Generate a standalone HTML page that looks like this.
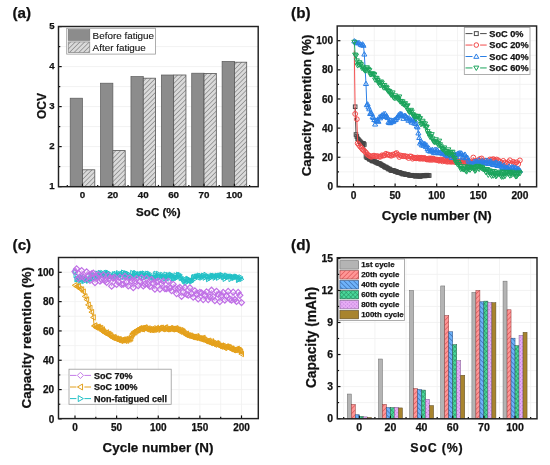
<!DOCTYPE html><html><head><meta charset="utf-8"><style>html,body{margin:0;padding:0;background:#fff;}svg{display:block;will-change:transform;}</style></head><body>
<svg width="550" height="465" viewBox="0 0 550 465" font-family='"Liberation Sans", sans-serif' fill="#111">
<style>text{stroke:#111;stroke-width:0.25px;paint-order:stroke;}</style>
<defs>
<pattern id="hatchA" patternUnits="userSpaceOnUse" width="3.3" height="3.3" patternTransform="rotate(45)">
<rect width="3.3" height="3.3" fill="#dadada"/><line x1="0" y1="0" x2="0" y2="3.3" stroke="#6e6e6e" stroke-width="1.1"/></pattern>
<pattern id="hR" patternUnits="userSpaceOnUse" width="3.4" height="3.4" patternTransform="rotate(45)">
<rect width="3.4" height="3.4" fill="#ff9696"/><line x1="0" y1="0" x2="0" y2="3.4" stroke="#d44848" stroke-width="1.1"/></pattern>
<pattern id="hB" patternUnits="userSpaceOnUse" width="3.4" height="3.4" patternTransform="rotate(-45)">
<rect width="3.4" height="3.4" fill="#6eb2fa"/><line x1="0" y1="0" x2="0" y2="3.4" stroke="#2a5696" stroke-width="1.0"/></pattern>
<pattern id="hG" patternUnits="userSpaceOnUse" width="3.2" height="3.2" patternTransform="rotate(45)">
<rect width="3.2" height="3.2" fill="#48d89a"/><line x1="0" y1="0" x2="0" y2="3.2" stroke="#1d7a50" stroke-width="0.8"/><line x1="0" y1="0" x2="3.2" y2="0" stroke="#1d7a50" stroke-width="0.8"/></pattern>
<pattern id="hP" patternUnits="userSpaceOnUse" width="2.6" height="2.6" patternTransform="rotate(45)">
<rect width="2.6" height="2.6" fill="#e8aef6"/><rect width="1.1" height="1.1" fill="#b878d6"/></pattern>
</defs>
<line x1="58.5" x2="258.2" y1="166.6" y2="166.6" stroke="#ededed" stroke-width="0.8"/>
<line x1="58.5" x2="258.2" y1="146.6" y2="146.6" stroke="#ededed" stroke-width="0.8"/>
<line x1="58.5" x2="258.2" y1="126.6" y2="126.6" stroke="#ededed" stroke-width="0.8"/>
<line x1="58.5" x2="258.2" y1="106.6" y2="106.6" stroke="#ededed" stroke-width="0.8"/>
<line x1="58.5" x2="258.2" y1="86.6" y2="86.6" stroke="#ededed" stroke-width="0.8"/>
<line x1="58.5" x2="258.2" y1="66.6" y2="66.6" stroke="#ededed" stroke-width="0.8"/>
<line x1="58.5" x2="258.2" y1="46.6" y2="46.6" stroke="#ededed" stroke-width="0.8"/>
<line x1="58.5" x2="258.2" y1="26.6" y2="26.6" stroke="#ededed" stroke-width="0.8"/>
<rect x="70.2" y="98.2" width="12.3" height="88.5" fill="#8c8c8c" stroke="#5a5a5a" stroke-width="0.7"/>
<rect x="82.5" y="169.8" width="12.3" height="16.9" fill="url(#hatchA)" stroke="#555" stroke-width="0.8"/>
<rect x="100.58" y="83.2" width="12.3" height="103.5" fill="#8c8c8c" stroke="#5a5a5a" stroke-width="0.7"/>
<rect x="112.88" y="150.6" width="12.3" height="36.1" fill="url(#hatchA)" stroke="#555" stroke-width="0.8"/>
<rect x="130.96" y="76.6" width="12.3" height="110.1" fill="#8c8c8c" stroke="#5a5a5a" stroke-width="0.7"/>
<rect x="143.26" y="78.2" width="12.3" height="108.5" fill="url(#hatchA)" stroke="#555" stroke-width="0.8"/>
<rect x="161.34" y="75" width="12.3" height="111.7" fill="#8c8c8c" stroke="#5a5a5a" stroke-width="0.7"/>
<rect x="173.64" y="75" width="12.3" height="111.7" fill="url(#hatchA)" stroke="#555" stroke-width="0.8"/>
<rect x="191.72" y="73.2" width="12.3" height="113.5" fill="#8c8c8c" stroke="#5a5a5a" stroke-width="0.7"/>
<rect x="204.02" y="73.4" width="12.3" height="113.3" fill="url(#hatchA)" stroke="#555" stroke-width="0.8"/>
<rect x="222.1" y="61.4" width="12.3" height="125.3" fill="#8c8c8c" stroke="#5a5a5a" stroke-width="0.7"/>
<rect x="234.4" y="62.2" width="12.3" height="124.5" fill="url(#hatchA)" stroke="#555" stroke-width="0.8"/>
<line x1="58.5" x2="61.7" y1="186.6" y2="186.6" stroke="#111" stroke-width="1.2"/>
<line x1="58.5" x2="61.7" y1="146.6" y2="146.6" stroke="#111" stroke-width="1.2"/>
<line x1="58.5" x2="61.7" y1="106.6" y2="106.6" stroke="#111" stroke-width="1.2"/>
<line x1="58.5" x2="61.7" y1="66.6" y2="66.6" stroke="#111" stroke-width="1.2"/>
<line x1="58.5" x2="61.7" y1="26.6" y2="26.6" stroke="#111" stroke-width="1.2"/>
<line x1="58.5" x2="60.3" y1="166.6" y2="166.6" stroke="#111" stroke-width="1.2"/>
<line x1="58.5" x2="60.3" y1="126.6" y2="126.6" stroke="#111" stroke-width="1.2"/>
<line x1="58.5" x2="60.3" y1="86.6" y2="86.6" stroke="#111" stroke-width="1.2"/>
<line x1="58.5" x2="60.3" y1="46.6" y2="46.6" stroke="#111" stroke-width="1.2"/>
<line x1="82.5" x2="82.5" y1="186.7" y2="183.7" stroke="#111" stroke-width="1.2"/>
<line x1="112.88" x2="112.88" y1="186.7" y2="183.7" stroke="#111" stroke-width="1.2"/>
<line x1="143.26" x2="143.26" y1="186.7" y2="183.7" stroke="#111" stroke-width="1.2"/>
<line x1="173.64" x2="173.64" y1="186.7" y2="183.7" stroke="#111" stroke-width="1.2"/>
<line x1="204.02" x2="204.02" y1="186.7" y2="183.7" stroke="#111" stroke-width="1.2"/>
<line x1="234.4" x2="234.4" y1="186.7" y2="183.7" stroke="#111" stroke-width="1.2"/>
<line x1="97.7" x2="97.7" y1="186.7" y2="184.9" stroke="#111" stroke-width="1.2"/>
<line x1="128.08" x2="128.08" y1="186.7" y2="184.9" stroke="#111" stroke-width="1.2"/>
<line x1="158.46" x2="158.46" y1="186.7" y2="184.9" stroke="#111" stroke-width="1.2"/>
<line x1="188.84" x2="188.84" y1="186.7" y2="184.9" stroke="#111" stroke-width="1.2"/>
<line x1="219.22" x2="219.22" y1="186.7" y2="184.9" stroke="#111" stroke-width="1.2"/>
<line x1="249.6" x2="249.6" y1="186.7" y2="184.9" stroke="#111" stroke-width="1.2"/>
<line x1="67.3" x2="67.3" y1="186.7" y2="184.9" stroke="#111" stroke-width="1.2"/>
<rect x="58.5" y="26.5" width="199.7" height="160.2" fill="none" stroke="#222" stroke-width="1.45"/>
<text x="54.6" y="189.3" font-size="9.6" text-anchor="end" font-weight="bold" >1</text>
<text x="54.6" y="149.3" font-size="9.6" text-anchor="end" font-weight="bold" >2</text>
<text x="54.6" y="109.3" font-size="9.6" text-anchor="end" font-weight="bold" >3</text>
<text x="54.6" y="69.3" font-size="9.6" text-anchor="end" font-weight="bold" >4</text>
<text x="54.6" y="29.3" font-size="9.6" text-anchor="end" font-weight="bold" >5</text>
<text x="82.5" y="198.2" font-size="9.8" text-anchor="middle" font-weight="bold" >0</text>
<text x="112.88" y="198.2" font-size="9.8" text-anchor="middle" font-weight="bold" >20</text>
<text x="143.26" y="198.2" font-size="9.8" text-anchor="middle" font-weight="bold" >40</text>
<text x="173.64" y="198.2" font-size="9.8" text-anchor="middle" font-weight="bold" >60</text>
<text x="204.02" y="198.2" font-size="9.8" text-anchor="middle" font-weight="bold" >70</text>
<text x="234.4" y="198.2" font-size="9.8" text-anchor="middle" font-weight="bold" >100</text>
<text x="158.3" y="216.2" font-size="11.6" text-anchor="middle" font-weight="bold" >SoC (%)</text>
<text transform="translate(45.6,106) rotate(-90)" font-size="12.0" text-anchor="middle" font-weight="bold">OCV</text>
<text x="21.8" y="18.2" font-size="15.2" text-anchor="middle" font-weight="bold" >(a)</text>
<rect x="66.7" y="28.3" width="88.8" height="25.8" fill="#fff" stroke="#9a9a9a" stroke-width="0.8"/>
<rect x="68.2" y="29.6" width="21.6" height="10.8" fill="#8c8c8c" stroke="#6e6e6e" stroke-width="0.6"/>
<rect x="68.2" y="41.9" width="21.6" height="10.6" fill="url(#hatchA)" stroke="#707070" stroke-width="0.6"/>
<text x="92.6" y="38.6" font-size="9.9" text-anchor="start" font-weight="normal" style="stroke-width:0.12px">Before fatigue</text>
<text x="92.6" y="50.6" font-size="9.9" text-anchor="start" font-weight="normal" style="stroke-width:0.12px">After fatigue</text>
<line x1="353.5" x2="353.5" y1="26" y2="186.8" stroke="#f0f0f0" stroke-width="0.8"/>
<line x1="374.3" x2="374.3" y1="26" y2="186.8" stroke="#f0f0f0" stroke-width="0.8"/>
<line x1="395.1" x2="395.1" y1="26" y2="186.8" stroke="#f0f0f0" stroke-width="0.8"/>
<line x1="415.9" x2="415.9" y1="26" y2="186.8" stroke="#f0f0f0" stroke-width="0.8"/>
<line x1="436.7" x2="436.7" y1="26" y2="186.8" stroke="#f0f0f0" stroke-width="0.8"/>
<line x1="457.5" x2="457.5" y1="26" y2="186.8" stroke="#f0f0f0" stroke-width="0.8"/>
<line x1="478.3" x2="478.3" y1="26" y2="186.8" stroke="#f0f0f0" stroke-width="0.8"/>
<line x1="499.1" x2="499.1" y1="26" y2="186.8" stroke="#f0f0f0" stroke-width="0.8"/>
<line x1="519.9" x2="519.9" y1="26" y2="186.8" stroke="#f0f0f0" stroke-width="0.8"/>
<line x1="337.2" x2="536.6" y1="171.83" y2="171.83" stroke="#f0f0f0" stroke-width="0.8"/>
<line x1="337.2" x2="536.6" y1="157.26" y2="157.26" stroke="#f0f0f0" stroke-width="0.8"/>
<line x1="337.2" x2="536.6" y1="142.69" y2="142.69" stroke="#f0f0f0" stroke-width="0.8"/>
<line x1="337.2" x2="536.6" y1="128.12" y2="128.12" stroke="#f0f0f0" stroke-width="0.8"/>
<line x1="337.2" x2="536.6" y1="113.55" y2="113.55" stroke="#f0f0f0" stroke-width="0.8"/>
<line x1="337.2" x2="536.6" y1="98.98" y2="98.98" stroke="#f0f0f0" stroke-width="0.8"/>
<line x1="337.2" x2="536.6" y1="84.41" y2="84.41" stroke="#f0f0f0" stroke-width="0.8"/>
<line x1="337.2" x2="536.6" y1="69.84" y2="69.84" stroke="#f0f0f0" stroke-width="0.8"/>
<line x1="337.2" x2="536.6" y1="55.27" y2="55.27" stroke="#f0f0f0" stroke-width="0.8"/>
<line x1="337.2" x2="536.6" y1="40.7" y2="40.7" stroke="#f0f0f0" stroke-width="0.8"/>
<path d="M355.16 106.73L356 134.52L356.83 136.49L357.66 138.82L358.49 139.66L359.32 140.76L360.16 141.63L360.99 142.56L361.82 143.62L362.65 143.88L363.48 143.38L364.32 144.52L365.98 156.3L366.81 157.58L367.64 157.8L368.48 158.17L369.31 159.22L370.14 159.2L370.97 159.59L371.8 160.71L372.64 161.06L373.47 160.96L374.3 160.97L375.13 161.81L375.96 162.3L376.8 162.48L377.63 163.17L378.46 163.36L379.29 163.52L380.12 163.82L380.96 164.55L381.79 165.05L382.62 165.56L383.45 165.84L384.28 166.49L385.12 167.22L385.95 167.01L386.78 167.75L387.61 168.17L388.44 169.07L389.28 168.86L390.11 169.48L390.94 170.39L391.77 170.47L392.6 170.4L393.44 170.67L394.27 170.74L395.1 171.46L395.93 171.37L396.76 171.78L397.6 172.37L398.43 172.38L399.26 172.39L400.09 172.69L400.92 173.19L401.76 173.31L402.59 173.99L403.42 174L404.25 173.71L405.08 174.24L405.92 174.64L406.75 174.51L407.58 174.57L408.41 174.79L409.24 175.24L410.08 175.38L410.91 175.39L411.74 175.23L412.57 175.53L413.4 175.71L414.24 175.7L415.07 176.18L415.9 176.24L416.73 175.73L417.56 175.56L418.4 175.97L419.23 176.22L420.06 176.49L420.89 176.12L421.72 175.62L422.56 175.73L423.39 175.85L424.22 175.49L425.05 175.96L425.88 175.63L426.72 175.17L427.55 175.42L428.38 175.44L429.21 175.53" fill="none" stroke="#454545" stroke-width="1.0"/>
<rect x="353.38" y="104.95" width="3.57" height="3.57" fill="none" stroke="#454545" stroke-width="1.0"/>
<rect x="354.21" y="132.73" width="3.57" height="3.57" fill="none" stroke="#454545" stroke-width="1.0"/>
<rect x="355.04" y="134.7" width="3.57" height="3.57" fill="none" stroke="#454545" stroke-width="1.0"/>
<rect x="355.88" y="137.04" width="3.57" height="3.57" fill="none" stroke="#454545" stroke-width="1.0"/>
<rect x="356.71" y="137.88" width="3.57" height="3.57" fill="none" stroke="#454545" stroke-width="1.0"/>
<rect x="357.54" y="138.97" width="3.57" height="3.57" fill="none" stroke="#454545" stroke-width="1.0"/>
<rect x="358.37" y="139.84" width="3.57" height="3.57" fill="none" stroke="#454545" stroke-width="1.0"/>
<rect x="359.2" y="140.77" width="3.57" height="3.57" fill="none" stroke="#454545" stroke-width="1.0"/>
<rect x="360.03" y="141.84" width="3.57" height="3.57" fill="none" stroke="#454545" stroke-width="1.0"/>
<rect x="360.87" y="142.1" width="3.57" height="3.57" fill="none" stroke="#454545" stroke-width="1.0"/>
<rect x="361.7" y="141.59" width="3.57" height="3.57" fill="none" stroke="#454545" stroke-width="1.0"/>
<rect x="362.53" y="142.73" width="3.57" height="3.57" fill="none" stroke="#454545" stroke-width="1.0"/>
<rect x="364.19" y="154.52" width="3.57" height="3.57" fill="none" stroke="#454545" stroke-width="1.0"/>
<rect x="365.03" y="155.79" width="3.57" height="3.57" fill="none" stroke="#454545" stroke-width="1.0"/>
<rect x="365.86" y="156.02" width="3.57" height="3.57" fill="none" stroke="#454545" stroke-width="1.0"/>
<rect x="366.69" y="156.39" width="3.57" height="3.57" fill="none" stroke="#454545" stroke-width="1.0"/>
<rect x="367.52" y="157.43" width="3.57" height="3.57" fill="none" stroke="#454545" stroke-width="1.0"/>
<rect x="368.35" y="157.42" width="3.57" height="3.57" fill="none" stroke="#454545" stroke-width="1.0"/>
<rect x="369.19" y="157.81" width="3.57" height="3.57" fill="none" stroke="#454545" stroke-width="1.0"/>
<rect x="370.02" y="158.92" width="3.57" height="3.57" fill="none" stroke="#454545" stroke-width="1.0"/>
<rect x="370.85" y="159.28" width="3.57" height="3.57" fill="none" stroke="#454545" stroke-width="1.0"/>
<rect x="371.68" y="159.18" width="3.57" height="3.57" fill="none" stroke="#454545" stroke-width="1.0"/>
<rect x="372.51" y="159.18" width="3.57" height="3.57" fill="none" stroke="#454545" stroke-width="1.0"/>
<rect x="373.35" y="160.02" width="3.57" height="3.57" fill="none" stroke="#454545" stroke-width="1.0"/>
<rect x="374.18" y="160.52" width="3.57" height="3.57" fill="none" stroke="#454545" stroke-width="1.0"/>
<rect x="375.01" y="160.69" width="3.57" height="3.57" fill="none" stroke="#454545" stroke-width="1.0"/>
<rect x="375.84" y="161.39" width="3.57" height="3.57" fill="none" stroke="#454545" stroke-width="1.0"/>
<rect x="376.67" y="161.57" width="3.57" height="3.57" fill="none" stroke="#454545" stroke-width="1.0"/>
<rect x="377.51" y="161.73" width="3.57" height="3.57" fill="none" stroke="#454545" stroke-width="1.0"/>
<rect x="378.34" y="162.04" width="3.57" height="3.57" fill="none" stroke="#454545" stroke-width="1.0"/>
<rect x="379.17" y="162.76" width="3.57" height="3.57" fill="none" stroke="#454545" stroke-width="1.0"/>
<rect x="380" y="163.26" width="3.57" height="3.57" fill="none" stroke="#454545" stroke-width="1.0"/>
<rect x="380.83" y="163.77" width="3.57" height="3.57" fill="none" stroke="#454545" stroke-width="1.0"/>
<rect x="381.67" y="164.06" width="3.57" height="3.57" fill="none" stroke="#454545" stroke-width="1.0"/>
<rect x="382.5" y="164.7" width="3.57" height="3.57" fill="none" stroke="#454545" stroke-width="1.0"/>
<rect x="383.33" y="165.44" width="3.57" height="3.57" fill="none" stroke="#454545" stroke-width="1.0"/>
<rect x="384.16" y="165.22" width="3.57" height="3.57" fill="none" stroke="#454545" stroke-width="1.0"/>
<rect x="384.99" y="165.96" width="3.57" height="3.57" fill="none" stroke="#454545" stroke-width="1.0"/>
<rect x="385.83" y="166.39" width="3.57" height="3.57" fill="none" stroke="#454545" stroke-width="1.0"/>
<rect x="386.66" y="167.28" width="3.57" height="3.57" fill="none" stroke="#454545" stroke-width="1.0"/>
<rect x="387.49" y="167.08" width="3.57" height="3.57" fill="none" stroke="#454545" stroke-width="1.0"/>
<rect x="388.32" y="167.69" width="3.57" height="3.57" fill="none" stroke="#454545" stroke-width="1.0"/>
<rect x="389.15" y="168.6" width="3.57" height="3.57" fill="none" stroke="#454545" stroke-width="1.0"/>
<rect x="389.99" y="168.69" width="3.57" height="3.57" fill="none" stroke="#454545" stroke-width="1.0"/>
<rect x="390.82" y="168.61" width="3.57" height="3.57" fill="none" stroke="#454545" stroke-width="1.0"/>
<rect x="391.65" y="168.89" width="3.57" height="3.57" fill="none" stroke="#454545" stroke-width="1.0"/>
<rect x="392.48" y="168.96" width="3.57" height="3.57" fill="none" stroke="#454545" stroke-width="1.0"/>
<rect x="393.31" y="169.68" width="3.57" height="3.57" fill="none" stroke="#454545" stroke-width="1.0"/>
<rect x="394.15" y="169.59" width="3.57" height="3.57" fill="none" stroke="#454545" stroke-width="1.0"/>
<rect x="394.98" y="169.99" width="3.57" height="3.57" fill="none" stroke="#454545" stroke-width="1.0"/>
<rect x="395.81" y="170.58" width="3.57" height="3.57" fill="none" stroke="#454545" stroke-width="1.0"/>
<rect x="396.64" y="170.6" width="3.57" height="3.57" fill="none" stroke="#454545" stroke-width="1.0"/>
<rect x="397.47" y="170.61" width="3.57" height="3.57" fill="none" stroke="#454545" stroke-width="1.0"/>
<rect x="398.31" y="170.91" width="3.57" height="3.57" fill="none" stroke="#454545" stroke-width="1.0"/>
<rect x="399.14" y="171.4" width="3.57" height="3.57" fill="none" stroke="#454545" stroke-width="1.0"/>
<rect x="399.97" y="171.52" width="3.57" height="3.57" fill="none" stroke="#454545" stroke-width="1.0"/>
<rect x="400.8" y="172.2" width="3.57" height="3.57" fill="none" stroke="#454545" stroke-width="1.0"/>
<rect x="401.63" y="172.21" width="3.57" height="3.57" fill="none" stroke="#454545" stroke-width="1.0"/>
<rect x="402.47" y="171.92" width="3.57" height="3.57" fill="none" stroke="#454545" stroke-width="1.0"/>
<rect x="403.3" y="172.45" width="3.57" height="3.57" fill="none" stroke="#454545" stroke-width="1.0"/>
<rect x="404.13" y="172.86" width="3.57" height="3.57" fill="none" stroke="#454545" stroke-width="1.0"/>
<rect x="404.96" y="172.72" width="3.57" height="3.57" fill="none" stroke="#454545" stroke-width="1.0"/>
<rect x="405.79" y="172.78" width="3.57" height="3.57" fill="none" stroke="#454545" stroke-width="1.0"/>
<rect x="406.63" y="173" width="3.57" height="3.57" fill="none" stroke="#454545" stroke-width="1.0"/>
<rect x="407.46" y="173.46" width="3.57" height="3.57" fill="none" stroke="#454545" stroke-width="1.0"/>
<rect x="408.29" y="173.6" width="3.57" height="3.57" fill="none" stroke="#454545" stroke-width="1.0"/>
<rect x="409.12" y="173.61" width="3.57" height="3.57" fill="none" stroke="#454545" stroke-width="1.0"/>
<rect x="409.95" y="173.44" width="3.57" height="3.57" fill="none" stroke="#454545" stroke-width="1.0"/>
<rect x="410.79" y="173.74" width="3.57" height="3.57" fill="none" stroke="#454545" stroke-width="1.0"/>
<rect x="411.62" y="173.93" width="3.57" height="3.57" fill="none" stroke="#454545" stroke-width="1.0"/>
<rect x="412.45" y="173.92" width="3.57" height="3.57" fill="none" stroke="#454545" stroke-width="1.0"/>
<rect x="413.28" y="174.39" width="3.57" height="3.57" fill="none" stroke="#454545" stroke-width="1.0"/>
<rect x="414.11" y="174.45" width="3.57" height="3.57" fill="none" stroke="#454545" stroke-width="1.0"/>
<rect x="414.95" y="173.95" width="3.57" height="3.57" fill="none" stroke="#454545" stroke-width="1.0"/>
<rect x="415.78" y="173.78" width="3.57" height="3.57" fill="none" stroke="#454545" stroke-width="1.0"/>
<rect x="416.61" y="174.19" width="3.57" height="3.57" fill="none" stroke="#454545" stroke-width="1.0"/>
<rect x="417.44" y="174.44" width="3.57" height="3.57" fill="none" stroke="#454545" stroke-width="1.0"/>
<rect x="418.27" y="174.7" width="3.57" height="3.57" fill="none" stroke="#454545" stroke-width="1.0"/>
<rect x="419.11" y="174.33" width="3.57" height="3.57" fill="none" stroke="#454545" stroke-width="1.0"/>
<rect x="419.94" y="173.84" width="3.57" height="3.57" fill="none" stroke="#454545" stroke-width="1.0"/>
<rect x="420.77" y="173.94" width="3.57" height="3.57" fill="none" stroke="#454545" stroke-width="1.0"/>
<rect x="421.6" y="174.06" width="3.57" height="3.57" fill="none" stroke="#454545" stroke-width="1.0"/>
<rect x="422.44" y="173.7" width="3.57" height="3.57" fill="none" stroke="#454545" stroke-width="1.0"/>
<rect x="423.27" y="174.17" width="3.57" height="3.57" fill="none" stroke="#454545" stroke-width="1.0"/>
<rect x="424.1" y="173.85" width="3.57" height="3.57" fill="none" stroke="#454545" stroke-width="1.0"/>
<rect x="424.93" y="173.38" width="3.57" height="3.57" fill="none" stroke="#454545" stroke-width="1.0"/>
<rect x="425.76" y="173.63" width="3.57" height="3.57" fill="none" stroke="#454545" stroke-width="1.0"/>
<rect x="426.59" y="173.66" width="3.57" height="3.57" fill="none" stroke="#454545" stroke-width="1.0"/>
<rect x="427.43" y="173.74" width="3.57" height="3.57" fill="none" stroke="#454545" stroke-width="1.0"/>
<path d="M354.33 50.5L355.16 113.89L356.83 119.18L357.66 143.34L358.91 144.87L360.16 146.56L361.4 147.93L362.65 149.54L363.9 150.53L365.15 151.78L366.4 153.07L367.64 154.72L368.89 155.48L370.14 156.33L371.39 156.86L372.64 155.94L373.97 155.61L375.3 156.33L376.63 156.16L377.96 156.22L379.29 156.76L380.62 156.68L381.95 155.29L383.29 155.61L384.62 155.32L385.95 153.74L387.28 154.73L388.61 154.55L389.94 155.42L391.27 155.79L392.6 154.64L393.94 154.91L395.27 153.68L396.6 153.04L397.93 154.76L399.26 156.97L400.59 155.45L401.92 155.9L403.25 156.24L404.58 155.91L405.92 156.49L407.25 156.58L408.58 158.02L409.91 156.36L411.24 156.58L412.57 158.73L413.4 157.57L414.24 157.7L415.07 158.27L415.9 158.18L416.73 158.31L417.56 157.48L418.4 158.39L419.23 157.77L420.06 158.8L420.89 157.77L421.72 157.79L422.56 158.73L423.39 158.56L424.22 157.9L425.05 158.35L425.88 158.88L426.72 159.47L427.55 159.32L428.38 158.6L429.21 159.78L430.04 158.35L430.88 159.74L431.71 158.52L432.54 159.83L433.37 158.6L434.2 159.2L435.04 159.7L435.87 159.76L436.7 159.57L437.53 159.79L438.36 160.44L439.2 160.74L440.03 160.21L440.86 159.43L441.69 160.16L442.52 161.36L443.36 159.93L444.19 160.21L445.02 159.93L445.85 161.43L446.68 160.34L447.52 161.79L448.35 160.62L449.18 161.44L450.01 161.58L450.84 160.3L451.68 161.91L452.51 161.1L453.34 160.47L454.17 161.76L455 161.87L455.84 160.55L456.67 161.53L457.5 160.97L458.33 162.41L459.16 161.78L460 162.21L460.83 161.23L461.66 162.48L462.49 160.7L463.32 162.6L464.16 161.16L464.99 162.61L465.82 162.13L466.65 160.99L467.48 162.33L468.32 162.28L469.15 161.24L469.98 162.16L471.64 162.83L473.31 157.48L474.97 160.95L476.64 161.55L478.3 160.17L479.96 158.97L481.63 158.43L483.29 161.51L484.96 160.7L486.62 162.36L488.28 160.65L489.95 159.4L491.61 159.7L493.28 159.06L494.94 159.86L496.6 159.47L498.27 160.32L499.93 161.52L501.6 162.79L503.26 160.88L504.92 162.57L506.59 163.66L508.25 162.14L509.92 160.23L511.58 163.8L513.24 161.76L514.91 162.74L516.57 162.26L518.24 164.08L519.9 160.36" fill="none" stroke="#f24a4a" stroke-width="1.0"/>
<circle cx="355.16" cy="113.89" r="2.4" fill="none" stroke="#f24a4a" stroke-width="1.0"/>
<circle cx="356.83" cy="119.18" r="2.4" fill="none" stroke="#f24a4a" stroke-width="1.0"/>
<circle cx="357.66" cy="143.34" r="2.4" fill="none" stroke="#f24a4a" stroke-width="1.0"/>
<circle cx="358.91" cy="144.87" r="2.4" fill="none" stroke="#f24a4a" stroke-width="1.0"/>
<circle cx="360.16" cy="146.56" r="2.4" fill="none" stroke="#f24a4a" stroke-width="1.0"/>
<circle cx="361.4" cy="147.93" r="2.4" fill="none" stroke="#f24a4a" stroke-width="1.0"/>
<circle cx="362.65" cy="149.54" r="2.4" fill="none" stroke="#f24a4a" stroke-width="1.0"/>
<circle cx="363.9" cy="150.53" r="2.4" fill="none" stroke="#f24a4a" stroke-width="1.0"/>
<circle cx="365.15" cy="151.78" r="2.4" fill="none" stroke="#f24a4a" stroke-width="1.0"/>
<circle cx="366.4" cy="153.07" r="2.4" fill="none" stroke="#f24a4a" stroke-width="1.0"/>
<circle cx="367.64" cy="154.72" r="2.4" fill="none" stroke="#f24a4a" stroke-width="1.0"/>
<circle cx="368.89" cy="155.48" r="2.4" fill="none" stroke="#f24a4a" stroke-width="1.0"/>
<circle cx="370.14" cy="156.33" r="2.4" fill="none" stroke="#f24a4a" stroke-width="1.0"/>
<circle cx="371.39" cy="156.86" r="2.4" fill="none" stroke="#f24a4a" stroke-width="1.0"/>
<circle cx="372.64" cy="155.94" r="2.4" fill="none" stroke="#f24a4a" stroke-width="1.0"/>
<circle cx="373.97" cy="155.61" r="2.4" fill="none" stroke="#f24a4a" stroke-width="1.0"/>
<circle cx="375.3" cy="156.33" r="2.4" fill="none" stroke="#f24a4a" stroke-width="1.0"/>
<circle cx="376.63" cy="156.16" r="2.4" fill="none" stroke="#f24a4a" stroke-width="1.0"/>
<circle cx="377.96" cy="156.22" r="2.4" fill="none" stroke="#f24a4a" stroke-width="1.0"/>
<circle cx="379.29" cy="156.76" r="2.4" fill="none" stroke="#f24a4a" stroke-width="1.0"/>
<circle cx="380.62" cy="156.68" r="2.4" fill="none" stroke="#f24a4a" stroke-width="1.0"/>
<circle cx="381.95" cy="155.29" r="2.4" fill="none" stroke="#f24a4a" stroke-width="1.0"/>
<circle cx="383.29" cy="155.61" r="2.4" fill="none" stroke="#f24a4a" stroke-width="1.0"/>
<circle cx="384.62" cy="155.32" r="2.4" fill="none" stroke="#f24a4a" stroke-width="1.0"/>
<circle cx="385.95" cy="153.74" r="2.4" fill="none" stroke="#f24a4a" stroke-width="1.0"/>
<circle cx="387.28" cy="154.73" r="2.4" fill="none" stroke="#f24a4a" stroke-width="1.0"/>
<circle cx="388.61" cy="154.55" r="2.4" fill="none" stroke="#f24a4a" stroke-width="1.0"/>
<circle cx="389.94" cy="155.42" r="2.4" fill="none" stroke="#f24a4a" stroke-width="1.0"/>
<circle cx="391.27" cy="155.79" r="2.4" fill="none" stroke="#f24a4a" stroke-width="1.0"/>
<circle cx="392.6" cy="154.64" r="2.4" fill="none" stroke="#f24a4a" stroke-width="1.0"/>
<circle cx="393.94" cy="154.91" r="2.4" fill="none" stroke="#f24a4a" stroke-width="1.0"/>
<circle cx="395.27" cy="153.68" r="2.4" fill="none" stroke="#f24a4a" stroke-width="1.0"/>
<circle cx="396.6" cy="153.04" r="2.4" fill="none" stroke="#f24a4a" stroke-width="1.0"/>
<circle cx="397.93" cy="154.76" r="2.4" fill="none" stroke="#f24a4a" stroke-width="1.0"/>
<circle cx="399.26" cy="156.97" r="2.4" fill="none" stroke="#f24a4a" stroke-width="1.0"/>
<circle cx="400.59" cy="155.45" r="2.4" fill="none" stroke="#f24a4a" stroke-width="1.0"/>
<circle cx="401.92" cy="155.9" r="2.4" fill="none" stroke="#f24a4a" stroke-width="1.0"/>
<circle cx="403.25" cy="156.24" r="2.4" fill="none" stroke="#f24a4a" stroke-width="1.0"/>
<circle cx="404.58" cy="155.91" r="2.4" fill="none" stroke="#f24a4a" stroke-width="1.0"/>
<circle cx="405.92" cy="156.49" r="2.4" fill="none" stroke="#f24a4a" stroke-width="1.0"/>
<circle cx="407.25" cy="156.58" r="2.4" fill="none" stroke="#f24a4a" stroke-width="1.0"/>
<circle cx="408.58" cy="158.02" r="2.4" fill="none" stroke="#f24a4a" stroke-width="1.0"/>
<circle cx="409.91" cy="156.36" r="2.4" fill="none" stroke="#f24a4a" stroke-width="1.0"/>
<circle cx="411.24" cy="156.58" r="2.4" fill="none" stroke="#f24a4a" stroke-width="1.0"/>
<circle cx="412.57" cy="158.73" r="2.4" fill="none" stroke="#f24a4a" stroke-width="1.0"/>
<circle cx="413.4" cy="157.57" r="2.4" fill="none" stroke="#f24a4a" stroke-width="1.0"/>
<circle cx="414.24" cy="157.7" r="2.4" fill="none" stroke="#f24a4a" stroke-width="1.0"/>
<circle cx="415.07" cy="158.27" r="2.4" fill="none" stroke="#f24a4a" stroke-width="1.0"/>
<circle cx="415.9" cy="158.18" r="2.4" fill="none" stroke="#f24a4a" stroke-width="1.0"/>
<circle cx="416.73" cy="158.31" r="2.4" fill="none" stroke="#f24a4a" stroke-width="1.0"/>
<circle cx="417.56" cy="157.48" r="2.4" fill="none" stroke="#f24a4a" stroke-width="1.0"/>
<circle cx="418.4" cy="158.39" r="2.4" fill="none" stroke="#f24a4a" stroke-width="1.0"/>
<circle cx="419.23" cy="157.77" r="2.4" fill="none" stroke="#f24a4a" stroke-width="1.0"/>
<circle cx="420.06" cy="158.8" r="2.4" fill="none" stroke="#f24a4a" stroke-width="1.0"/>
<circle cx="420.89" cy="157.77" r="2.4" fill="none" stroke="#f24a4a" stroke-width="1.0"/>
<circle cx="421.72" cy="157.79" r="2.4" fill="none" stroke="#f24a4a" stroke-width="1.0"/>
<circle cx="422.56" cy="158.73" r="2.4" fill="none" stroke="#f24a4a" stroke-width="1.0"/>
<circle cx="423.39" cy="158.56" r="2.4" fill="none" stroke="#f24a4a" stroke-width="1.0"/>
<circle cx="424.22" cy="157.9" r="2.4" fill="none" stroke="#f24a4a" stroke-width="1.0"/>
<circle cx="425.05" cy="158.35" r="2.4" fill="none" stroke="#f24a4a" stroke-width="1.0"/>
<circle cx="425.88" cy="158.88" r="2.4" fill="none" stroke="#f24a4a" stroke-width="1.0"/>
<circle cx="426.72" cy="159.47" r="2.4" fill="none" stroke="#f24a4a" stroke-width="1.0"/>
<circle cx="427.55" cy="159.32" r="2.4" fill="none" stroke="#f24a4a" stroke-width="1.0"/>
<circle cx="428.38" cy="158.6" r="2.4" fill="none" stroke="#f24a4a" stroke-width="1.0"/>
<circle cx="429.21" cy="159.78" r="2.4" fill="none" stroke="#f24a4a" stroke-width="1.0"/>
<circle cx="430.04" cy="158.35" r="2.4" fill="none" stroke="#f24a4a" stroke-width="1.0"/>
<circle cx="430.88" cy="159.74" r="2.4" fill="none" stroke="#f24a4a" stroke-width="1.0"/>
<circle cx="431.71" cy="158.52" r="2.4" fill="none" stroke="#f24a4a" stroke-width="1.0"/>
<circle cx="432.54" cy="159.83" r="2.4" fill="none" stroke="#f24a4a" stroke-width="1.0"/>
<circle cx="433.37" cy="158.6" r="2.4" fill="none" stroke="#f24a4a" stroke-width="1.0"/>
<circle cx="434.2" cy="159.2" r="2.4" fill="none" stroke="#f24a4a" stroke-width="1.0"/>
<circle cx="435.04" cy="159.7" r="2.4" fill="none" stroke="#f24a4a" stroke-width="1.0"/>
<circle cx="435.87" cy="159.76" r="2.4" fill="none" stroke="#f24a4a" stroke-width="1.0"/>
<circle cx="436.7" cy="159.57" r="2.4" fill="none" stroke="#f24a4a" stroke-width="1.0"/>
<circle cx="437.53" cy="159.79" r="2.4" fill="none" stroke="#f24a4a" stroke-width="1.0"/>
<circle cx="438.36" cy="160.44" r="2.4" fill="none" stroke="#f24a4a" stroke-width="1.0"/>
<circle cx="439.2" cy="160.74" r="2.4" fill="none" stroke="#f24a4a" stroke-width="1.0"/>
<circle cx="440.03" cy="160.21" r="2.4" fill="none" stroke="#f24a4a" stroke-width="1.0"/>
<circle cx="440.86" cy="159.43" r="2.4" fill="none" stroke="#f24a4a" stroke-width="1.0"/>
<circle cx="441.69" cy="160.16" r="2.4" fill="none" stroke="#f24a4a" stroke-width="1.0"/>
<circle cx="442.52" cy="161.36" r="2.4" fill="none" stroke="#f24a4a" stroke-width="1.0"/>
<circle cx="443.36" cy="159.93" r="2.4" fill="none" stroke="#f24a4a" stroke-width="1.0"/>
<circle cx="444.19" cy="160.21" r="2.4" fill="none" stroke="#f24a4a" stroke-width="1.0"/>
<circle cx="445.02" cy="159.93" r="2.4" fill="none" stroke="#f24a4a" stroke-width="1.0"/>
<circle cx="445.85" cy="161.43" r="2.4" fill="none" stroke="#f24a4a" stroke-width="1.0"/>
<circle cx="446.68" cy="160.34" r="2.4" fill="none" stroke="#f24a4a" stroke-width="1.0"/>
<circle cx="447.52" cy="161.79" r="2.4" fill="none" stroke="#f24a4a" stroke-width="1.0"/>
<circle cx="448.35" cy="160.62" r="2.4" fill="none" stroke="#f24a4a" stroke-width="1.0"/>
<circle cx="449.18" cy="161.44" r="2.4" fill="none" stroke="#f24a4a" stroke-width="1.0"/>
<circle cx="450.01" cy="161.58" r="2.4" fill="none" stroke="#f24a4a" stroke-width="1.0"/>
<circle cx="450.84" cy="160.3" r="2.4" fill="none" stroke="#f24a4a" stroke-width="1.0"/>
<circle cx="451.68" cy="161.91" r="2.4" fill="none" stroke="#f24a4a" stroke-width="1.0"/>
<circle cx="452.51" cy="161.1" r="2.4" fill="none" stroke="#f24a4a" stroke-width="1.0"/>
<circle cx="453.34" cy="160.47" r="2.4" fill="none" stroke="#f24a4a" stroke-width="1.0"/>
<circle cx="454.17" cy="161.76" r="2.4" fill="none" stroke="#f24a4a" stroke-width="1.0"/>
<circle cx="455" cy="161.87" r="2.4" fill="none" stroke="#f24a4a" stroke-width="1.0"/>
<circle cx="455.84" cy="160.55" r="2.4" fill="none" stroke="#f24a4a" stroke-width="1.0"/>
<circle cx="456.67" cy="161.53" r="2.4" fill="none" stroke="#f24a4a" stroke-width="1.0"/>
<circle cx="457.5" cy="160.97" r="2.4" fill="none" stroke="#f24a4a" stroke-width="1.0"/>
<circle cx="458.33" cy="162.41" r="2.4" fill="none" stroke="#f24a4a" stroke-width="1.0"/>
<circle cx="459.16" cy="161.78" r="2.4" fill="none" stroke="#f24a4a" stroke-width="1.0"/>
<circle cx="460" cy="162.21" r="2.4" fill="none" stroke="#f24a4a" stroke-width="1.0"/>
<circle cx="460.83" cy="161.23" r="2.4" fill="none" stroke="#f24a4a" stroke-width="1.0"/>
<circle cx="461.66" cy="162.48" r="2.4" fill="none" stroke="#f24a4a" stroke-width="1.0"/>
<circle cx="462.49" cy="160.7" r="2.4" fill="none" stroke="#f24a4a" stroke-width="1.0"/>
<circle cx="463.32" cy="162.6" r="2.4" fill="none" stroke="#f24a4a" stroke-width="1.0"/>
<circle cx="464.16" cy="161.16" r="2.4" fill="none" stroke="#f24a4a" stroke-width="1.0"/>
<circle cx="464.99" cy="162.61" r="2.4" fill="none" stroke="#f24a4a" stroke-width="1.0"/>
<circle cx="465.82" cy="162.13" r="2.4" fill="none" stroke="#f24a4a" stroke-width="1.0"/>
<circle cx="466.65" cy="160.99" r="2.4" fill="none" stroke="#f24a4a" stroke-width="1.0"/>
<circle cx="467.48" cy="162.33" r="2.4" fill="none" stroke="#f24a4a" stroke-width="1.0"/>
<circle cx="468.32" cy="162.28" r="2.4" fill="none" stroke="#f24a4a" stroke-width="1.0"/>
<circle cx="469.15" cy="161.24" r="2.4" fill="none" stroke="#f24a4a" stroke-width="1.0"/>
<circle cx="469.98" cy="162.16" r="2.4" fill="none" stroke="#f24a4a" stroke-width="1.0"/>
<circle cx="471.64" cy="162.83" r="2.4" fill="none" stroke="#f24a4a" stroke-width="1.0"/>
<circle cx="473.31" cy="157.48" r="2.4" fill="none" stroke="#f24a4a" stroke-width="1.0"/>
<circle cx="474.97" cy="160.95" r="2.4" fill="none" stroke="#f24a4a" stroke-width="1.0"/>
<circle cx="476.64" cy="161.55" r="2.4" fill="none" stroke="#f24a4a" stroke-width="1.0"/>
<circle cx="478.3" cy="160.17" r="2.4" fill="none" stroke="#f24a4a" stroke-width="1.0"/>
<circle cx="479.96" cy="158.97" r="2.4" fill="none" stroke="#f24a4a" stroke-width="1.0"/>
<circle cx="481.63" cy="158.43" r="2.4" fill="none" stroke="#f24a4a" stroke-width="1.0"/>
<circle cx="483.29" cy="161.51" r="2.4" fill="none" stroke="#f24a4a" stroke-width="1.0"/>
<circle cx="484.96" cy="160.7" r="2.4" fill="none" stroke="#f24a4a" stroke-width="1.0"/>
<circle cx="486.62" cy="162.36" r="2.4" fill="none" stroke="#f24a4a" stroke-width="1.0"/>
<circle cx="488.28" cy="160.65" r="2.4" fill="none" stroke="#f24a4a" stroke-width="1.0"/>
<circle cx="489.95" cy="159.4" r="2.4" fill="none" stroke="#f24a4a" stroke-width="1.0"/>
<circle cx="491.61" cy="159.7" r="2.4" fill="none" stroke="#f24a4a" stroke-width="1.0"/>
<circle cx="493.28" cy="159.06" r="2.4" fill="none" stroke="#f24a4a" stroke-width="1.0"/>
<circle cx="494.94" cy="159.86" r="2.4" fill="none" stroke="#f24a4a" stroke-width="1.0"/>
<circle cx="496.6" cy="159.47" r="2.4" fill="none" stroke="#f24a4a" stroke-width="1.0"/>
<circle cx="498.27" cy="160.32" r="2.4" fill="none" stroke="#f24a4a" stroke-width="1.0"/>
<circle cx="499.93" cy="161.52" r="2.4" fill="none" stroke="#f24a4a" stroke-width="1.0"/>
<circle cx="501.6" cy="162.79" r="2.4" fill="none" stroke="#f24a4a" stroke-width="1.0"/>
<circle cx="503.26" cy="160.88" r="2.4" fill="none" stroke="#f24a4a" stroke-width="1.0"/>
<circle cx="504.92" cy="162.57" r="2.4" fill="none" stroke="#f24a4a" stroke-width="1.0"/>
<circle cx="506.59" cy="163.66" r="2.4" fill="none" stroke="#f24a4a" stroke-width="1.0"/>
<circle cx="508.25" cy="162.14" r="2.4" fill="none" stroke="#f24a4a" stroke-width="1.0"/>
<circle cx="509.92" cy="160.23" r="2.4" fill="none" stroke="#f24a4a" stroke-width="1.0"/>
<circle cx="511.58" cy="163.8" r="2.4" fill="none" stroke="#f24a4a" stroke-width="1.0"/>
<circle cx="513.24" cy="161.76" r="2.4" fill="none" stroke="#f24a4a" stroke-width="1.0"/>
<circle cx="514.91" cy="162.74" r="2.4" fill="none" stroke="#f24a4a" stroke-width="1.0"/>
<circle cx="516.57" cy="162.26" r="2.4" fill="none" stroke="#f24a4a" stroke-width="1.0"/>
<circle cx="518.24" cy="164.08" r="2.4" fill="none" stroke="#f24a4a" stroke-width="1.0"/>
<circle cx="519.9" cy="160.36" r="2.4" fill="none" stroke="#f24a4a" stroke-width="1.0"/>
<path d="M354.33 41.08L355.58 42.06L356.83 42.93L358.08 42.81L359.32 42.99L360.57 44.38L361.82 45.02L362.65 44.2L363.48 45.42L364.32 54.2L365.98 83.69L366.81 104.85L367.64 104.19L368.48 107.13L369.31 108.95L370.14 113.62L370.97 113.12L371.8 113.72L372.64 116.85L373.47 117.59L374.3 119.72L375.13 124.2L375.96 120.43L376.8 120.44L377.63 120.98L378.46 121.43L379.29 117.05L380.12 118.04L380.96 116.48L381.79 115.29L382.62 115.53L383.45 114.14L384.28 115.95L385.12 113.69L385.95 116.71L386.78 116.02L387.61 117.72L388.44 122.18L389.28 122.63L390.11 122.9L390.94 120.26L391.77 121.99L392.6 120.57L393.44 121.41L394.27 119.93L395.1 119.88L395.93 119.4L396.76 117.74L397.6 117.12L398.43 115.09L399.26 115.43L400.09 113.71L400.92 114.39L401.76 114.16L402.59 115.91L403.42 118.49L404.25 115.79L405.08 115.7L405.92 116.31L406.75 118.14L407.58 117.86L408.41 120.38L409.24 117.99L410.08 119.45L410.91 121.03L411.74 122.32L412.57 119.19L413.4 118.92L414.24 123.18L415.07 120.4L415.9 123.61L416.73 126.25L417.56 127.13L418.4 133.11L419.23 137.66L420.06 143.23L420.89 141.61L421.72 144.97L422.56 142.9L423.39 145.47L424.22 143.94L425.05 144.09L425.88 146.75L426.72 145.17L427.55 148.77L428.38 150.37L429.21 148.42L430.04 151.24L430.88 150.85L431.71 150.26L432.54 149.71L433.37 152.03L434.2 152.86L435.04 149.59L435.87 152.35L436.7 149.86L437.53 150.38L438.36 152.9L439.2 152.79L440.03 152.77L440.86 152.48L441.69 152.94L442.52 153.34L443.36 153.33L444.19 152.17L445.02 154.32L445.85 154.79L446.68 153.67L447.52 155.93L448.35 155.8L449.18 152.99L450.01 155.13L450.84 155.15L451.68 157.65L452.51 156.03L453.34 155.45L454.17 157.61L455 154.71L455.84 154.35L456.67 156.56L457.5 153.79L458.33 154.2L459.16 152.98L460 154.12L460.83 153.07L461.66 153.44L462.49 157.07L463.32 157.4L464.16 155.21L464.99 154.46L465.82 158.07L466.65 157.68L467.48 157.58L468.32 160.41L469.15 161.86L469.98 163.72L470.81 165.12L471.64 163.69L472.48 164.54L473.31 163.77L474.14 161.61L474.97 164.43L475.8 161.89L476.64 160.99L477.47 162.68L478.3 162.89L479.13 160.18L479.96 162.48L480.8 162.78L481.63 161.77L482.46 160.69L483.29 163.37L484.12 162.48L484.96 162.5L485.79 160.39L486.62 162.19L487.45 160.51L488.28 163.66L489.12 163.07L489.95 161.85L490.78 160.97L491.61 163.01L492.44 164.14L493.28 164.74L494.11 163.1L494.94 164.73L495.77 162.33L496.6 162.48L497.44 165.64L498.27 165.51L499.1 163.49L499.93 164.51L500.76 164.08L501.6 166.39L502.43 167.62L503.26 167.2L504.09 165.27L504.92 167.82L505.76 167.75L506.59 167.71L507.42 167.96L508.25 168.26L509.08 166.29L509.92 169.9L510.75 170.82L511.58 166.98L512.41 167.43L513.24 167.14L514.08 169.73L514.91 167.65L515.74 167.92L516.57 171.18L517.4 169.07L518.24 168.84L519.07 169.78L519.9 170.58" fill="none" stroke="#2a7fe6" stroke-width="1.0"/>
<path d="M354.33 38.55L356.86 42.92L351.8 42.92Z" fill="none" stroke="#2a7fe6" stroke-width="1.0"/>
<path d="M355.58 39.53L358.11 43.9L353.05 43.9Z" fill="none" stroke="#2a7fe6" stroke-width="1.0"/>
<path d="M356.83 40.4L359.36 44.77L354.3 44.77Z" fill="none" stroke="#2a7fe6" stroke-width="1.0"/>
<path d="M358.08 40.28L360.61 44.65L355.55 44.65Z" fill="none" stroke="#2a7fe6" stroke-width="1.0"/>
<path d="M359.32 40.46L361.85 44.83L356.79 44.83Z" fill="none" stroke="#2a7fe6" stroke-width="1.0"/>
<path d="M360.57 41.85L363.1 46.22L358.04 46.22Z" fill="none" stroke="#2a7fe6" stroke-width="1.0"/>
<path d="M361.82 42.49L364.35 46.86L359.29 46.86Z" fill="none" stroke="#2a7fe6" stroke-width="1.0"/>
<path d="M362.65 41.67L365.18 46.04L360.12 46.04Z" fill="none" stroke="#2a7fe6" stroke-width="1.0"/>
<path d="M363.48 42.89L366.01 47.26L360.95 47.26Z" fill="none" stroke="#2a7fe6" stroke-width="1.0"/>
<path d="M364.32 51.67L366.85 56.04L361.79 56.04Z" fill="none" stroke="#2a7fe6" stroke-width="1.0"/>
<path d="M365.98 81.16L368.51 85.53L363.45 85.53Z" fill="none" stroke="#2a7fe6" stroke-width="1.0"/>
<path d="M366.81 102.32L369.34 106.69L364.28 106.69Z" fill="none" stroke="#2a7fe6" stroke-width="1.0"/>
<path d="M367.64 101.66L370.17 106.03L365.11 106.03Z" fill="none" stroke="#2a7fe6" stroke-width="1.0"/>
<path d="M368.48 104.6L371.01 108.97L365.95 108.97Z" fill="none" stroke="#2a7fe6" stroke-width="1.0"/>
<path d="M369.31 106.42L371.84 110.79L366.78 110.79Z" fill="none" stroke="#2a7fe6" stroke-width="1.0"/>
<path d="M370.14 111.09L372.67 115.46L367.61 115.46Z" fill="none" stroke="#2a7fe6" stroke-width="1.0"/>
<path d="M370.97 110.59L373.5 114.96L368.44 114.96Z" fill="none" stroke="#2a7fe6" stroke-width="1.0"/>
<path d="M371.8 111.19L374.33 115.56L369.27 115.56Z" fill="none" stroke="#2a7fe6" stroke-width="1.0"/>
<path d="M372.64 114.32L375.17 118.69L370.11 118.69Z" fill="none" stroke="#2a7fe6" stroke-width="1.0"/>
<path d="M373.47 115.06L376 119.43L370.94 119.43Z" fill="none" stroke="#2a7fe6" stroke-width="1.0"/>
<path d="M374.3 117.19L376.83 121.56L371.77 121.56Z" fill="none" stroke="#2a7fe6" stroke-width="1.0"/>
<path d="M375.13 121.67L377.66 126.04L372.6 126.04Z" fill="none" stroke="#2a7fe6" stroke-width="1.0"/>
<path d="M375.96 117.9L378.49 122.27L373.43 122.27Z" fill="none" stroke="#2a7fe6" stroke-width="1.0"/>
<path d="M376.8 117.91L379.33 122.28L374.27 122.28Z" fill="none" stroke="#2a7fe6" stroke-width="1.0"/>
<path d="M377.63 118.45L380.16 122.82L375.1 122.82Z" fill="none" stroke="#2a7fe6" stroke-width="1.0"/>
<path d="M378.46 118.9L380.99 123.27L375.93 123.27Z" fill="none" stroke="#2a7fe6" stroke-width="1.0"/>
<path d="M379.29 114.52L381.82 118.89L376.76 118.89Z" fill="none" stroke="#2a7fe6" stroke-width="1.0"/>
<path d="M380.12 115.51L382.65 119.88L377.59 119.88Z" fill="none" stroke="#2a7fe6" stroke-width="1.0"/>
<path d="M380.96 113.95L383.49 118.32L378.43 118.32Z" fill="none" stroke="#2a7fe6" stroke-width="1.0"/>
<path d="M381.79 112.76L384.32 117.13L379.26 117.13Z" fill="none" stroke="#2a7fe6" stroke-width="1.0"/>
<path d="M382.62 113L385.15 117.37L380.09 117.37Z" fill="none" stroke="#2a7fe6" stroke-width="1.0"/>
<path d="M383.45 111.61L385.98 115.98L380.92 115.98Z" fill="none" stroke="#2a7fe6" stroke-width="1.0"/>
<path d="M384.28 113.42L386.81 117.79L381.75 117.79Z" fill="none" stroke="#2a7fe6" stroke-width="1.0"/>
<path d="M385.12 111.16L387.65 115.53L382.59 115.53Z" fill="none" stroke="#2a7fe6" stroke-width="1.0"/>
<path d="M385.95 114.18L388.48 118.55L383.42 118.55Z" fill="none" stroke="#2a7fe6" stroke-width="1.0"/>
<path d="M386.78 113.49L389.31 117.86L384.25 117.86Z" fill="none" stroke="#2a7fe6" stroke-width="1.0"/>
<path d="M387.61 115.19L390.14 119.56L385.08 119.56Z" fill="none" stroke="#2a7fe6" stroke-width="1.0"/>
<path d="M388.44 119.65L390.97 124.02L385.91 124.02Z" fill="none" stroke="#2a7fe6" stroke-width="1.0"/>
<path d="M389.28 120.1L391.81 124.47L386.75 124.47Z" fill="none" stroke="#2a7fe6" stroke-width="1.0"/>
<path d="M390.11 120.37L392.64 124.74L387.58 124.74Z" fill="none" stroke="#2a7fe6" stroke-width="1.0"/>
<path d="M390.94 117.73L393.47 122.1L388.41 122.1Z" fill="none" stroke="#2a7fe6" stroke-width="1.0"/>
<path d="M391.77 119.46L394.3 123.83L389.24 123.83Z" fill="none" stroke="#2a7fe6" stroke-width="1.0"/>
<path d="M392.6 118.04L395.13 122.41L390.07 122.41Z" fill="none" stroke="#2a7fe6" stroke-width="1.0"/>
<path d="M393.44 118.88L395.97 123.25L390.91 123.25Z" fill="none" stroke="#2a7fe6" stroke-width="1.0"/>
<path d="M394.27 117.4L396.8 121.77L391.74 121.77Z" fill="none" stroke="#2a7fe6" stroke-width="1.0"/>
<path d="M395.1 117.35L397.63 121.72L392.57 121.72Z" fill="none" stroke="#2a7fe6" stroke-width="1.0"/>
<path d="M395.93 116.87L398.46 121.24L393.4 121.24Z" fill="none" stroke="#2a7fe6" stroke-width="1.0"/>
<path d="M396.76 115.21L399.29 119.58L394.23 119.58Z" fill="none" stroke="#2a7fe6" stroke-width="1.0"/>
<path d="M397.6 114.59L400.13 118.96L395.07 118.96Z" fill="none" stroke="#2a7fe6" stroke-width="1.0"/>
<path d="M398.43 112.56L400.96 116.93L395.9 116.93Z" fill="none" stroke="#2a7fe6" stroke-width="1.0"/>
<path d="M399.26 112.9L401.79 117.27L396.73 117.27Z" fill="none" stroke="#2a7fe6" stroke-width="1.0"/>
<path d="M400.09 111.18L402.62 115.55L397.56 115.55Z" fill="none" stroke="#2a7fe6" stroke-width="1.0"/>
<path d="M400.92 111.86L403.45 116.23L398.39 116.23Z" fill="none" stroke="#2a7fe6" stroke-width="1.0"/>
<path d="M401.76 111.63L404.29 116L399.23 116Z" fill="none" stroke="#2a7fe6" stroke-width="1.0"/>
<path d="M402.59 113.38L405.12 117.75L400.06 117.75Z" fill="none" stroke="#2a7fe6" stroke-width="1.0"/>
<path d="M403.42 115.96L405.95 120.33L400.89 120.33Z" fill="none" stroke="#2a7fe6" stroke-width="1.0"/>
<path d="M404.25 113.26L406.78 117.63L401.72 117.63Z" fill="none" stroke="#2a7fe6" stroke-width="1.0"/>
<path d="M405.08 113.17L407.61 117.54L402.55 117.54Z" fill="none" stroke="#2a7fe6" stroke-width="1.0"/>
<path d="M405.92 113.78L408.45 118.15L403.39 118.15Z" fill="none" stroke="#2a7fe6" stroke-width="1.0"/>
<path d="M406.75 115.61L409.28 119.98L404.22 119.98Z" fill="none" stroke="#2a7fe6" stroke-width="1.0"/>
<path d="M407.58 115.33L410.11 119.7L405.05 119.7Z" fill="none" stroke="#2a7fe6" stroke-width="1.0"/>
<path d="M408.41 117.85L410.94 122.22L405.88 122.22Z" fill="none" stroke="#2a7fe6" stroke-width="1.0"/>
<path d="M409.24 115.46L411.77 119.83L406.71 119.83Z" fill="none" stroke="#2a7fe6" stroke-width="1.0"/>
<path d="M410.08 116.92L412.61 121.29L407.55 121.29Z" fill="none" stroke="#2a7fe6" stroke-width="1.0"/>
<path d="M410.91 118.5L413.44 122.87L408.38 122.87Z" fill="none" stroke="#2a7fe6" stroke-width="1.0"/>
<path d="M411.74 119.79L414.27 124.16L409.21 124.16Z" fill="none" stroke="#2a7fe6" stroke-width="1.0"/>
<path d="M412.57 116.66L415.1 121.03L410.04 121.03Z" fill="none" stroke="#2a7fe6" stroke-width="1.0"/>
<path d="M413.4 116.39L415.93 120.76L410.87 120.76Z" fill="none" stroke="#2a7fe6" stroke-width="1.0"/>
<path d="M414.24 120.65L416.77 125.02L411.71 125.02Z" fill="none" stroke="#2a7fe6" stroke-width="1.0"/>
<path d="M415.07 117.87L417.6 122.24L412.54 122.24Z" fill="none" stroke="#2a7fe6" stroke-width="1.0"/>
<path d="M415.9 121.08L418.43 125.45L413.37 125.45Z" fill="none" stroke="#2a7fe6" stroke-width="1.0"/>
<path d="M416.73 123.72L419.26 128.09L414.2 128.09Z" fill="none" stroke="#2a7fe6" stroke-width="1.0"/>
<path d="M417.56 124.6L420.09 128.97L415.03 128.97Z" fill="none" stroke="#2a7fe6" stroke-width="1.0"/>
<path d="M418.4 130.58L420.93 134.95L415.87 134.95Z" fill="none" stroke="#2a7fe6" stroke-width="1.0"/>
<path d="M419.23 135.13L421.76 139.5L416.7 139.5Z" fill="none" stroke="#2a7fe6" stroke-width="1.0"/>
<path d="M420.06 140.7L422.59 145.07L417.53 145.07Z" fill="none" stroke="#2a7fe6" stroke-width="1.0"/>
<path d="M420.89 139.08L423.42 143.45L418.36 143.45Z" fill="none" stroke="#2a7fe6" stroke-width="1.0"/>
<path d="M421.72 142.44L424.25 146.81L419.19 146.81Z" fill="none" stroke="#2a7fe6" stroke-width="1.0"/>
<path d="M422.56 140.37L425.09 144.74L420.03 144.74Z" fill="none" stroke="#2a7fe6" stroke-width="1.0"/>
<path d="M423.39 142.94L425.92 147.31L420.86 147.31Z" fill="none" stroke="#2a7fe6" stroke-width="1.0"/>
<path d="M424.22 141.41L426.75 145.78L421.69 145.78Z" fill="none" stroke="#2a7fe6" stroke-width="1.0"/>
<path d="M425.05 141.56L427.58 145.93L422.52 145.93Z" fill="none" stroke="#2a7fe6" stroke-width="1.0"/>
<path d="M425.88 144.22L428.41 148.59L423.35 148.59Z" fill="none" stroke="#2a7fe6" stroke-width="1.0"/>
<path d="M426.72 142.64L429.25 147.01L424.19 147.01Z" fill="none" stroke="#2a7fe6" stroke-width="1.0"/>
<path d="M427.55 146.24L430.08 150.61L425.02 150.61Z" fill="none" stroke="#2a7fe6" stroke-width="1.0"/>
<path d="M428.38 147.84L430.91 152.21L425.85 152.21Z" fill="none" stroke="#2a7fe6" stroke-width="1.0"/>
<path d="M429.21 145.89L431.74 150.26L426.68 150.26Z" fill="none" stroke="#2a7fe6" stroke-width="1.0"/>
<path d="M430.04 148.71L432.57 153.08L427.51 153.08Z" fill="none" stroke="#2a7fe6" stroke-width="1.0"/>
<path d="M430.88 148.32L433.41 152.69L428.35 152.69Z" fill="none" stroke="#2a7fe6" stroke-width="1.0"/>
<path d="M431.71 147.73L434.24 152.1L429.18 152.1Z" fill="none" stroke="#2a7fe6" stroke-width="1.0"/>
<path d="M432.54 147.18L435.07 151.55L430.01 151.55Z" fill="none" stroke="#2a7fe6" stroke-width="1.0"/>
<path d="M433.37 149.5L435.9 153.87L430.84 153.87Z" fill="none" stroke="#2a7fe6" stroke-width="1.0"/>
<path d="M434.2 150.33L436.73 154.7L431.67 154.7Z" fill="none" stroke="#2a7fe6" stroke-width="1.0"/>
<path d="M435.04 147.06L437.57 151.43L432.51 151.43Z" fill="none" stroke="#2a7fe6" stroke-width="1.0"/>
<path d="M435.87 149.82L438.4 154.19L433.34 154.19Z" fill="none" stroke="#2a7fe6" stroke-width="1.0"/>
<path d="M436.7 147.33L439.23 151.7L434.17 151.7Z" fill="none" stroke="#2a7fe6" stroke-width="1.0"/>
<path d="M437.53 147.85L440.06 152.22L435 152.22Z" fill="none" stroke="#2a7fe6" stroke-width="1.0"/>
<path d="M438.36 150.37L440.89 154.74L435.83 154.74Z" fill="none" stroke="#2a7fe6" stroke-width="1.0"/>
<path d="M439.2 150.26L441.73 154.63L436.67 154.63Z" fill="none" stroke="#2a7fe6" stroke-width="1.0"/>
<path d="M440.03 150.24L442.56 154.61L437.5 154.61Z" fill="none" stroke="#2a7fe6" stroke-width="1.0"/>
<path d="M440.86 149.95L443.39 154.32L438.33 154.32Z" fill="none" stroke="#2a7fe6" stroke-width="1.0"/>
<path d="M441.69 150.41L444.22 154.78L439.16 154.78Z" fill="none" stroke="#2a7fe6" stroke-width="1.0"/>
<path d="M442.52 150.81L445.05 155.18L439.99 155.18Z" fill="none" stroke="#2a7fe6" stroke-width="1.0"/>
<path d="M443.36 150.8L445.89 155.17L440.83 155.17Z" fill="none" stroke="#2a7fe6" stroke-width="1.0"/>
<path d="M444.19 149.64L446.72 154.01L441.66 154.01Z" fill="none" stroke="#2a7fe6" stroke-width="1.0"/>
<path d="M445.02 151.79L447.55 156.16L442.49 156.16Z" fill="none" stroke="#2a7fe6" stroke-width="1.0"/>
<path d="M445.85 152.26L448.38 156.63L443.32 156.63Z" fill="none" stroke="#2a7fe6" stroke-width="1.0"/>
<path d="M446.68 151.14L449.21 155.51L444.15 155.51Z" fill="none" stroke="#2a7fe6" stroke-width="1.0"/>
<path d="M447.52 153.4L450.05 157.77L444.99 157.77Z" fill="none" stroke="#2a7fe6" stroke-width="1.0"/>
<path d="M448.35 153.27L450.88 157.64L445.82 157.64Z" fill="none" stroke="#2a7fe6" stroke-width="1.0"/>
<path d="M449.18 150.46L451.71 154.83L446.65 154.83Z" fill="none" stroke="#2a7fe6" stroke-width="1.0"/>
<path d="M450.01 152.6L452.54 156.97L447.48 156.97Z" fill="none" stroke="#2a7fe6" stroke-width="1.0"/>
<path d="M450.84 152.62L453.37 156.99L448.31 156.99Z" fill="none" stroke="#2a7fe6" stroke-width="1.0"/>
<path d="M451.68 155.12L454.21 159.49L449.15 159.49Z" fill="none" stroke="#2a7fe6" stroke-width="1.0"/>
<path d="M452.51 153.5L455.04 157.87L449.98 157.87Z" fill="none" stroke="#2a7fe6" stroke-width="1.0"/>
<path d="M453.34 152.92L455.87 157.29L450.81 157.29Z" fill="none" stroke="#2a7fe6" stroke-width="1.0"/>
<path d="M454.17 155.08L456.7 159.45L451.64 159.45Z" fill="none" stroke="#2a7fe6" stroke-width="1.0"/>
<path d="M455 152.18L457.53 156.55L452.47 156.55Z" fill="none" stroke="#2a7fe6" stroke-width="1.0"/>
<path d="M455.84 151.82L458.37 156.19L453.31 156.19Z" fill="none" stroke="#2a7fe6" stroke-width="1.0"/>
<path d="M456.67 154.03L459.2 158.4L454.14 158.4Z" fill="none" stroke="#2a7fe6" stroke-width="1.0"/>
<path d="M457.5 151.26L460.03 155.63L454.97 155.63Z" fill="none" stroke="#2a7fe6" stroke-width="1.0"/>
<path d="M458.33 151.67L460.86 156.04L455.8 156.04Z" fill="none" stroke="#2a7fe6" stroke-width="1.0"/>
<path d="M459.16 150.45L461.69 154.82L456.63 154.82Z" fill="none" stroke="#2a7fe6" stroke-width="1.0"/>
<path d="M460 151.59L462.53 155.96L457.47 155.96Z" fill="none" stroke="#2a7fe6" stroke-width="1.0"/>
<path d="M460.83 150.54L463.36 154.91L458.3 154.91Z" fill="none" stroke="#2a7fe6" stroke-width="1.0"/>
<path d="M461.66 150.91L464.19 155.28L459.13 155.28Z" fill="none" stroke="#2a7fe6" stroke-width="1.0"/>
<path d="M462.49 154.54L465.02 158.91L459.96 158.91Z" fill="none" stroke="#2a7fe6" stroke-width="1.0"/>
<path d="M463.32 154.87L465.85 159.24L460.79 159.24Z" fill="none" stroke="#2a7fe6" stroke-width="1.0"/>
<path d="M464.16 152.68L466.69 157.05L461.63 157.05Z" fill="none" stroke="#2a7fe6" stroke-width="1.0"/>
<path d="M464.99 151.93L467.52 156.3L462.46 156.3Z" fill="none" stroke="#2a7fe6" stroke-width="1.0"/>
<path d="M465.82 155.54L468.35 159.91L463.29 159.91Z" fill="none" stroke="#2a7fe6" stroke-width="1.0"/>
<path d="M466.65 155.15L469.18 159.52L464.12 159.52Z" fill="none" stroke="#2a7fe6" stroke-width="1.0"/>
<path d="M467.48 155.05L470.01 159.42L464.95 159.42Z" fill="none" stroke="#2a7fe6" stroke-width="1.0"/>
<path d="M468.32 157.88L470.85 162.25L465.79 162.25Z" fill="none" stroke="#2a7fe6" stroke-width="1.0"/>
<path d="M469.15 159.33L471.68 163.7L466.62 163.7Z" fill="none" stroke="#2a7fe6" stroke-width="1.0"/>
<path d="M469.98 161.19L472.51 165.56L467.45 165.56Z" fill="none" stroke="#2a7fe6" stroke-width="1.0"/>
<path d="M470.81 162.59L473.34 166.96L468.28 166.96Z" fill="none" stroke="#2a7fe6" stroke-width="1.0"/>
<path d="M471.64 161.16L474.17 165.53L469.11 165.53Z" fill="none" stroke="#2a7fe6" stroke-width="1.0"/>
<path d="M472.48 162.01L475.01 166.38L469.95 166.38Z" fill="none" stroke="#2a7fe6" stroke-width="1.0"/>
<path d="M473.31 161.24L475.84 165.61L470.78 165.61Z" fill="none" stroke="#2a7fe6" stroke-width="1.0"/>
<path d="M474.14 159.08L476.67 163.45L471.61 163.45Z" fill="none" stroke="#2a7fe6" stroke-width="1.0"/>
<path d="M474.97 161.9L477.5 166.27L472.44 166.27Z" fill="none" stroke="#2a7fe6" stroke-width="1.0"/>
<path d="M475.8 159.36L478.33 163.73L473.27 163.73Z" fill="none" stroke="#2a7fe6" stroke-width="1.0"/>
<path d="M476.64 158.46L479.17 162.83L474.11 162.83Z" fill="none" stroke="#2a7fe6" stroke-width="1.0"/>
<path d="M477.47 160.15L480 164.52L474.94 164.52Z" fill="none" stroke="#2a7fe6" stroke-width="1.0"/>
<path d="M478.3 160.36L480.83 164.73L475.77 164.73Z" fill="none" stroke="#2a7fe6" stroke-width="1.0"/>
<path d="M479.13 157.65L481.66 162.02L476.6 162.02Z" fill="none" stroke="#2a7fe6" stroke-width="1.0"/>
<path d="M479.96 159.95L482.49 164.32L477.43 164.32Z" fill="none" stroke="#2a7fe6" stroke-width="1.0"/>
<path d="M480.8 160.25L483.33 164.62L478.27 164.62Z" fill="none" stroke="#2a7fe6" stroke-width="1.0"/>
<path d="M481.63 159.24L484.16 163.61L479.1 163.61Z" fill="none" stroke="#2a7fe6" stroke-width="1.0"/>
<path d="M482.46 158.16L484.99 162.53L479.93 162.53Z" fill="none" stroke="#2a7fe6" stroke-width="1.0"/>
<path d="M483.29 160.84L485.82 165.21L480.76 165.21Z" fill="none" stroke="#2a7fe6" stroke-width="1.0"/>
<path d="M484.12 159.95L486.65 164.32L481.59 164.32Z" fill="none" stroke="#2a7fe6" stroke-width="1.0"/>
<path d="M484.96 159.97L487.49 164.34L482.43 164.34Z" fill="none" stroke="#2a7fe6" stroke-width="1.0"/>
<path d="M485.79 157.86L488.32 162.23L483.26 162.23Z" fill="none" stroke="#2a7fe6" stroke-width="1.0"/>
<path d="M486.62 159.66L489.15 164.03L484.09 164.03Z" fill="none" stroke="#2a7fe6" stroke-width="1.0"/>
<path d="M487.45 157.98L489.98 162.35L484.92 162.35Z" fill="none" stroke="#2a7fe6" stroke-width="1.0"/>
<path d="M488.28 161.13L490.81 165.5L485.75 165.5Z" fill="none" stroke="#2a7fe6" stroke-width="1.0"/>
<path d="M489.12 160.54L491.65 164.91L486.59 164.91Z" fill="none" stroke="#2a7fe6" stroke-width="1.0"/>
<path d="M489.95 159.32L492.48 163.69L487.42 163.69Z" fill="none" stroke="#2a7fe6" stroke-width="1.0"/>
<path d="M490.78 158.44L493.31 162.81L488.25 162.81Z" fill="none" stroke="#2a7fe6" stroke-width="1.0"/>
<path d="M491.61 160.48L494.14 164.85L489.08 164.85Z" fill="none" stroke="#2a7fe6" stroke-width="1.0"/>
<path d="M492.44 161.61L494.97 165.98L489.91 165.98Z" fill="none" stroke="#2a7fe6" stroke-width="1.0"/>
<path d="M493.28 162.21L495.81 166.58L490.75 166.58Z" fill="none" stroke="#2a7fe6" stroke-width="1.0"/>
<path d="M494.11 160.57L496.64 164.94L491.58 164.94Z" fill="none" stroke="#2a7fe6" stroke-width="1.0"/>
<path d="M494.94 162.2L497.47 166.57L492.41 166.57Z" fill="none" stroke="#2a7fe6" stroke-width="1.0"/>
<path d="M495.77 159.8L498.3 164.17L493.24 164.17Z" fill="none" stroke="#2a7fe6" stroke-width="1.0"/>
<path d="M496.6 159.95L499.13 164.32L494.07 164.32Z" fill="none" stroke="#2a7fe6" stroke-width="1.0"/>
<path d="M497.44 163.11L499.97 167.48L494.91 167.48Z" fill="none" stroke="#2a7fe6" stroke-width="1.0"/>
<path d="M498.27 162.98L500.8 167.35L495.74 167.35Z" fill="none" stroke="#2a7fe6" stroke-width="1.0"/>
<path d="M499.1 160.96L501.63 165.33L496.57 165.33Z" fill="none" stroke="#2a7fe6" stroke-width="1.0"/>
<path d="M499.93 161.98L502.46 166.35L497.4 166.35Z" fill="none" stroke="#2a7fe6" stroke-width="1.0"/>
<path d="M500.76 161.55L503.29 165.92L498.23 165.92Z" fill="none" stroke="#2a7fe6" stroke-width="1.0"/>
<path d="M501.6 163.86L504.13 168.23L499.07 168.23Z" fill="none" stroke="#2a7fe6" stroke-width="1.0"/>
<path d="M502.43 165.09L504.96 169.46L499.9 169.46Z" fill="none" stroke="#2a7fe6" stroke-width="1.0"/>
<path d="M503.26 164.67L505.79 169.04L500.73 169.04Z" fill="none" stroke="#2a7fe6" stroke-width="1.0"/>
<path d="M504.09 162.74L506.62 167.11L501.56 167.11Z" fill="none" stroke="#2a7fe6" stroke-width="1.0"/>
<path d="M504.92 165.29L507.45 169.66L502.39 169.66Z" fill="none" stroke="#2a7fe6" stroke-width="1.0"/>
<path d="M505.76 165.22L508.29 169.59L503.23 169.59Z" fill="none" stroke="#2a7fe6" stroke-width="1.0"/>
<path d="M506.59 165.18L509.12 169.55L504.06 169.55Z" fill="none" stroke="#2a7fe6" stroke-width="1.0"/>
<path d="M507.42 165.43L509.95 169.8L504.89 169.8Z" fill="none" stroke="#2a7fe6" stroke-width="1.0"/>
<path d="M508.25 165.73L510.78 170.1L505.72 170.1Z" fill="none" stroke="#2a7fe6" stroke-width="1.0"/>
<path d="M509.08 163.76L511.61 168.13L506.55 168.13Z" fill="none" stroke="#2a7fe6" stroke-width="1.0"/>
<path d="M509.92 167.37L512.45 171.74L507.39 171.74Z" fill="none" stroke="#2a7fe6" stroke-width="1.0"/>
<path d="M510.75 168.29L513.28 172.66L508.22 172.66Z" fill="none" stroke="#2a7fe6" stroke-width="1.0"/>
<path d="M511.58 164.45L514.11 168.82L509.05 168.82Z" fill="none" stroke="#2a7fe6" stroke-width="1.0"/>
<path d="M512.41 164.9L514.94 169.27L509.88 169.27Z" fill="none" stroke="#2a7fe6" stroke-width="1.0"/>
<path d="M513.24 164.61L515.77 168.98L510.71 168.98Z" fill="none" stroke="#2a7fe6" stroke-width="1.0"/>
<path d="M514.08 167.2L516.61 171.57L511.55 171.57Z" fill="none" stroke="#2a7fe6" stroke-width="1.0"/>
<path d="M514.91 165.12L517.44 169.49L512.38 169.49Z" fill="none" stroke="#2a7fe6" stroke-width="1.0"/>
<path d="M515.74 165.39L518.27 169.76L513.21 169.76Z" fill="none" stroke="#2a7fe6" stroke-width="1.0"/>
<path d="M516.57 168.65L519.1 173.02L514.04 173.02Z" fill="none" stroke="#2a7fe6" stroke-width="1.0"/>
<path d="M517.4 166.54L519.93 170.91L514.87 170.91Z" fill="none" stroke="#2a7fe6" stroke-width="1.0"/>
<path d="M518.24 166.31L520.77 170.68L515.71 170.68Z" fill="none" stroke="#2a7fe6" stroke-width="1.0"/>
<path d="M519.07 167.25L521.6 171.62L516.54 171.62Z" fill="none" stroke="#2a7fe6" stroke-width="1.0"/>
<path d="M519.9 168.05L522.43 172.42L517.37 172.42Z" fill="none" stroke="#2a7fe6" stroke-width="1.0"/>
<path d="M354.33 42.08L355.16 54.87L356 55.82L356.83 60.72L357.66 65.56L358.49 64.53L359.32 62.55L360.16 63.89L360.99 64.62L361.82 68.02L362.65 66.92L363.48 68.83L364.32 69.86L365.15 70.69L365.98 70.61L366.81 67.6L367.64 68.84L368.48 69.69L369.31 70.45L370.14 74.36L370.97 74.54L371.8 73.67L372.64 73.91L373.47 74.06L374.3 74.77L375.13 79.86L375.96 78.06L376.8 78.64L377.63 80.44L378.46 83.08L379.29 82.46L380.12 85.4L380.96 81.8L381.79 83L382.62 85.51L383.45 87.64L384.28 85.29L385.12 87.89L385.95 87.1L386.78 88.12L387.61 90.52L388.44 91.64L389.28 91.29L390.11 92.79L390.94 94.86L391.77 94.76L392.6 92.75L393.44 97.44L394.27 98.08L395.1 95.69L395.93 98.12L396.76 97.39L397.6 98.33L398.43 99.61L399.26 96.78L400.09 101.6L400.92 101.26L401.76 103.16L402.59 101.71L403.42 104.38L404.25 104.76L405.08 103.51L405.92 106.72L406.75 106.44L407.58 105.6L408.41 110.79L409.24 111.96L410.08 112.06L410.91 110.16L411.74 111.79L412.57 114.62L413.4 114.97L414.24 116.61L415.07 115.98L415.9 119L416.73 116.41L417.56 116.21L418.4 116.76L419.23 118.79L420.06 118.48L420.89 124.29L421.72 123.75L422.56 121.07L423.39 122.95L424.22 125.73L425.05 123.81L425.88 126.66L426.72 127.19L427.55 131.5L428.38 133.6L429.21 133.84L430.04 137.02L430.88 136.63L431.71 134.49L432.54 138.69L433.37 141.28L434.2 141.99L435.04 142.24L435.87 139.62L436.7 142.44L437.53 143.43L438.36 145.05L439.2 141.01L440.03 144.55L440.86 146.59L441.69 148.28L442.52 149.21L443.36 149.53L444.19 147.77L445.02 151.45L445.85 152.93L446.68 151.48L447.52 153.2L448.35 149.73L449.18 154.78L450.01 153.1L450.84 152.27L451.68 154.64L452.51 152.06L453.34 155.19L454.17 158.07L455 158.82L455.84 162.42L456.67 162.04L457.5 164.41L458.33 162.5L459.16 164.27L460 166.37L460.83 169.19L461.66 168.38L462.49 168.81L463.32 169.35L464.16 169.6L464.99 166.61L465.82 170.8L466.65 171.63L467.48 167.4L468.32 169.21L469.15 166.89L469.98 169.88L470.81 167.18L471.64 168.38L472.48 167.57L473.31 167.72L474.14 168.95L474.97 170.95L475.8 170.22L476.64 166.64L477.47 166.4L478.3 166.17L479.13 169.15L479.96 167.36L480.8 166.98L481.63 168.17L482.46 167.63L483.29 169.5L484.12 169.2L484.96 169.4L485.79 172.17L486.62 169.32L487.45 169.73L488.28 174.94L489.12 170.82L489.95 170.96L490.78 172.59L491.61 175.95L492.44 171.57L493.28 175.7L494.11 171.39L494.94 173.06L495.77 176.33L496.6 175.87L497.44 173.51L498.27 173.94L499.1 173L499.93 172.04L500.76 175.75L501.6 176.87L502.43 172.04L503.26 176.79L504.09 172.25L504.92 176.23L505.76 172.58L506.59 172.71L507.42 172.2L508.25 173.91L509.08 172.17L509.92 175.71L510.75 173.24L511.58 175.02L512.41 172.06L513.24 172.67L514.08 174.24L514.91 173.94L515.74 176.56L516.57 176.5L517.4 173.55L518.24 174.1L519.07 172.11L519.9 173.45" fill="none" stroke="#1ba45c" stroke-width="1.0"/>
<path d="M354.33 44.61L356.86 40.24L351.8 40.24Z" fill="none" stroke="#1ba45c" stroke-width="1.0"/>
<path d="M355.16 57.4L357.69 53.03L352.63 53.03Z" fill="none" stroke="#1ba45c" stroke-width="1.0"/>
<path d="M356 58.35L358.53 53.98L353.47 53.98Z" fill="none" stroke="#1ba45c" stroke-width="1.0"/>
<path d="M356.83 63.25L359.36 58.88L354.3 58.88Z" fill="none" stroke="#1ba45c" stroke-width="1.0"/>
<path d="M357.66 68.09L360.19 63.72L355.13 63.72Z" fill="none" stroke="#1ba45c" stroke-width="1.0"/>
<path d="M358.49 67.06L361.02 62.69L355.96 62.69Z" fill="none" stroke="#1ba45c" stroke-width="1.0"/>
<path d="M359.32 65.08L361.85 60.71L356.79 60.71Z" fill="none" stroke="#1ba45c" stroke-width="1.0"/>
<path d="M360.16 66.42L362.69 62.05L357.63 62.05Z" fill="none" stroke="#1ba45c" stroke-width="1.0"/>
<path d="M360.99 67.15L363.52 62.78L358.46 62.78Z" fill="none" stroke="#1ba45c" stroke-width="1.0"/>
<path d="M361.82 70.55L364.35 66.18L359.29 66.18Z" fill="none" stroke="#1ba45c" stroke-width="1.0"/>
<path d="M362.65 69.45L365.18 65.08L360.12 65.08Z" fill="none" stroke="#1ba45c" stroke-width="1.0"/>
<path d="M363.48 71.36L366.01 66.99L360.95 66.99Z" fill="none" stroke="#1ba45c" stroke-width="1.0"/>
<path d="M364.32 72.39L366.85 68.02L361.79 68.02Z" fill="none" stroke="#1ba45c" stroke-width="1.0"/>
<path d="M365.15 73.22L367.68 68.85L362.62 68.85Z" fill="none" stroke="#1ba45c" stroke-width="1.0"/>
<path d="M365.98 73.14L368.51 68.77L363.45 68.77Z" fill="none" stroke="#1ba45c" stroke-width="1.0"/>
<path d="M366.81 70.13L369.34 65.76L364.28 65.76Z" fill="none" stroke="#1ba45c" stroke-width="1.0"/>
<path d="M367.64 71.37L370.17 67L365.11 67Z" fill="none" stroke="#1ba45c" stroke-width="1.0"/>
<path d="M368.48 72.22L371.01 67.85L365.95 67.85Z" fill="none" stroke="#1ba45c" stroke-width="1.0"/>
<path d="M369.31 72.98L371.84 68.61L366.78 68.61Z" fill="none" stroke="#1ba45c" stroke-width="1.0"/>
<path d="M370.14 76.89L372.67 72.52L367.61 72.52Z" fill="none" stroke="#1ba45c" stroke-width="1.0"/>
<path d="M370.97 77.07L373.5 72.7L368.44 72.7Z" fill="none" stroke="#1ba45c" stroke-width="1.0"/>
<path d="M371.8 76.2L374.33 71.83L369.27 71.83Z" fill="none" stroke="#1ba45c" stroke-width="1.0"/>
<path d="M372.64 76.44L375.17 72.07L370.11 72.07Z" fill="none" stroke="#1ba45c" stroke-width="1.0"/>
<path d="M373.47 76.59L376 72.22L370.94 72.22Z" fill="none" stroke="#1ba45c" stroke-width="1.0"/>
<path d="M374.3 77.3L376.83 72.93L371.77 72.93Z" fill="none" stroke="#1ba45c" stroke-width="1.0"/>
<path d="M375.13 82.39L377.66 78.02L372.6 78.02Z" fill="none" stroke="#1ba45c" stroke-width="1.0"/>
<path d="M375.96 80.59L378.49 76.22L373.43 76.22Z" fill="none" stroke="#1ba45c" stroke-width="1.0"/>
<path d="M376.8 81.17L379.33 76.8L374.27 76.8Z" fill="none" stroke="#1ba45c" stroke-width="1.0"/>
<path d="M377.63 82.97L380.16 78.6L375.1 78.6Z" fill="none" stroke="#1ba45c" stroke-width="1.0"/>
<path d="M378.46 85.61L380.99 81.24L375.93 81.24Z" fill="none" stroke="#1ba45c" stroke-width="1.0"/>
<path d="M379.29 84.99L381.82 80.62L376.76 80.62Z" fill="none" stroke="#1ba45c" stroke-width="1.0"/>
<path d="M380.12 87.93L382.65 83.56L377.59 83.56Z" fill="none" stroke="#1ba45c" stroke-width="1.0"/>
<path d="M380.96 84.33L383.49 79.96L378.43 79.96Z" fill="none" stroke="#1ba45c" stroke-width="1.0"/>
<path d="M381.79 85.53L384.32 81.16L379.26 81.16Z" fill="none" stroke="#1ba45c" stroke-width="1.0"/>
<path d="M382.62 88.04L385.15 83.67L380.09 83.67Z" fill="none" stroke="#1ba45c" stroke-width="1.0"/>
<path d="M383.45 90.17L385.98 85.8L380.92 85.8Z" fill="none" stroke="#1ba45c" stroke-width="1.0"/>
<path d="M384.28 87.82L386.81 83.45L381.75 83.45Z" fill="none" stroke="#1ba45c" stroke-width="1.0"/>
<path d="M385.12 90.42L387.65 86.05L382.59 86.05Z" fill="none" stroke="#1ba45c" stroke-width="1.0"/>
<path d="M385.95 89.63L388.48 85.26L383.42 85.26Z" fill="none" stroke="#1ba45c" stroke-width="1.0"/>
<path d="M386.78 90.65L389.31 86.28L384.25 86.28Z" fill="none" stroke="#1ba45c" stroke-width="1.0"/>
<path d="M387.61 93.05L390.14 88.68L385.08 88.68Z" fill="none" stroke="#1ba45c" stroke-width="1.0"/>
<path d="M388.44 94.17L390.97 89.8L385.91 89.8Z" fill="none" stroke="#1ba45c" stroke-width="1.0"/>
<path d="M389.28 93.82L391.81 89.45L386.75 89.45Z" fill="none" stroke="#1ba45c" stroke-width="1.0"/>
<path d="M390.11 95.32L392.64 90.95L387.58 90.95Z" fill="none" stroke="#1ba45c" stroke-width="1.0"/>
<path d="M390.94 97.39L393.47 93.02L388.41 93.02Z" fill="none" stroke="#1ba45c" stroke-width="1.0"/>
<path d="M391.77 97.29L394.3 92.92L389.24 92.92Z" fill="none" stroke="#1ba45c" stroke-width="1.0"/>
<path d="M392.6 95.28L395.13 90.91L390.07 90.91Z" fill="none" stroke="#1ba45c" stroke-width="1.0"/>
<path d="M393.44 99.97L395.97 95.6L390.91 95.6Z" fill="none" stroke="#1ba45c" stroke-width="1.0"/>
<path d="M394.27 100.61L396.8 96.24L391.74 96.24Z" fill="none" stroke="#1ba45c" stroke-width="1.0"/>
<path d="M395.1 98.22L397.63 93.85L392.57 93.85Z" fill="none" stroke="#1ba45c" stroke-width="1.0"/>
<path d="M395.93 100.65L398.46 96.28L393.4 96.28Z" fill="none" stroke="#1ba45c" stroke-width="1.0"/>
<path d="M396.76 99.92L399.29 95.55L394.23 95.55Z" fill="none" stroke="#1ba45c" stroke-width="1.0"/>
<path d="M397.6 100.86L400.13 96.49L395.07 96.49Z" fill="none" stroke="#1ba45c" stroke-width="1.0"/>
<path d="M398.43 102.14L400.96 97.77L395.9 97.77Z" fill="none" stroke="#1ba45c" stroke-width="1.0"/>
<path d="M399.26 99.31L401.79 94.94L396.73 94.94Z" fill="none" stroke="#1ba45c" stroke-width="1.0"/>
<path d="M400.09 104.13L402.62 99.76L397.56 99.76Z" fill="none" stroke="#1ba45c" stroke-width="1.0"/>
<path d="M400.92 103.79L403.45 99.42L398.39 99.42Z" fill="none" stroke="#1ba45c" stroke-width="1.0"/>
<path d="M401.76 105.69L404.29 101.32L399.23 101.32Z" fill="none" stroke="#1ba45c" stroke-width="1.0"/>
<path d="M402.59 104.24L405.12 99.87L400.06 99.87Z" fill="none" stroke="#1ba45c" stroke-width="1.0"/>
<path d="M403.42 106.91L405.95 102.54L400.89 102.54Z" fill="none" stroke="#1ba45c" stroke-width="1.0"/>
<path d="M404.25 107.29L406.78 102.92L401.72 102.92Z" fill="none" stroke="#1ba45c" stroke-width="1.0"/>
<path d="M405.08 106.04L407.61 101.67L402.55 101.67Z" fill="none" stroke="#1ba45c" stroke-width="1.0"/>
<path d="M405.92 109.25L408.45 104.88L403.39 104.88Z" fill="none" stroke="#1ba45c" stroke-width="1.0"/>
<path d="M406.75 108.97L409.28 104.6L404.22 104.6Z" fill="none" stroke="#1ba45c" stroke-width="1.0"/>
<path d="M407.58 108.13L410.11 103.76L405.05 103.76Z" fill="none" stroke="#1ba45c" stroke-width="1.0"/>
<path d="M408.41 113.32L410.94 108.95L405.88 108.95Z" fill="none" stroke="#1ba45c" stroke-width="1.0"/>
<path d="M409.24 114.49L411.77 110.12L406.71 110.12Z" fill="none" stroke="#1ba45c" stroke-width="1.0"/>
<path d="M410.08 114.59L412.61 110.22L407.55 110.22Z" fill="none" stroke="#1ba45c" stroke-width="1.0"/>
<path d="M410.91 112.69L413.44 108.32L408.38 108.32Z" fill="none" stroke="#1ba45c" stroke-width="1.0"/>
<path d="M411.74 114.32L414.27 109.95L409.21 109.95Z" fill="none" stroke="#1ba45c" stroke-width="1.0"/>
<path d="M412.57 117.15L415.1 112.78L410.04 112.78Z" fill="none" stroke="#1ba45c" stroke-width="1.0"/>
<path d="M413.4 117.5L415.93 113.13L410.87 113.13Z" fill="none" stroke="#1ba45c" stroke-width="1.0"/>
<path d="M414.24 119.14L416.77 114.77L411.71 114.77Z" fill="none" stroke="#1ba45c" stroke-width="1.0"/>
<path d="M415.07 118.51L417.6 114.14L412.54 114.14Z" fill="none" stroke="#1ba45c" stroke-width="1.0"/>
<path d="M415.9 121.53L418.43 117.16L413.37 117.16Z" fill="none" stroke="#1ba45c" stroke-width="1.0"/>
<path d="M416.73 118.94L419.26 114.57L414.2 114.57Z" fill="none" stroke="#1ba45c" stroke-width="1.0"/>
<path d="M417.56 118.74L420.09 114.37L415.03 114.37Z" fill="none" stroke="#1ba45c" stroke-width="1.0"/>
<path d="M418.4 119.29L420.93 114.92L415.87 114.92Z" fill="none" stroke="#1ba45c" stroke-width="1.0"/>
<path d="M419.23 121.32L421.76 116.95L416.7 116.95Z" fill="none" stroke="#1ba45c" stroke-width="1.0"/>
<path d="M420.06 121.01L422.59 116.64L417.53 116.64Z" fill="none" stroke="#1ba45c" stroke-width="1.0"/>
<path d="M420.89 126.82L423.42 122.45L418.36 122.45Z" fill="none" stroke="#1ba45c" stroke-width="1.0"/>
<path d="M421.72 126.28L424.25 121.91L419.19 121.91Z" fill="none" stroke="#1ba45c" stroke-width="1.0"/>
<path d="M422.56 123.6L425.09 119.23L420.03 119.23Z" fill="none" stroke="#1ba45c" stroke-width="1.0"/>
<path d="M423.39 125.48L425.92 121.11L420.86 121.11Z" fill="none" stroke="#1ba45c" stroke-width="1.0"/>
<path d="M424.22 128.26L426.75 123.89L421.69 123.89Z" fill="none" stroke="#1ba45c" stroke-width="1.0"/>
<path d="M425.05 126.34L427.58 121.97L422.52 121.97Z" fill="none" stroke="#1ba45c" stroke-width="1.0"/>
<path d="M425.88 129.19L428.41 124.82L423.35 124.82Z" fill="none" stroke="#1ba45c" stroke-width="1.0"/>
<path d="M426.72 129.72L429.25 125.35L424.19 125.35Z" fill="none" stroke="#1ba45c" stroke-width="1.0"/>
<path d="M427.55 134.03L430.08 129.66L425.02 129.66Z" fill="none" stroke="#1ba45c" stroke-width="1.0"/>
<path d="M428.38 136.13L430.91 131.76L425.85 131.76Z" fill="none" stroke="#1ba45c" stroke-width="1.0"/>
<path d="M429.21 136.37L431.74 132L426.68 132Z" fill="none" stroke="#1ba45c" stroke-width="1.0"/>
<path d="M430.04 139.55L432.57 135.18L427.51 135.18Z" fill="none" stroke="#1ba45c" stroke-width="1.0"/>
<path d="M430.88 139.16L433.41 134.79L428.35 134.79Z" fill="none" stroke="#1ba45c" stroke-width="1.0"/>
<path d="M431.71 137.02L434.24 132.65L429.18 132.65Z" fill="none" stroke="#1ba45c" stroke-width="1.0"/>
<path d="M432.54 141.22L435.07 136.85L430.01 136.85Z" fill="none" stroke="#1ba45c" stroke-width="1.0"/>
<path d="M433.37 143.81L435.9 139.44L430.84 139.44Z" fill="none" stroke="#1ba45c" stroke-width="1.0"/>
<path d="M434.2 144.52L436.73 140.15L431.67 140.15Z" fill="none" stroke="#1ba45c" stroke-width="1.0"/>
<path d="M435.04 144.77L437.57 140.4L432.51 140.4Z" fill="none" stroke="#1ba45c" stroke-width="1.0"/>
<path d="M435.87 142.15L438.4 137.78L433.34 137.78Z" fill="none" stroke="#1ba45c" stroke-width="1.0"/>
<path d="M436.7 144.97L439.23 140.6L434.17 140.6Z" fill="none" stroke="#1ba45c" stroke-width="1.0"/>
<path d="M437.53 145.96L440.06 141.59L435 141.59Z" fill="none" stroke="#1ba45c" stroke-width="1.0"/>
<path d="M438.36 147.58L440.89 143.21L435.83 143.21Z" fill="none" stroke="#1ba45c" stroke-width="1.0"/>
<path d="M439.2 143.54L441.73 139.17L436.67 139.17Z" fill="none" stroke="#1ba45c" stroke-width="1.0"/>
<path d="M440.03 147.08L442.56 142.71L437.5 142.71Z" fill="none" stroke="#1ba45c" stroke-width="1.0"/>
<path d="M440.86 149.12L443.39 144.75L438.33 144.75Z" fill="none" stroke="#1ba45c" stroke-width="1.0"/>
<path d="M441.69 150.81L444.22 146.44L439.16 146.44Z" fill="none" stroke="#1ba45c" stroke-width="1.0"/>
<path d="M442.52 151.74L445.05 147.37L439.99 147.37Z" fill="none" stroke="#1ba45c" stroke-width="1.0"/>
<path d="M443.36 152.06L445.89 147.69L440.83 147.69Z" fill="none" stroke="#1ba45c" stroke-width="1.0"/>
<path d="M444.19 150.3L446.72 145.93L441.66 145.93Z" fill="none" stroke="#1ba45c" stroke-width="1.0"/>
<path d="M445.02 153.98L447.55 149.61L442.49 149.61Z" fill="none" stroke="#1ba45c" stroke-width="1.0"/>
<path d="M445.85 155.46L448.38 151.09L443.32 151.09Z" fill="none" stroke="#1ba45c" stroke-width="1.0"/>
<path d="M446.68 154.01L449.21 149.64L444.15 149.64Z" fill="none" stroke="#1ba45c" stroke-width="1.0"/>
<path d="M447.52 155.73L450.05 151.36L444.99 151.36Z" fill="none" stroke="#1ba45c" stroke-width="1.0"/>
<path d="M448.35 152.26L450.88 147.89L445.82 147.89Z" fill="none" stroke="#1ba45c" stroke-width="1.0"/>
<path d="M449.18 157.31L451.71 152.94L446.65 152.94Z" fill="none" stroke="#1ba45c" stroke-width="1.0"/>
<path d="M450.01 155.63L452.54 151.26L447.48 151.26Z" fill="none" stroke="#1ba45c" stroke-width="1.0"/>
<path d="M450.84 154.8L453.37 150.43L448.31 150.43Z" fill="none" stroke="#1ba45c" stroke-width="1.0"/>
<path d="M451.68 157.17L454.21 152.8L449.15 152.8Z" fill="none" stroke="#1ba45c" stroke-width="1.0"/>
<path d="M452.51 154.59L455.04 150.22L449.98 150.22Z" fill="none" stroke="#1ba45c" stroke-width="1.0"/>
<path d="M453.34 157.72L455.87 153.35L450.81 153.35Z" fill="none" stroke="#1ba45c" stroke-width="1.0"/>
<path d="M454.17 160.6L456.7 156.23L451.64 156.23Z" fill="none" stroke="#1ba45c" stroke-width="1.0"/>
<path d="M455 161.35L457.53 156.98L452.47 156.98Z" fill="none" stroke="#1ba45c" stroke-width="1.0"/>
<path d="M455.84 164.95L458.37 160.58L453.31 160.58Z" fill="none" stroke="#1ba45c" stroke-width="1.0"/>
<path d="M456.67 164.57L459.2 160.2L454.14 160.2Z" fill="none" stroke="#1ba45c" stroke-width="1.0"/>
<path d="M457.5 166.94L460.03 162.57L454.97 162.57Z" fill="none" stroke="#1ba45c" stroke-width="1.0"/>
<path d="M458.33 165.03L460.86 160.66L455.8 160.66Z" fill="none" stroke="#1ba45c" stroke-width="1.0"/>
<path d="M459.16 166.8L461.69 162.43L456.63 162.43Z" fill="none" stroke="#1ba45c" stroke-width="1.0"/>
<path d="M460 168.9L462.53 164.53L457.47 164.53Z" fill="none" stroke="#1ba45c" stroke-width="1.0"/>
<path d="M460.83 171.72L463.36 167.35L458.3 167.35Z" fill="none" stroke="#1ba45c" stroke-width="1.0"/>
<path d="M461.66 170.91L464.19 166.54L459.13 166.54Z" fill="none" stroke="#1ba45c" stroke-width="1.0"/>
<path d="M462.49 171.34L465.02 166.97L459.96 166.97Z" fill="none" stroke="#1ba45c" stroke-width="1.0"/>
<path d="M463.32 171.88L465.85 167.51L460.79 167.51Z" fill="none" stroke="#1ba45c" stroke-width="1.0"/>
<path d="M464.16 172.13L466.69 167.76L461.63 167.76Z" fill="none" stroke="#1ba45c" stroke-width="1.0"/>
<path d="M464.99 169.14L467.52 164.77L462.46 164.77Z" fill="none" stroke="#1ba45c" stroke-width="1.0"/>
<path d="M465.82 173.33L468.35 168.96L463.29 168.96Z" fill="none" stroke="#1ba45c" stroke-width="1.0"/>
<path d="M466.65 174.16L469.18 169.79L464.12 169.79Z" fill="none" stroke="#1ba45c" stroke-width="1.0"/>
<path d="M467.48 169.93L470.01 165.56L464.95 165.56Z" fill="none" stroke="#1ba45c" stroke-width="1.0"/>
<path d="M468.32 171.74L470.85 167.37L465.79 167.37Z" fill="none" stroke="#1ba45c" stroke-width="1.0"/>
<path d="M469.15 169.42L471.68 165.05L466.62 165.05Z" fill="none" stroke="#1ba45c" stroke-width="1.0"/>
<path d="M469.98 172.41L472.51 168.04L467.45 168.04Z" fill="none" stroke="#1ba45c" stroke-width="1.0"/>
<path d="M470.81 169.71L473.34 165.34L468.28 165.34Z" fill="none" stroke="#1ba45c" stroke-width="1.0"/>
<path d="M471.64 170.91L474.17 166.54L469.11 166.54Z" fill="none" stroke="#1ba45c" stroke-width="1.0"/>
<path d="M472.48 170.1L475.01 165.73L469.95 165.73Z" fill="none" stroke="#1ba45c" stroke-width="1.0"/>
<path d="M473.31 170.25L475.84 165.88L470.78 165.88Z" fill="none" stroke="#1ba45c" stroke-width="1.0"/>
<path d="M474.14 171.48L476.67 167.11L471.61 167.11Z" fill="none" stroke="#1ba45c" stroke-width="1.0"/>
<path d="M474.97 173.48L477.5 169.11L472.44 169.11Z" fill="none" stroke="#1ba45c" stroke-width="1.0"/>
<path d="M475.8 172.75L478.33 168.38L473.27 168.38Z" fill="none" stroke="#1ba45c" stroke-width="1.0"/>
<path d="M476.64 169.17L479.17 164.8L474.11 164.8Z" fill="none" stroke="#1ba45c" stroke-width="1.0"/>
<path d="M477.47 168.93L480 164.56L474.94 164.56Z" fill="none" stroke="#1ba45c" stroke-width="1.0"/>
<path d="M478.3 168.7L480.83 164.33L475.77 164.33Z" fill="none" stroke="#1ba45c" stroke-width="1.0"/>
<path d="M479.13 171.68L481.66 167.31L476.6 167.31Z" fill="none" stroke="#1ba45c" stroke-width="1.0"/>
<path d="M479.96 169.89L482.49 165.52L477.43 165.52Z" fill="none" stroke="#1ba45c" stroke-width="1.0"/>
<path d="M480.8 169.51L483.33 165.14L478.27 165.14Z" fill="none" stroke="#1ba45c" stroke-width="1.0"/>
<path d="M481.63 170.7L484.16 166.33L479.1 166.33Z" fill="none" stroke="#1ba45c" stroke-width="1.0"/>
<path d="M482.46 170.16L484.99 165.79L479.93 165.79Z" fill="none" stroke="#1ba45c" stroke-width="1.0"/>
<path d="M483.29 172.03L485.82 167.66L480.76 167.66Z" fill="none" stroke="#1ba45c" stroke-width="1.0"/>
<path d="M484.12 171.73L486.65 167.36L481.59 167.36Z" fill="none" stroke="#1ba45c" stroke-width="1.0"/>
<path d="M484.96 171.93L487.49 167.56L482.43 167.56Z" fill="none" stroke="#1ba45c" stroke-width="1.0"/>
<path d="M485.79 174.7L488.32 170.33L483.26 170.33Z" fill="none" stroke="#1ba45c" stroke-width="1.0"/>
<path d="M486.62 171.85L489.15 167.48L484.09 167.48Z" fill="none" stroke="#1ba45c" stroke-width="1.0"/>
<path d="M487.45 172.26L489.98 167.89L484.92 167.89Z" fill="none" stroke="#1ba45c" stroke-width="1.0"/>
<path d="M488.28 177.47L490.81 173.1L485.75 173.1Z" fill="none" stroke="#1ba45c" stroke-width="1.0"/>
<path d="M489.12 173.35L491.65 168.98L486.59 168.98Z" fill="none" stroke="#1ba45c" stroke-width="1.0"/>
<path d="M489.95 173.49L492.48 169.12L487.42 169.12Z" fill="none" stroke="#1ba45c" stroke-width="1.0"/>
<path d="M490.78 175.12L493.31 170.75L488.25 170.75Z" fill="none" stroke="#1ba45c" stroke-width="1.0"/>
<path d="M491.61 178.48L494.14 174.11L489.08 174.11Z" fill="none" stroke="#1ba45c" stroke-width="1.0"/>
<path d="M492.44 174.1L494.97 169.73L489.91 169.73Z" fill="none" stroke="#1ba45c" stroke-width="1.0"/>
<path d="M493.28 178.23L495.81 173.86L490.75 173.86Z" fill="none" stroke="#1ba45c" stroke-width="1.0"/>
<path d="M494.11 173.92L496.64 169.55L491.58 169.55Z" fill="none" stroke="#1ba45c" stroke-width="1.0"/>
<path d="M494.94 175.59L497.47 171.22L492.41 171.22Z" fill="none" stroke="#1ba45c" stroke-width="1.0"/>
<path d="M495.77 178.86L498.3 174.49L493.24 174.49Z" fill="none" stroke="#1ba45c" stroke-width="1.0"/>
<path d="M496.6 178.4L499.13 174.03L494.07 174.03Z" fill="none" stroke="#1ba45c" stroke-width="1.0"/>
<path d="M497.44 176.04L499.97 171.67L494.91 171.67Z" fill="none" stroke="#1ba45c" stroke-width="1.0"/>
<path d="M498.27 176.47L500.8 172.1L495.74 172.1Z" fill="none" stroke="#1ba45c" stroke-width="1.0"/>
<path d="M499.1 175.53L501.63 171.16L496.57 171.16Z" fill="none" stroke="#1ba45c" stroke-width="1.0"/>
<path d="M499.93 174.57L502.46 170.2L497.4 170.2Z" fill="none" stroke="#1ba45c" stroke-width="1.0"/>
<path d="M500.76 178.28L503.29 173.91L498.23 173.91Z" fill="none" stroke="#1ba45c" stroke-width="1.0"/>
<path d="M501.6 179.4L504.13 175.03L499.07 175.03Z" fill="none" stroke="#1ba45c" stroke-width="1.0"/>
<path d="M502.43 174.57L504.96 170.2L499.9 170.2Z" fill="none" stroke="#1ba45c" stroke-width="1.0"/>
<path d="M503.26 179.32L505.79 174.95L500.73 174.95Z" fill="none" stroke="#1ba45c" stroke-width="1.0"/>
<path d="M504.09 174.78L506.62 170.41L501.56 170.41Z" fill="none" stroke="#1ba45c" stroke-width="1.0"/>
<path d="M504.92 178.76L507.45 174.39L502.39 174.39Z" fill="none" stroke="#1ba45c" stroke-width="1.0"/>
<path d="M505.76 175.11L508.29 170.74L503.23 170.74Z" fill="none" stroke="#1ba45c" stroke-width="1.0"/>
<path d="M506.59 175.24L509.12 170.87L504.06 170.87Z" fill="none" stroke="#1ba45c" stroke-width="1.0"/>
<path d="M507.42 174.73L509.95 170.36L504.89 170.36Z" fill="none" stroke="#1ba45c" stroke-width="1.0"/>
<path d="M508.25 176.44L510.78 172.07L505.72 172.07Z" fill="none" stroke="#1ba45c" stroke-width="1.0"/>
<path d="M509.08 174.7L511.61 170.33L506.55 170.33Z" fill="none" stroke="#1ba45c" stroke-width="1.0"/>
<path d="M509.92 178.24L512.45 173.87L507.39 173.87Z" fill="none" stroke="#1ba45c" stroke-width="1.0"/>
<path d="M510.75 175.77L513.28 171.4L508.22 171.4Z" fill="none" stroke="#1ba45c" stroke-width="1.0"/>
<path d="M511.58 177.55L514.11 173.18L509.05 173.18Z" fill="none" stroke="#1ba45c" stroke-width="1.0"/>
<path d="M512.41 174.59L514.94 170.22L509.88 170.22Z" fill="none" stroke="#1ba45c" stroke-width="1.0"/>
<path d="M513.24 175.2L515.77 170.83L510.71 170.83Z" fill="none" stroke="#1ba45c" stroke-width="1.0"/>
<path d="M514.08 176.77L516.61 172.4L511.55 172.4Z" fill="none" stroke="#1ba45c" stroke-width="1.0"/>
<path d="M514.91 176.47L517.44 172.1L512.38 172.1Z" fill="none" stroke="#1ba45c" stroke-width="1.0"/>
<path d="M515.74 179.09L518.27 174.72L513.21 174.72Z" fill="none" stroke="#1ba45c" stroke-width="1.0"/>
<path d="M516.57 179.03L519.1 174.66L514.04 174.66Z" fill="none" stroke="#1ba45c" stroke-width="1.0"/>
<path d="M517.4 176.08L519.93 171.71L514.87 171.71Z" fill="none" stroke="#1ba45c" stroke-width="1.0"/>
<path d="M518.24 176.63L520.77 172.26L515.71 172.26Z" fill="none" stroke="#1ba45c" stroke-width="1.0"/>
<path d="M519.07 174.64L521.6 170.27L516.54 170.27Z" fill="none" stroke="#1ba45c" stroke-width="1.0"/>
<path d="M519.9 175.98L522.43 171.61L517.37 171.61Z" fill="none" stroke="#1ba45c" stroke-width="1.0"/>
<line x1="337.2" x2="340.4" y1="186.4" y2="186.4" stroke="#111" stroke-width="1.2"/>
<line x1="337.2" x2="340.4" y1="157.26" y2="157.26" stroke="#111" stroke-width="1.2"/>
<line x1="337.2" x2="340.4" y1="128.12" y2="128.12" stroke="#111" stroke-width="1.2"/>
<line x1="337.2" x2="340.4" y1="98.98" y2="98.98" stroke="#111" stroke-width="1.2"/>
<line x1="337.2" x2="340.4" y1="69.84" y2="69.84" stroke="#111" stroke-width="1.2"/>
<line x1="337.2" x2="340.4" y1="40.7" y2="40.7" stroke="#111" stroke-width="1.2"/>
<line x1="337.2" x2="339" y1="171.83" y2="171.83" stroke="#111" stroke-width="1.2"/>
<line x1="337.2" x2="339" y1="142.69" y2="142.69" stroke="#111" stroke-width="1.2"/>
<line x1="337.2" x2="339" y1="113.55" y2="113.55" stroke="#111" stroke-width="1.2"/>
<line x1="337.2" x2="339" y1="84.41" y2="84.41" stroke="#111" stroke-width="1.2"/>
<line x1="337.2" x2="339" y1="55.27" y2="55.27" stroke="#111" stroke-width="1.2"/>
<line x1="353.5" x2="353.5" y1="186.8" y2="183.6" stroke="#111" stroke-width="1.2"/>
<line x1="395.1" x2="395.1" y1="186.8" y2="183.6" stroke="#111" stroke-width="1.2"/>
<line x1="436.7" x2="436.7" y1="186.8" y2="183.6" stroke="#111" stroke-width="1.2"/>
<line x1="478.3" x2="478.3" y1="186.8" y2="183.6" stroke="#111" stroke-width="1.2"/>
<line x1="519.9" x2="519.9" y1="186.8" y2="183.6" stroke="#111" stroke-width="1.2"/>
<line x1="374.3" x2="374.3" y1="186.8" y2="185" stroke="#111" stroke-width="1.2"/>
<line x1="415.9" x2="415.9" y1="186.8" y2="185" stroke="#111" stroke-width="1.2"/>
<line x1="457.5" x2="457.5" y1="186.8" y2="185" stroke="#111" stroke-width="1.2"/>
<line x1="499.1" x2="499.1" y1="186.8" y2="185" stroke="#111" stroke-width="1.2"/>
<rect x="337.2" y="26" width="199.4" height="160.8" fill="none" stroke="#222" stroke-width="1.45"/>
<text x="333" y="190" font-size="10.0" text-anchor="end" font-weight="bold" >0</text>
<text x="333" y="160.86" font-size="10.0" text-anchor="end" font-weight="bold" >20</text>
<text x="333" y="131.72" font-size="10.0" text-anchor="end" font-weight="bold" >40</text>
<text x="333" y="102.58" font-size="10.0" text-anchor="end" font-weight="bold" >60</text>
<text x="333" y="73.44" font-size="10.0" text-anchor="end" font-weight="bold" >80</text>
<text x="333" y="44.3" font-size="10.0" text-anchor="end" font-weight="bold" >100</text>
<text x="353.5" y="199.4" font-size="10.2" text-anchor="middle" font-weight="bold" >0</text>
<text x="395.1" y="199.4" font-size="10.2" text-anchor="middle" font-weight="bold" >50</text>
<text x="436.7" y="199.4" font-size="10.2" text-anchor="middle" font-weight="bold" >100</text>
<text x="478.3" y="199.4" font-size="10.2" text-anchor="middle" font-weight="bold" >150</text>
<text x="519.9" y="199.4" font-size="10.2" text-anchor="middle" font-weight="bold" >200</text>
<text x="436.7" y="219.8" font-size="13.3" text-anchor="middle" font-weight="bold" >Cycle number (N)</text>
<text transform="translate(311,105.4) rotate(-90)" font-size="13.45" text-anchor="middle" font-weight="bold">Capacity retention (%)</text>
<text x="300.8" y="18.2" font-size="15.2" text-anchor="middle" font-weight="bold" >(b)</text>
<rect x="464.3" y="27.4" width="65.7" height="47.1" fill="#fff" stroke="#9a9a9a" stroke-width="0.8"/>
<line x1="465.5" x2="486.7" y1="33.6" y2="33.6" stroke="#4a4a4a" stroke-width="1"/>
<rect x="472.5" y="30.6" width="7.6" height="6" fill="#fff"/>
<rect x="474.35" y="31.65" width="3.91" height="3.91" fill="none" stroke="#4a4a4a" stroke-width="1.0"/>
<text x="489.3" y="36.9" font-size="9.2" text-anchor="start" font-weight="bold" >SoC 0%</text>
<line x1="465.5" x2="486.7" y1="45.05" y2="45.05" stroke="#f24a4a" stroke-width="1"/>
<rect x="472.5" y="42.05" width="7.6" height="6" fill="#fff"/>
<circle cx="476.3" cy="45.05" r="2.3" fill="none" stroke="#f24a4a" stroke-width="1.0"/>
<text x="489.3" y="48.35" font-size="9.2" text-anchor="start" font-weight="bold" >SoC 20%</text>
<line x1="465.5" x2="486.7" y1="56.5" y2="56.5" stroke="#2a7fe6" stroke-width="1"/>
<rect x="472.5" y="53.5" width="7.6" height="6" fill="#fff"/>
<path d="M476.3 53.97L478.83 58.34L473.77 58.34Z" fill="none" stroke="#2a7fe6" stroke-width="1.0"/>
<text x="489.3" y="59.8" font-size="9.2" text-anchor="start" font-weight="bold" >SoC 40%</text>
<line x1="465.5" x2="486.7" y1="67.95" y2="67.95" stroke="#1ba45c" stroke-width="1"/>
<rect x="472.5" y="64.95" width="7.6" height="6" fill="#fff"/>
<path d="M476.3 70.48L478.83 66.11L473.77 66.11Z" fill="none" stroke="#1ba45c" stroke-width="1.0"/>
<text x="489.3" y="71.25" font-size="9.2" text-anchor="start" font-weight="bold" >SoC 60%</text>
<line x1="75" x2="75" y1="257.5" y2="418.6" stroke="#f0f0f0" stroke-width="0.8"/>
<line x1="95.81" x2="95.81" y1="257.5" y2="418.6" stroke="#f0f0f0" stroke-width="0.8"/>
<line x1="116.62" x2="116.62" y1="257.5" y2="418.6" stroke="#f0f0f0" stroke-width="0.8"/>
<line x1="137.44" x2="137.44" y1="257.5" y2="418.6" stroke="#f0f0f0" stroke-width="0.8"/>
<line x1="158.25" x2="158.25" y1="257.5" y2="418.6" stroke="#f0f0f0" stroke-width="0.8"/>
<line x1="179.06" x2="179.06" y1="257.5" y2="418.6" stroke="#f0f0f0" stroke-width="0.8"/>
<line x1="199.88" x2="199.88" y1="257.5" y2="418.6" stroke="#f0f0f0" stroke-width="0.8"/>
<line x1="220.69" x2="220.69" y1="257.5" y2="418.6" stroke="#f0f0f0" stroke-width="0.8"/>
<line x1="241.5" x2="241.5" y1="257.5" y2="418.6" stroke="#f0f0f0" stroke-width="0.8"/>
<line x1="58.5" x2="258.3" y1="404.24" y2="404.24" stroke="#f0f0f0" stroke-width="0.8"/>
<line x1="58.5" x2="258.3" y1="389.58" y2="389.58" stroke="#f0f0f0" stroke-width="0.8"/>
<line x1="58.5" x2="258.3" y1="374.92" y2="374.92" stroke="#f0f0f0" stroke-width="0.8"/>
<line x1="58.5" x2="258.3" y1="360.26" y2="360.26" stroke="#f0f0f0" stroke-width="0.8"/>
<line x1="58.5" x2="258.3" y1="345.6" y2="345.6" stroke="#f0f0f0" stroke-width="0.8"/>
<line x1="58.5" x2="258.3" y1="330.94" y2="330.94" stroke="#f0f0f0" stroke-width="0.8"/>
<line x1="58.5" x2="258.3" y1="316.28" y2="316.28" stroke="#f0f0f0" stroke-width="0.8"/>
<line x1="58.5" x2="258.3" y1="301.62" y2="301.62" stroke="#f0f0f0" stroke-width="0.8"/>
<line x1="58.5" x2="258.3" y1="286.96" y2="286.96" stroke="#f0f0f0" stroke-width="0.8"/>
<line x1="58.5" x2="258.3" y1="272.3" y2="272.3" stroke="#f0f0f0" stroke-width="0.8"/>
<path d="M75 271.69L75.83 275.49L76.67 279.62L77.5 278.65L78.33 279.41L79.16 278.26L80 282.47L80.83 280.05L81.66 277.42L82.49 278.78L83.33 277.42L84.16 281.24L84.99 279.37L85.82 280.37L86.66 278.78L87.49 278.53L88.32 280.99L89.15 279.64L89.98 279L90.82 275.49L91.65 275.91L92.48 278.59L93.31 275.08L94.15 278.03L94.98 275.31L95.81 277.43L96.64 277.72L97.48 273.35L98.31 276.62L99.14 276.56L99.97 272.71L100.81 273.22L101.64 276.1L102.47 272.72L103.31 274.79L104.14 274.07L104.97 276.4L105.8 272.7L106.64 273.92L107.47 272.51L108.3 272.84L109.13 275.78L109.97 275.44L110.8 276.38L111.63 276.45L112.46 276.82L113.3 275.61L114.13 274.08L114.96 277.04L115.79 273.64L116.62 275.31L117.46 275.48L118.29 272.97L119.12 274.68L119.95 275.53L120.79 274.74L121.62 273.65L122.45 276.91L123.28 272.37L124.12 277.14L124.95 273.55L125.78 273.1L126.62 277.25L127.45 273.45L128.28 275.58L129.11 274.55L129.94 277.42L130.78 277.26L131.61 276.62L132.44 272.79L133.28 276.6L134.11 273.84L134.94 273L135.77 272.97L136.61 275.98L137.44 275.96L138.27 275.14L139.1 273.92L139.94 277.27L140.77 274.11L141.6 273.9L142.43 273.62L143.26 277.75L144.1 273.24L144.93 277.53L145.76 276.32L146.59 275L147.43 273.5L148.26 276.41L149.09 273.53L149.93 275.45L150.76 276.65L151.59 276.67L152.42 277.4L153.25 277.94L154.09 277.63L154.92 274.97L155.75 273.48L156.59 277.68L157.42 278.29L158.25 273.65L159.08 275.95L159.92 276.63L160.75 277.51L161.58 275.77L162.41 274.66L163.25 276.54L164.08 276.75L164.91 278.62L165.74 274.37L166.57 278.82L167.41 276.56L168.24 274.88L169.07 278.45L169.91 275.49L170.74 274.45L171.57 276.08L172.4 275.34L173.24 278.77L174.07 277.18L174.9 278.64L175.73 275.22L176.56 278L177.4 277.25L178.23 274.57L179.06 275.34L179.89 274.77L180.73 277.94L181.56 278.33L182.39 277.7L183.23 279.51L184.06 281.02L184.89 281.03L185.72 282.88L186.56 282.3L187.39 278.91L188.22 278.71L189.05 280.02L189.88 280.32L190.72 280.78L191.55 281.68L192.38 280.44L193.22 277.57L194.05 276.82L194.88 279.02L195.71 276.58L196.55 276.31L197.38 276.38L198.21 276.21L199.04 275.4L199.88 277.4L200.71 275.72L201.54 277.86L202.37 276.86L203.21 275.47L204.04 275.88L204.87 277.89L205.7 274.66L206.53 276.16L207.37 276.53L208.2 279.39L209.03 276.74L209.87 278.24L210.7 276.16L211.53 277.23L212.36 275.49L213.19 276.35L214.03 275.63L214.86 277.89L215.69 276.44L216.53 276L217.36 275.57L218.19 277.97L219.02 275.54L219.85 275.43L220.69 276.36L221.52 274.95L222.35 275.07L223.19 277.27L224.02 277.24L224.85 279.07L225.68 275.76L226.52 275.28L227.35 277.59L228.18 276.55L229.01 276.43L229.84 276.4L230.68 279.21L231.51 276.2L232.34 277.21L233.18 276.82L234.01 278.06L234.84 277.07L235.67 276.34L236.5 277.05L237.34 276.66L238.17 280.13L239 279.5L239.84 278.12L240.67 277.1L241.5 279.27" fill="none" stroke="#22c0c6" stroke-width="1.0"/>
<path d="M77.42 271.69L73.24 269.27L73.24 274.11Z" fill="none" stroke="#22c0c6" stroke-width="1.0"/>
<path d="M78.25 275.49L74.07 273.07L74.07 277.91Z" fill="none" stroke="#22c0c6" stroke-width="1.0"/>
<path d="M79.09 279.62L74.91 277.2L74.91 282.04Z" fill="none" stroke="#22c0c6" stroke-width="1.0"/>
<path d="M79.92 278.65L75.74 276.23L75.74 281.07Z" fill="none" stroke="#22c0c6" stroke-width="1.0"/>
<path d="M80.75 279.41L76.57 276.99L76.57 281.83Z" fill="none" stroke="#22c0c6" stroke-width="1.0"/>
<path d="M81.58 278.26L77.4 275.84L77.4 280.68Z" fill="none" stroke="#22c0c6" stroke-width="1.0"/>
<path d="M82.42 282.47L78.23 280.05L78.23 284.89Z" fill="none" stroke="#22c0c6" stroke-width="1.0"/>
<path d="M83.25 280.05L79.07 277.63L79.07 282.47Z" fill="none" stroke="#22c0c6" stroke-width="1.0"/>
<path d="M84.08 277.42L79.9 275L79.9 279.84Z" fill="none" stroke="#22c0c6" stroke-width="1.0"/>
<path d="M84.91 278.78L80.73 276.36L80.73 281.2Z" fill="none" stroke="#22c0c6" stroke-width="1.0"/>
<path d="M85.75 277.42L81.56 275L81.56 279.84Z" fill="none" stroke="#22c0c6" stroke-width="1.0"/>
<path d="M86.58 281.24L82.4 278.82L82.4 283.66Z" fill="none" stroke="#22c0c6" stroke-width="1.0"/>
<path d="M87.41 279.37L83.23 276.95L83.23 281.79Z" fill="none" stroke="#22c0c6" stroke-width="1.0"/>
<path d="M88.24 280.37L84.06 277.95L84.06 282.79Z" fill="none" stroke="#22c0c6" stroke-width="1.0"/>
<path d="M89.08 278.78L84.89 276.36L84.89 281.2Z" fill="none" stroke="#22c0c6" stroke-width="1.0"/>
<path d="M89.91 278.53L85.73 276.11L85.73 280.95Z" fill="none" stroke="#22c0c6" stroke-width="1.0"/>
<path d="M90.74 280.99L86.56 278.57L86.56 283.41Z" fill="none" stroke="#22c0c6" stroke-width="1.0"/>
<path d="M91.57 279.64L87.39 277.22L87.39 282.06Z" fill="none" stroke="#22c0c6" stroke-width="1.0"/>
<path d="M92.41 279L88.22 276.58L88.22 281.42Z" fill="none" stroke="#22c0c6" stroke-width="1.0"/>
<path d="M93.24 275.49L89.06 273.07L89.06 277.91Z" fill="none" stroke="#22c0c6" stroke-width="1.0"/>
<path d="M94.07 275.91L89.89 273.49L89.89 278.33Z" fill="none" stroke="#22c0c6" stroke-width="1.0"/>
<path d="M94.9 278.59L90.72 276.17L90.72 281.01Z" fill="none" stroke="#22c0c6" stroke-width="1.0"/>
<path d="M95.73 275.08L91.55 272.66L91.55 277.5Z" fill="none" stroke="#22c0c6" stroke-width="1.0"/>
<path d="M96.57 278.03L92.39 275.61L92.39 280.45Z" fill="none" stroke="#22c0c6" stroke-width="1.0"/>
<path d="M97.4 275.31L93.22 272.89L93.22 277.73Z" fill="none" stroke="#22c0c6" stroke-width="1.0"/>
<path d="M98.23 277.43L94.05 275.01L94.05 279.85Z" fill="none" stroke="#22c0c6" stroke-width="1.0"/>
<path d="M99.06 277.72L94.88 275.3L94.88 280.14Z" fill="none" stroke="#22c0c6" stroke-width="1.0"/>
<path d="M99.9 273.35L95.72 270.93L95.72 275.77Z" fill="none" stroke="#22c0c6" stroke-width="1.0"/>
<path d="M100.73 276.62L96.55 274.2L96.55 279.04Z" fill="none" stroke="#22c0c6" stroke-width="1.0"/>
<path d="M101.56 276.56L97.38 274.14L97.38 278.98Z" fill="none" stroke="#22c0c6" stroke-width="1.0"/>
<path d="M102.39 272.71L98.21 270.29L98.21 275.13Z" fill="none" stroke="#22c0c6" stroke-width="1.0"/>
<path d="M103.23 273.22L99.05 270.8L99.05 275.64Z" fill="none" stroke="#22c0c6" stroke-width="1.0"/>
<path d="M104.06 276.1L99.88 273.68L99.88 278.52Z" fill="none" stroke="#22c0c6" stroke-width="1.0"/>
<path d="M104.89 272.72L100.71 270.3L100.71 275.14Z" fill="none" stroke="#22c0c6" stroke-width="1.0"/>
<path d="M105.73 274.79L101.55 272.37L101.55 277.21Z" fill="none" stroke="#22c0c6" stroke-width="1.0"/>
<path d="M106.56 274.07L102.38 271.65L102.38 276.49Z" fill="none" stroke="#22c0c6" stroke-width="1.0"/>
<path d="M107.39 276.4L103.21 273.98L103.21 278.82Z" fill="none" stroke="#22c0c6" stroke-width="1.0"/>
<path d="M108.22 272.7L104.04 270.28L104.04 275.12Z" fill="none" stroke="#22c0c6" stroke-width="1.0"/>
<path d="M109.06 273.92L104.88 271.5L104.88 276.34Z" fill="none" stroke="#22c0c6" stroke-width="1.0"/>
<path d="M109.89 272.51L105.71 270.09L105.71 274.93Z" fill="none" stroke="#22c0c6" stroke-width="1.0"/>
<path d="M110.72 272.84L106.54 270.42L106.54 275.26Z" fill="none" stroke="#22c0c6" stroke-width="1.0"/>
<path d="M111.55 275.78L107.37 273.36L107.37 278.2Z" fill="none" stroke="#22c0c6" stroke-width="1.0"/>
<path d="M112.39 275.44L108.2 273.02L108.2 277.86Z" fill="none" stroke="#22c0c6" stroke-width="1.0"/>
<path d="M113.22 276.38L109.04 273.96L109.04 278.8Z" fill="none" stroke="#22c0c6" stroke-width="1.0"/>
<path d="M114.05 276.45L109.87 274.03L109.87 278.87Z" fill="none" stroke="#22c0c6" stroke-width="1.0"/>
<path d="M114.88 276.82L110.7 274.4L110.7 279.24Z" fill="none" stroke="#22c0c6" stroke-width="1.0"/>
<path d="M115.72 275.61L111.53 273.19L111.53 278.03Z" fill="none" stroke="#22c0c6" stroke-width="1.0"/>
<path d="M116.55 274.08L112.37 271.66L112.37 276.5Z" fill="none" stroke="#22c0c6" stroke-width="1.0"/>
<path d="M117.38 277.04L113.2 274.62L113.2 279.46Z" fill="none" stroke="#22c0c6" stroke-width="1.0"/>
<path d="M118.21 273.64L114.03 271.22L114.03 276.06Z" fill="none" stroke="#22c0c6" stroke-width="1.0"/>
<path d="M119.05 275.31L114.86 272.89L114.86 277.73Z" fill="none" stroke="#22c0c6" stroke-width="1.0"/>
<path d="M119.88 275.48L115.7 273.06L115.7 277.9Z" fill="none" stroke="#22c0c6" stroke-width="1.0"/>
<path d="M120.71 272.97L116.53 270.55L116.53 275.39Z" fill="none" stroke="#22c0c6" stroke-width="1.0"/>
<path d="M121.54 274.68L117.36 272.26L117.36 277.1Z" fill="none" stroke="#22c0c6" stroke-width="1.0"/>
<path d="M122.38 275.53L118.19 273.11L118.19 277.95Z" fill="none" stroke="#22c0c6" stroke-width="1.0"/>
<path d="M123.21 274.74L119.03 272.32L119.03 277.16Z" fill="none" stroke="#22c0c6" stroke-width="1.0"/>
<path d="M124.04 273.65L119.86 271.23L119.86 276.07Z" fill="none" stroke="#22c0c6" stroke-width="1.0"/>
<path d="M124.87 276.91L120.69 274.49L120.69 279.33Z" fill="none" stroke="#22c0c6" stroke-width="1.0"/>
<path d="M125.7 272.37L121.52 269.95L121.52 274.79Z" fill="none" stroke="#22c0c6" stroke-width="1.0"/>
<path d="M126.54 277.14L122.36 274.72L122.36 279.56Z" fill="none" stroke="#22c0c6" stroke-width="1.0"/>
<path d="M127.37 273.55L123.19 271.13L123.19 275.97Z" fill="none" stroke="#22c0c6" stroke-width="1.0"/>
<path d="M128.2 273.1L124.02 270.68L124.02 275.52Z" fill="none" stroke="#22c0c6" stroke-width="1.0"/>
<path d="M129.03 277.25L124.86 274.83L124.86 279.67Z" fill="none" stroke="#22c0c6" stroke-width="1.0"/>
<path d="M129.87 273.45L125.69 271.03L125.69 275.87Z" fill="none" stroke="#22c0c6" stroke-width="1.0"/>
<path d="M130.7 275.58L126.52 273.16L126.52 278Z" fill="none" stroke="#22c0c6" stroke-width="1.0"/>
<path d="M131.53 274.55L127.35 272.13L127.35 276.97Z" fill="none" stroke="#22c0c6" stroke-width="1.0"/>
<path d="M132.36 277.42L128.19 275L128.19 279.84Z" fill="none" stroke="#22c0c6" stroke-width="1.0"/>
<path d="M133.2 277.26L129.02 274.84L129.02 279.68Z" fill="none" stroke="#22c0c6" stroke-width="1.0"/>
<path d="M134.03 276.62L129.85 274.2L129.85 279.04Z" fill="none" stroke="#22c0c6" stroke-width="1.0"/>
<path d="M134.86 272.79L130.68 270.37L130.68 275.21Z" fill="none" stroke="#22c0c6" stroke-width="1.0"/>
<path d="M135.69 276.6L131.52 274.18L131.52 279.02Z" fill="none" stroke="#22c0c6" stroke-width="1.0"/>
<path d="M136.53 273.84L132.35 271.42L132.35 276.26Z" fill="none" stroke="#22c0c6" stroke-width="1.0"/>
<path d="M137.36 273L133.18 270.58L133.18 275.42Z" fill="none" stroke="#22c0c6" stroke-width="1.0"/>
<path d="M138.19 272.97L134.01 270.55L134.01 275.39Z" fill="none" stroke="#22c0c6" stroke-width="1.0"/>
<path d="M139.03 275.98L134.85 273.56L134.85 278.4Z" fill="none" stroke="#22c0c6" stroke-width="1.0"/>
<path d="M139.86 275.96L135.68 273.54L135.68 278.38Z" fill="none" stroke="#22c0c6" stroke-width="1.0"/>
<path d="M140.69 275.14L136.51 272.72L136.51 277.56Z" fill="none" stroke="#22c0c6" stroke-width="1.0"/>
<path d="M141.52 273.92L137.34 271.5L137.34 276.34Z" fill="none" stroke="#22c0c6" stroke-width="1.0"/>
<path d="M142.35 277.27L138.18 274.85L138.18 279.69Z" fill="none" stroke="#22c0c6" stroke-width="1.0"/>
<path d="M143.19 274.11L139.01 271.69L139.01 276.53Z" fill="none" stroke="#22c0c6" stroke-width="1.0"/>
<path d="M144.02 273.9L139.84 271.48L139.84 276.32Z" fill="none" stroke="#22c0c6" stroke-width="1.0"/>
<path d="M144.85 273.62L140.67 271.2L140.67 276.04Z" fill="none" stroke="#22c0c6" stroke-width="1.0"/>
<path d="M145.68 277.75L141.5 275.33L141.5 280.17Z" fill="none" stroke="#22c0c6" stroke-width="1.0"/>
<path d="M146.52 273.24L142.34 270.82L142.34 275.66Z" fill="none" stroke="#22c0c6" stroke-width="1.0"/>
<path d="M147.35 277.53L143.17 275.11L143.17 279.95Z" fill="none" stroke="#22c0c6" stroke-width="1.0"/>
<path d="M148.18 276.32L144 273.9L144 278.74Z" fill="none" stroke="#22c0c6" stroke-width="1.0"/>
<path d="M149.01 275L144.84 272.58L144.84 277.42Z" fill="none" stroke="#22c0c6" stroke-width="1.0"/>
<path d="M149.85 273.5L145.67 271.08L145.67 275.92Z" fill="none" stroke="#22c0c6" stroke-width="1.0"/>
<path d="M150.68 276.41L146.5 273.99L146.5 278.83Z" fill="none" stroke="#22c0c6" stroke-width="1.0"/>
<path d="M151.51 273.53L147.33 271.11L147.33 275.95Z" fill="none" stroke="#22c0c6" stroke-width="1.0"/>
<path d="M152.34 275.45L148.17 273.03L148.17 277.87Z" fill="none" stroke="#22c0c6" stroke-width="1.0"/>
<path d="M153.18 276.65L149 274.23L149 279.07Z" fill="none" stroke="#22c0c6" stroke-width="1.0"/>
<path d="M154.01 276.67L149.83 274.25L149.83 279.09Z" fill="none" stroke="#22c0c6" stroke-width="1.0"/>
<path d="M154.84 277.4L150.66 274.98L150.66 279.82Z" fill="none" stroke="#22c0c6" stroke-width="1.0"/>
<path d="M155.67 277.94L151.5 275.52L151.5 280.36Z" fill="none" stroke="#22c0c6" stroke-width="1.0"/>
<path d="M156.51 277.63L152.33 275.21L152.33 280.05Z" fill="none" stroke="#22c0c6" stroke-width="1.0"/>
<path d="M157.34 274.97L153.16 272.55L153.16 277.39Z" fill="none" stroke="#22c0c6" stroke-width="1.0"/>
<path d="M158.17 273.48L153.99 271.06L153.99 275.9Z" fill="none" stroke="#22c0c6" stroke-width="1.0"/>
<path d="M159 277.68L154.83 275.26L154.83 280.1Z" fill="none" stroke="#22c0c6" stroke-width="1.0"/>
<path d="M159.84 278.29L155.66 275.87L155.66 280.71Z" fill="none" stroke="#22c0c6" stroke-width="1.0"/>
<path d="M160.67 273.65L156.49 271.23L156.49 276.07Z" fill="none" stroke="#22c0c6" stroke-width="1.0"/>
<path d="M161.5 275.95L157.32 273.53L157.32 278.37Z" fill="none" stroke="#22c0c6" stroke-width="1.0"/>
<path d="M162.34 276.63L158.16 274.21L158.16 279.05Z" fill="none" stroke="#22c0c6" stroke-width="1.0"/>
<path d="M163.17 277.51L158.99 275.09L158.99 279.93Z" fill="none" stroke="#22c0c6" stroke-width="1.0"/>
<path d="M164 275.77L159.82 273.35L159.82 278.19Z" fill="none" stroke="#22c0c6" stroke-width="1.0"/>
<path d="M164.83 274.66L160.65 272.24L160.65 277.08Z" fill="none" stroke="#22c0c6" stroke-width="1.0"/>
<path d="M165.66 276.54L161.49 274.12L161.49 278.96Z" fill="none" stroke="#22c0c6" stroke-width="1.0"/>
<path d="M166.5 276.75L162.32 274.33L162.32 279.17Z" fill="none" stroke="#22c0c6" stroke-width="1.0"/>
<path d="M167.33 278.62L163.15 276.2L163.15 281.04Z" fill="none" stroke="#22c0c6" stroke-width="1.0"/>
<path d="M168.16 274.37L163.98 271.95L163.98 276.79Z" fill="none" stroke="#22c0c6" stroke-width="1.0"/>
<path d="M168.99 278.82L164.81 276.4L164.81 281.24Z" fill="none" stroke="#22c0c6" stroke-width="1.0"/>
<path d="M169.83 276.56L165.65 274.14L165.65 278.98Z" fill="none" stroke="#22c0c6" stroke-width="1.0"/>
<path d="M170.66 274.88L166.48 272.46L166.48 277.3Z" fill="none" stroke="#22c0c6" stroke-width="1.0"/>
<path d="M171.49 278.45L167.31 276.03L167.31 280.87Z" fill="none" stroke="#22c0c6" stroke-width="1.0"/>
<path d="M172.32 275.49L168.15 273.07L168.15 277.91Z" fill="none" stroke="#22c0c6" stroke-width="1.0"/>
<path d="M173.16 274.45L168.98 272.03L168.98 276.87Z" fill="none" stroke="#22c0c6" stroke-width="1.0"/>
<path d="M173.99 276.08L169.81 273.66L169.81 278.5Z" fill="none" stroke="#22c0c6" stroke-width="1.0"/>
<path d="M174.82 275.34L170.64 272.92L170.64 277.76Z" fill="none" stroke="#22c0c6" stroke-width="1.0"/>
<path d="M175.66 278.77L171.48 276.35L171.48 281.19Z" fill="none" stroke="#22c0c6" stroke-width="1.0"/>
<path d="M176.49 277.18L172.31 274.76L172.31 279.6Z" fill="none" stroke="#22c0c6" stroke-width="1.0"/>
<path d="M177.32 278.64L173.14 276.22L173.14 281.06Z" fill="none" stroke="#22c0c6" stroke-width="1.0"/>
<path d="M178.15 275.22L173.97 272.8L173.97 277.64Z" fill="none" stroke="#22c0c6" stroke-width="1.0"/>
<path d="M178.98 278L174.81 275.58L174.81 280.42Z" fill="none" stroke="#22c0c6" stroke-width="1.0"/>
<path d="M179.82 277.25L175.64 274.83L175.64 279.67Z" fill="none" stroke="#22c0c6" stroke-width="1.0"/>
<path d="M180.65 274.57L176.47 272.15L176.47 276.99Z" fill="none" stroke="#22c0c6" stroke-width="1.0"/>
<path d="M181.48 275.34L177.3 272.92L177.3 277.76Z" fill="none" stroke="#22c0c6" stroke-width="1.0"/>
<path d="M182.31 274.77L178.13 272.35L178.13 277.19Z" fill="none" stroke="#22c0c6" stroke-width="1.0"/>
<path d="M183.15 277.94L178.97 275.52L178.97 280.36Z" fill="none" stroke="#22c0c6" stroke-width="1.0"/>
<path d="M183.98 278.33L179.8 275.91L179.8 280.75Z" fill="none" stroke="#22c0c6" stroke-width="1.0"/>
<path d="M184.81 277.7L180.63 275.28L180.63 280.12Z" fill="none" stroke="#22c0c6" stroke-width="1.0"/>
<path d="M185.65 279.51L181.47 277.09L181.47 281.93Z" fill="none" stroke="#22c0c6" stroke-width="1.0"/>
<path d="M186.48 281.02L182.3 278.6L182.3 283.44Z" fill="none" stroke="#22c0c6" stroke-width="1.0"/>
<path d="M187.31 281.03L183.13 278.61L183.13 283.45Z" fill="none" stroke="#22c0c6" stroke-width="1.0"/>
<path d="M188.14 282.88L183.96 280.46L183.96 285.3Z" fill="none" stroke="#22c0c6" stroke-width="1.0"/>
<path d="M188.97 282.3L184.8 279.88L184.8 284.72Z" fill="none" stroke="#22c0c6" stroke-width="1.0"/>
<path d="M189.81 278.91L185.63 276.49L185.63 281.33Z" fill="none" stroke="#22c0c6" stroke-width="1.0"/>
<path d="M190.64 278.71L186.46 276.29L186.46 281.13Z" fill="none" stroke="#22c0c6" stroke-width="1.0"/>
<path d="M191.47 280.02L187.29 277.6L187.29 282.44Z" fill="none" stroke="#22c0c6" stroke-width="1.0"/>
<path d="M192.3 280.32L188.12 277.9L188.12 282.74Z" fill="none" stroke="#22c0c6" stroke-width="1.0"/>
<path d="M193.14 280.78L188.96 278.36L188.96 283.2Z" fill="none" stroke="#22c0c6" stroke-width="1.0"/>
<path d="M193.97 281.68L189.79 279.26L189.79 284.1Z" fill="none" stroke="#22c0c6" stroke-width="1.0"/>
<path d="M194.8 280.44L190.62 278.02L190.62 282.86Z" fill="none" stroke="#22c0c6" stroke-width="1.0"/>
<path d="M195.63 277.57L191.46 275.15L191.46 279.99Z" fill="none" stroke="#22c0c6" stroke-width="1.0"/>
<path d="M196.47 276.82L192.29 274.4L192.29 279.24Z" fill="none" stroke="#22c0c6" stroke-width="1.0"/>
<path d="M197.3 279.02L193.12 276.6L193.12 281.44Z" fill="none" stroke="#22c0c6" stroke-width="1.0"/>
<path d="M198.13 276.58L193.95 274.16L193.95 279Z" fill="none" stroke="#22c0c6" stroke-width="1.0"/>
<path d="M198.97 276.31L194.79 273.89L194.79 278.73Z" fill="none" stroke="#22c0c6" stroke-width="1.0"/>
<path d="M199.8 276.38L195.62 273.96L195.62 278.8Z" fill="none" stroke="#22c0c6" stroke-width="1.0"/>
<path d="M200.63 276.21L196.45 273.79L196.45 278.63Z" fill="none" stroke="#22c0c6" stroke-width="1.0"/>
<path d="M201.46 275.4L197.28 272.98L197.28 277.82Z" fill="none" stroke="#22c0c6" stroke-width="1.0"/>
<path d="M202.29 277.4L198.12 274.98L198.12 279.82Z" fill="none" stroke="#22c0c6" stroke-width="1.0"/>
<path d="M203.13 275.72L198.95 273.3L198.95 278.14Z" fill="none" stroke="#22c0c6" stroke-width="1.0"/>
<path d="M203.96 277.86L199.78 275.44L199.78 280.28Z" fill="none" stroke="#22c0c6" stroke-width="1.0"/>
<path d="M204.79 276.86L200.61 274.44L200.61 279.28Z" fill="none" stroke="#22c0c6" stroke-width="1.0"/>
<path d="M205.62 275.47L201.45 273.05L201.45 277.89Z" fill="none" stroke="#22c0c6" stroke-width="1.0"/>
<path d="M206.46 275.88L202.28 273.46L202.28 278.3Z" fill="none" stroke="#22c0c6" stroke-width="1.0"/>
<path d="M207.29 277.89L203.11 275.47L203.11 280.31Z" fill="none" stroke="#22c0c6" stroke-width="1.0"/>
<path d="M208.12 274.66L203.94 272.24L203.94 277.08Z" fill="none" stroke="#22c0c6" stroke-width="1.0"/>
<path d="M208.95 276.16L204.78 273.74L204.78 278.58Z" fill="none" stroke="#22c0c6" stroke-width="1.0"/>
<path d="M209.79 276.53L205.61 274.11L205.61 278.95Z" fill="none" stroke="#22c0c6" stroke-width="1.0"/>
<path d="M210.62 279.39L206.44 276.97L206.44 281.81Z" fill="none" stroke="#22c0c6" stroke-width="1.0"/>
<path d="M211.45 276.74L207.27 274.32L207.27 279.16Z" fill="none" stroke="#22c0c6" stroke-width="1.0"/>
<path d="M212.28 278.24L208.11 275.82L208.11 280.66Z" fill="none" stroke="#22c0c6" stroke-width="1.0"/>
<path d="M213.12 276.16L208.94 273.74L208.94 278.58Z" fill="none" stroke="#22c0c6" stroke-width="1.0"/>
<path d="M213.95 277.23L209.77 274.81L209.77 279.65Z" fill="none" stroke="#22c0c6" stroke-width="1.0"/>
<path d="M214.78 275.49L210.6 273.07L210.6 277.91Z" fill="none" stroke="#22c0c6" stroke-width="1.0"/>
<path d="M215.61 276.35L211.44 273.93L211.44 278.77Z" fill="none" stroke="#22c0c6" stroke-width="1.0"/>
<path d="M216.45 275.63L212.27 273.21L212.27 278.05Z" fill="none" stroke="#22c0c6" stroke-width="1.0"/>
<path d="M217.28 277.89L213.1 275.47L213.1 280.31Z" fill="none" stroke="#22c0c6" stroke-width="1.0"/>
<path d="M218.11 276.44L213.93 274.02L213.93 278.86Z" fill="none" stroke="#22c0c6" stroke-width="1.0"/>
<path d="M218.94 276L214.77 273.58L214.77 278.42Z" fill="none" stroke="#22c0c6" stroke-width="1.0"/>
<path d="M219.78 275.57L215.6 273.15L215.6 277.99Z" fill="none" stroke="#22c0c6" stroke-width="1.0"/>
<path d="M220.61 277.97L216.43 275.55L216.43 280.39Z" fill="none" stroke="#22c0c6" stroke-width="1.0"/>
<path d="M221.44 275.54L217.26 273.12L217.26 277.96Z" fill="none" stroke="#22c0c6" stroke-width="1.0"/>
<path d="M222.27 275.43L218.09 273.01L218.09 277.85Z" fill="none" stroke="#22c0c6" stroke-width="1.0"/>
<path d="M223.11 276.36L218.93 273.94L218.93 278.78Z" fill="none" stroke="#22c0c6" stroke-width="1.0"/>
<path d="M223.94 274.95L219.76 272.53L219.76 277.37Z" fill="none" stroke="#22c0c6" stroke-width="1.0"/>
<path d="M224.77 275.07L220.59 272.65L220.59 277.49Z" fill="none" stroke="#22c0c6" stroke-width="1.0"/>
<path d="M225.6 277.27L221.43 274.85L221.43 279.69Z" fill="none" stroke="#22c0c6" stroke-width="1.0"/>
<path d="M226.44 277.24L222.26 274.82L222.26 279.66Z" fill="none" stroke="#22c0c6" stroke-width="1.0"/>
<path d="M227.27 279.07L223.09 276.65L223.09 281.49Z" fill="none" stroke="#22c0c6" stroke-width="1.0"/>
<path d="M228.1 275.76L223.92 273.34L223.92 278.18Z" fill="none" stroke="#22c0c6" stroke-width="1.0"/>
<path d="M228.94 275.28L224.76 272.86L224.76 277.7Z" fill="none" stroke="#22c0c6" stroke-width="1.0"/>
<path d="M229.77 277.59L225.59 275.17L225.59 280.01Z" fill="none" stroke="#22c0c6" stroke-width="1.0"/>
<path d="M230.6 276.55L226.42 274.13L226.42 278.97Z" fill="none" stroke="#22c0c6" stroke-width="1.0"/>
<path d="M231.43 276.43L227.25 274.01L227.25 278.85Z" fill="none" stroke="#22c0c6" stroke-width="1.0"/>
<path d="M232.26 276.4L228.09 273.98L228.09 278.82Z" fill="none" stroke="#22c0c6" stroke-width="1.0"/>
<path d="M233.1 279.21L228.92 276.79L228.92 281.63Z" fill="none" stroke="#22c0c6" stroke-width="1.0"/>
<path d="M233.93 276.2L229.75 273.78L229.75 278.62Z" fill="none" stroke="#22c0c6" stroke-width="1.0"/>
<path d="M234.76 277.21L230.58 274.79L230.58 279.63Z" fill="none" stroke="#22c0c6" stroke-width="1.0"/>
<path d="M235.59 276.82L231.42 274.4L231.42 279.24Z" fill="none" stroke="#22c0c6" stroke-width="1.0"/>
<path d="M236.43 278.06L232.25 275.64L232.25 280.48Z" fill="none" stroke="#22c0c6" stroke-width="1.0"/>
<path d="M237.26 277.07L233.08 274.65L233.08 279.49Z" fill="none" stroke="#22c0c6" stroke-width="1.0"/>
<path d="M238.09 276.34L233.91 273.92L233.91 278.76Z" fill="none" stroke="#22c0c6" stroke-width="1.0"/>
<path d="M238.92 277.05L234.75 274.63L234.75 279.47Z" fill="none" stroke="#22c0c6" stroke-width="1.0"/>
<path d="M239.76 276.66L235.58 274.24L235.58 279.08Z" fill="none" stroke="#22c0c6" stroke-width="1.0"/>
<path d="M240.59 280.13L236.41 277.71L236.41 282.55Z" fill="none" stroke="#22c0c6" stroke-width="1.0"/>
<path d="M241.42 279.5L237.24 277.08L237.24 281.92Z" fill="none" stroke="#22c0c6" stroke-width="1.0"/>
<path d="M242.25 278.12L238.08 275.7L238.08 280.54Z" fill="none" stroke="#22c0c6" stroke-width="1.0"/>
<path d="M243.09 277.1L238.91 274.68L238.91 279.52Z" fill="none" stroke="#22c0c6" stroke-width="1.0"/>
<path d="M243.92 279.27L239.74 276.85L239.74 281.69Z" fill="none" stroke="#22c0c6" stroke-width="1.0"/>
<path d="M75 271.61L75.83 268.12L76.67 268.83L77.5 273.06L78.33 278.34L79.16 278.77L80 276.9L80.83 272L81.66 270.58L82.49 271.34L83.33 276.89L84.16 279.06L84.99 278.85L85.82 275.87L86.66 271.87L87.49 271.15L88.32 275.71L89.15 279.24L89.98 280.35L90.82 279.28L91.65 273.81L92.48 271.76L93.31 273.1L94.15 278.68L94.98 282.68L95.81 280.65L96.64 276.94L97.48 274.08L98.31 274.54L99.14 277.72L99.97 281.09L100.81 283.6L101.64 279.73L102.47 276.38L103.31 274.97L104.14 275.61L104.97 280.7L105.8 282.78L106.64 282.47L107.47 279.69L108.3 275.69L109.13 275.19L109.97 278.36L110.8 282.36L111.63 286.19L112.46 283L113.3 278.14L114.13 276.43L114.96 277.38L115.79 282.85L116.62 284.32L117.46 284.7L118.29 281.86L119.12 276.79L119.95 277.15L120.79 280.75L121.62 284.38L122.45 286.8L123.28 284.22L124.12 278.39L124.95 276.37L125.78 279.6L126.62 282.1L127.45 287.21L128.28 286.02L129.11 280.88L129.94 277.74L130.78 278L131.61 281.15L132.44 285.41L133.28 287.63L134.11 283.15L134.94 281.06L135.77 277.78L136.61 278.62L137.44 283.72L138.27 285.67L139.1 286.92L139.94 281.39L140.77 277.79L141.6 277.84L142.43 280.64L143.26 285.96L144.1 286.66L144.93 284.32L145.76 280.67L146.59 278.35L147.43 279.4L148.26 284.38L149.09 288.45L149.93 286.43L150.76 283.79L151.59 279.51L152.42 278.38L153.25 283.17L154.09 287.85L154.92 289.25L155.75 285.78L156.59 282.05L157.42 279.91L158.25 281.09L159.08 284.3L159.92 289.24L160.75 288.44L161.58 283.58L162.41 280.63L163.25 281.2L164.08 284.26L164.91 288.77L165.74 291.39L166.57 288.65L167.41 284.74L168.24 281.38L169.07 284.34L169.91 288.07L170.74 290.89L171.57 290.76L172.4 288.47L173.24 284.36L174.07 284.79L174.9 288.15L175.73 292.46L176.56 293.58L177.4 291.05L178.23 288.39L179.06 286.76L179.89 287.45L180.73 292.79L181.56 296.3L182.39 294.22L183.23 292.09L184.06 287L184.89 287.49L185.72 289.59L186.56 294.2L187.39 297.79L188.22 295.19L189.05 289.25L189.88 287.74L190.72 289.92L191.55 293.49L192.38 296.87L193.22 297.28L194.05 293.66L194.88 290.85L195.71 289.89L196.55 293.85L197.38 297.14L198.21 298.91L199.04 297.71L199.88 292.4L200.71 291.23L201.54 292.82L202.37 295.85L203.21 299.61L204.04 298.12L204.87 294.96L205.7 290.99L206.53 291.88L207.37 293.55L208.2 299.61L209.03 299.97L209.87 296.87L210.7 292.58L211.53 290.2L212.36 292.85L213.19 296.58L214.03 299.68L214.86 300.75L215.69 295.06L216.53 291.35L217.36 291.98L218.19 294.52L219.02 299.59L219.85 301.61L220.69 298.17L221.52 295.38L222.35 291.22L223.19 292.39L224.02 298.29L224.85 300.07L225.68 301.59L226.52 295.96L227.35 293.5L228.18 291.41L229.01 295.98L229.84 299.1L230.68 302.78L231.51 300.22L232.34 294.19L233.18 292.18L234.01 294.01L234.84 299.47L235.67 302.44L236.5 301.5L237.34 298.43L238.17 292.41L239 292.46L239.84 295.34L240.67 300.16L241.5 302.54" fill="none" stroke="#c070e6" stroke-width="0.6"/>
<path d="M75 268.62L77.99 271.61L75 274.6L72.01 271.61Z" fill="none" stroke="#c070e6" stroke-width="1.2"/>
<path d="M76.67 265.84L79.66 268.83L76.67 271.82L73.68 268.83Z" fill="none" stroke="#c070e6" stroke-width="1.2"/>
<path d="M78.33 275.35L81.32 278.34L78.33 281.33L75.34 278.34Z" fill="none" stroke="#c070e6" stroke-width="1.2"/>
<path d="M80 273.91L82.98 276.9L80 279.89L77.01 276.9Z" fill="none" stroke="#c070e6" stroke-width="1.2"/>
<path d="M81.66 267.59L84.65 270.58L81.66 273.57L78.67 270.58Z" fill="none" stroke="#c070e6" stroke-width="1.2"/>
<path d="M83.33 273.9L86.31 276.89L83.33 279.88L80.34 276.89Z" fill="none" stroke="#c070e6" stroke-width="1.2"/>
<path d="M84.99 275.86L87.98 278.85L84.99 281.84L82 278.85Z" fill="none" stroke="#c070e6" stroke-width="1.2"/>
<path d="M86.66 268.88L89.64 271.87L86.66 274.86L83.67 271.87Z" fill="none" stroke="#c070e6" stroke-width="1.2"/>
<path d="M88.32 272.72L91.31 275.71L88.32 278.7L85.33 275.71Z" fill="none" stroke="#c070e6" stroke-width="1.2"/>
<path d="M89.98 277.36L92.97 280.35L89.98 283.34L87 280.35Z" fill="none" stroke="#c070e6" stroke-width="1.2"/>
<path d="M91.65 270.82L94.64 273.81L91.65 276.8L88.66 273.81Z" fill="none" stroke="#c070e6" stroke-width="1.2"/>
<path d="M93.31 270.11L96.3 273.1L93.31 276.09L90.33 273.1Z" fill="none" stroke="#c070e6" stroke-width="1.2"/>
<path d="M94.98 279.69L97.97 282.68L94.98 285.67L91.99 282.68Z" fill="none" stroke="#c070e6" stroke-width="1.2"/>
<path d="M96.64 273.95L99.63 276.94L96.64 279.93L93.66 276.94Z" fill="none" stroke="#c070e6" stroke-width="1.2"/>
<path d="M98.31 271.55L101.3 274.54L98.31 277.53L95.32 274.54Z" fill="none" stroke="#c070e6" stroke-width="1.2"/>
<path d="M99.97 278.1L102.96 281.09L99.97 284.08L96.98 281.09Z" fill="none" stroke="#c070e6" stroke-width="1.2"/>
<path d="M101.64 276.74L104.63 279.73L101.64 282.72L98.65 279.73Z" fill="none" stroke="#c070e6" stroke-width="1.2"/>
<path d="M103.31 271.98L106.3 274.97L103.31 277.96L100.32 274.97Z" fill="none" stroke="#c070e6" stroke-width="1.2"/>
<path d="M104.97 277.71L107.96 280.7L104.97 283.69L101.98 280.7Z" fill="none" stroke="#c070e6" stroke-width="1.2"/>
<path d="M106.64 279.48L109.62 282.47L106.64 285.46L103.65 282.47Z" fill="none" stroke="#c070e6" stroke-width="1.2"/>
<path d="M108.3 272.7L111.29 275.69L108.3 278.68L105.31 275.69Z" fill="none" stroke="#c070e6" stroke-width="1.2"/>
<path d="M109.97 275.37L112.95 278.36L109.97 281.35L106.98 278.36Z" fill="none" stroke="#c070e6" stroke-width="1.2"/>
<path d="M111.63 283.2L114.62 286.19L111.63 289.18L108.64 286.19Z" fill="none" stroke="#c070e6" stroke-width="1.2"/>
<path d="M113.3 275.15L116.28 278.14L113.3 281.13L110.31 278.14Z" fill="none" stroke="#c070e6" stroke-width="1.2"/>
<path d="M114.96 274.39L117.95 277.38L114.96 280.37L111.97 277.38Z" fill="none" stroke="#c070e6" stroke-width="1.2"/>
<path d="M116.62 281.33L119.61 284.32L116.62 287.31L113.64 284.32Z" fill="none" stroke="#c070e6" stroke-width="1.2"/>
<path d="M118.29 278.87L121.28 281.86L118.29 284.85L115.3 281.86Z" fill="none" stroke="#c070e6" stroke-width="1.2"/>
<path d="M119.95 274.16L122.94 277.15L119.95 280.14L116.97 277.15Z" fill="none" stroke="#c070e6" stroke-width="1.2"/>
<path d="M121.62 281.39L124.61 284.38L121.62 287.37L118.63 284.38Z" fill="none" stroke="#c070e6" stroke-width="1.2"/>
<path d="M123.28 281.23L126.27 284.22L123.28 287.21L120.3 284.22Z" fill="none" stroke="#c070e6" stroke-width="1.2"/>
<path d="M124.95 273.38L127.94 276.37L124.95 279.36L121.96 276.37Z" fill="none" stroke="#c070e6" stroke-width="1.2"/>
<path d="M126.62 279.11L129.61 282.1L126.62 285.09L123.63 282.1Z" fill="none" stroke="#c070e6" stroke-width="1.2"/>
<path d="M128.28 283.03L131.27 286.02L128.28 289.01L125.29 286.02Z" fill="none" stroke="#c070e6" stroke-width="1.2"/>
<path d="M129.94 274.75L132.94 277.74L129.94 280.73L126.95 277.74Z" fill="none" stroke="#c070e6" stroke-width="1.2"/>
<path d="M131.61 278.16L134.6 281.15L131.61 284.14L128.62 281.15Z" fill="none" stroke="#c070e6" stroke-width="1.2"/>
<path d="M133.28 284.64L136.27 287.63L133.28 290.62L130.28 287.63Z" fill="none" stroke="#c070e6" stroke-width="1.2"/>
<path d="M134.94 278.07L137.93 281.06L134.94 284.05L131.95 281.06Z" fill="none" stroke="#c070e6" stroke-width="1.2"/>
<path d="M136.61 275.63L139.6 278.62L136.61 281.61L133.62 278.62Z" fill="none" stroke="#c070e6" stroke-width="1.2"/>
<path d="M138.27 282.68L141.26 285.67L138.27 288.66L135.28 285.67Z" fill="none" stroke="#c070e6" stroke-width="1.2"/>
<path d="M139.94 278.4L142.93 281.39L139.94 284.38L136.94 281.39Z" fill="none" stroke="#c070e6" stroke-width="1.2"/>
<path d="M141.6 274.85L144.59 277.84L141.6 280.83L138.61 277.84Z" fill="none" stroke="#c070e6" stroke-width="1.2"/>
<path d="M143.26 282.97L146.25 285.96L143.26 288.95L140.27 285.96Z" fill="none" stroke="#c070e6" stroke-width="1.2"/>
<path d="M144.93 281.33L147.92 284.32L144.93 287.31L141.94 284.32Z" fill="none" stroke="#c070e6" stroke-width="1.2"/>
<path d="M146.59 275.36L149.59 278.35L146.59 281.34L143.6 278.35Z" fill="none" stroke="#c070e6" stroke-width="1.2"/>
<path d="M148.26 281.39L151.25 284.38L148.26 287.37L145.27 284.38Z" fill="none" stroke="#c070e6" stroke-width="1.2"/>
<path d="M149.93 283.44L152.92 286.43L149.93 289.42L146.94 286.43Z" fill="none" stroke="#c070e6" stroke-width="1.2"/>
<path d="M151.59 276.52L154.58 279.51L151.59 282.5L148.6 279.51Z" fill="none" stroke="#c070e6" stroke-width="1.2"/>
<path d="M153.25 280.18L156.25 283.17L153.25 286.16L150.26 283.17Z" fill="none" stroke="#c070e6" stroke-width="1.2"/>
<path d="M154.92 286.26L157.91 289.25L154.92 292.24L151.93 289.25Z" fill="none" stroke="#c070e6" stroke-width="1.2"/>
<path d="M156.59 279.06L159.58 282.05L156.59 285.04L153.59 282.05Z" fill="none" stroke="#c070e6" stroke-width="1.2"/>
<path d="M158.25 278.1L161.24 281.09L158.25 284.08L155.26 281.09Z" fill="none" stroke="#c070e6" stroke-width="1.2"/>
<path d="M159.92 286.25L162.91 289.24L159.92 292.23L156.93 289.24Z" fill="none" stroke="#c070e6" stroke-width="1.2"/>
<path d="M161.58 280.59L164.57 283.58L161.58 286.57L158.59 283.58Z" fill="none" stroke="#c070e6" stroke-width="1.2"/>
<path d="M163.25 278.21L166.24 281.2L163.25 284.19L160.25 281.2Z" fill="none" stroke="#c070e6" stroke-width="1.2"/>
<path d="M164.91 285.78L167.9 288.77L164.91 291.76L161.92 288.77Z" fill="none" stroke="#c070e6" stroke-width="1.2"/>
<path d="M166.57 285.66L169.56 288.65L166.57 291.64L163.58 288.65Z" fill="none" stroke="#c070e6" stroke-width="1.2"/>
<path d="M168.24 278.39L171.23 281.38L168.24 284.37L165.25 281.38Z" fill="none" stroke="#c070e6" stroke-width="1.2"/>
<path d="M169.91 285.08L172.9 288.07L169.91 291.06L166.91 288.07Z" fill="none" stroke="#c070e6" stroke-width="1.2"/>
<path d="M171.57 287.77L174.56 290.76L171.57 293.75L168.58 290.76Z" fill="none" stroke="#c070e6" stroke-width="1.2"/>
<path d="M173.24 281.37L176.23 284.36L173.24 287.35L170.25 284.36Z" fill="none" stroke="#c070e6" stroke-width="1.2"/>
<path d="M174.9 285.16L177.89 288.15L174.9 291.14L171.91 288.15Z" fill="none" stroke="#c070e6" stroke-width="1.2"/>
<path d="M176.56 290.59L179.56 293.58L176.56 296.57L173.57 293.58Z" fill="none" stroke="#c070e6" stroke-width="1.2"/>
<path d="M178.23 285.4L181.22 288.39L178.23 291.38L175.24 288.39Z" fill="none" stroke="#c070e6" stroke-width="1.2"/>
<path d="M179.89 284.46L182.88 287.45L179.89 290.44L176.9 287.45Z" fill="none" stroke="#c070e6" stroke-width="1.2"/>
<path d="M181.56 293.31L184.55 296.3L181.56 299.29L178.57 296.3Z" fill="none" stroke="#c070e6" stroke-width="1.2"/>
<path d="M183.23 289.1L186.22 292.09L183.23 295.08L180.24 292.09Z" fill="none" stroke="#c070e6" stroke-width="1.2"/>
<path d="M184.89 284.5L187.88 287.49L184.89 290.48L181.9 287.49Z" fill="none" stroke="#c070e6" stroke-width="1.2"/>
<path d="M186.56 291.21L189.55 294.2L186.56 297.19L183.56 294.2Z" fill="none" stroke="#c070e6" stroke-width="1.2"/>
<path d="M188.22 292.2L191.21 295.19L188.22 298.18L185.23 295.19Z" fill="none" stroke="#c070e6" stroke-width="1.2"/>
<path d="M189.88 284.75L192.88 287.74L189.88 290.73L186.89 287.74Z" fill="none" stroke="#c070e6" stroke-width="1.2"/>
<path d="M191.55 290.5L194.54 293.49L191.55 296.48L188.56 293.49Z" fill="none" stroke="#c070e6" stroke-width="1.2"/>
<path d="M193.22 294.29L196.21 297.28L193.22 300.27L190.22 297.28Z" fill="none" stroke="#c070e6" stroke-width="1.2"/>
<path d="M194.88 287.86L197.87 290.85L194.88 293.84L191.89 290.85Z" fill="none" stroke="#c070e6" stroke-width="1.2"/>
<path d="M196.55 290.86L199.54 293.85L196.55 296.84L193.56 293.85Z" fill="none" stroke="#c070e6" stroke-width="1.2"/>
<path d="M198.21 295.92L201.2 298.91L198.21 301.9L195.22 298.91Z" fill="none" stroke="#c070e6" stroke-width="1.2"/>
<path d="M199.88 289.41L202.87 292.4L199.88 295.39L196.88 292.4Z" fill="none" stroke="#c070e6" stroke-width="1.2"/>
<path d="M201.54 289.83L204.53 292.82L201.54 295.81L198.55 292.82Z" fill="none" stroke="#c070e6" stroke-width="1.2"/>
<path d="M203.21 296.62L206.2 299.61L203.21 302.6L200.22 299.61Z" fill="none" stroke="#c070e6" stroke-width="1.2"/>
<path d="M204.87 291.97L207.86 294.96L204.87 297.95L201.88 294.96Z" fill="none" stroke="#c070e6" stroke-width="1.2"/>
<path d="M206.53 288.89L209.53 291.88L206.53 294.87L203.54 291.88Z" fill="none" stroke="#c070e6" stroke-width="1.2"/>
<path d="M208.2 296.62L211.19 299.61L208.2 302.6L205.21 299.61Z" fill="none" stroke="#c070e6" stroke-width="1.2"/>
<path d="M209.87 293.88L212.86 296.87L209.87 299.86L206.88 296.87Z" fill="none" stroke="#c070e6" stroke-width="1.2"/>
<path d="M211.53 287.21L214.52 290.2L211.53 293.19L208.54 290.2Z" fill="none" stroke="#c070e6" stroke-width="1.2"/>
<path d="M213.19 293.59L216.19 296.58L213.19 299.57L210.2 296.58Z" fill="none" stroke="#c070e6" stroke-width="1.2"/>
<path d="M214.86 297.76L217.85 300.75L214.86 303.74L211.87 300.75Z" fill="none" stroke="#c070e6" stroke-width="1.2"/>
<path d="M216.53 288.36L219.52 291.35L216.53 294.34L213.53 291.35Z" fill="none" stroke="#c070e6" stroke-width="1.2"/>
<path d="M218.19 291.53L221.18 294.52L218.19 297.51L215.2 294.52Z" fill="none" stroke="#c070e6" stroke-width="1.2"/>
<path d="M219.85 298.62L222.84 301.61L219.85 304.6L216.86 301.61Z" fill="none" stroke="#c070e6" stroke-width="1.2"/>
<path d="M221.52 292.39L224.51 295.38L221.52 298.37L218.53 295.38Z" fill="none" stroke="#c070e6" stroke-width="1.2"/>
<path d="M223.19 289.4L226.18 292.39L223.19 295.38L220.19 292.39Z" fill="none" stroke="#c070e6" stroke-width="1.2"/>
<path d="M224.85 297.08L227.84 300.07L224.85 303.06L221.86 300.07Z" fill="none" stroke="#c070e6" stroke-width="1.2"/>
<path d="M226.52 292.97L229.51 295.96L226.52 298.95L223.53 295.96Z" fill="none" stroke="#c070e6" stroke-width="1.2"/>
<path d="M228.18 288.42L231.17 291.41L228.18 294.4L225.19 291.41Z" fill="none" stroke="#c070e6" stroke-width="1.2"/>
<path d="M229.84 296.11L232.84 299.1L229.84 302.09L226.85 299.1Z" fill="none" stroke="#c070e6" stroke-width="1.2"/>
<path d="M231.51 297.23L234.5 300.22L231.51 303.21L228.52 300.22Z" fill="none" stroke="#c070e6" stroke-width="1.2"/>
<path d="M233.18 289.19L236.17 292.18L233.18 295.17L230.19 292.18Z" fill="none" stroke="#c070e6" stroke-width="1.2"/>
<path d="M234.84 296.48L237.83 299.47L234.84 302.46L231.85 299.47Z" fill="none" stroke="#c070e6" stroke-width="1.2"/>
<path d="M236.5 298.51L239.5 301.5L236.5 304.49L233.51 301.5Z" fill="none" stroke="#c070e6" stroke-width="1.2"/>
<path d="M238.17 289.42L241.16 292.41L238.17 295.4L235.18 292.41Z" fill="none" stroke="#c070e6" stroke-width="1.2"/>
<path d="M239.84 292.35L242.83 295.34L239.84 298.33L236.84 295.34Z" fill="none" stroke="#c070e6" stroke-width="1.2"/>
<path d="M241.5 299.55L244.49 302.54L241.5 305.53L238.51 302.54Z" fill="none" stroke="#c070e6" stroke-width="1.2"/>
<path d="M75 285.29L76.67 286.5L78.33 286.22L80 288.78L81.66 289.52L83.33 291.65L84.99 296.43L86.66 299.55L88.32 304.84L89.98 307.89L91.65 312.13L93.31 317.42L94.15 325.97L94.98 325.47L95.81 327.39L96.64 327.55L97.48 327.04L98.31 326.71L99.14 327.9L99.97 328.67L100.81 328.01L101.64 330.66L102.47 329.49L103.31 331.35L104.14 332.27L104.97 332.94L105.8 333.07L106.64 332.44L107.47 334.33L108.3 333.94L109.13 334.3L109.97 335.37L110.8 335.48L111.63 337.04L112.46 337.55L113.3 337.72L114.13 337.18L114.96 338.23L115.79 338.88L116.62 338.63L117.46 339.26L118.29 339.94L119.12 339.2L119.95 339.75L120.79 340.89L121.62 340.16L122.45 340.27L123.28 339.5L124.12 339.82L124.95 340.79L125.78 339.06L126.62 340.61L127.45 339.61L128.28 338.53L129.11 339.51L129.94 338.43L130.78 338.43L131.61 335.62L132.44 333.98L133.28 332.98L134.11 331.7L134.94 332.33L135.77 330.88L136.61 330.49L137.44 329.97L138.27 329.93L139.1 328.78L139.94 328.25L140.77 328.97L141.6 328.25L142.43 329.27L143.26 327.94L144.1 328.14L144.93 327.46L145.76 327.92L146.59 329.18L147.43 329.04L148.26 328.5L149.09 330L149.93 329.12L150.76 329.73L151.59 329.82L152.42 329.92L153.25 328.33L154.09 329.7L154.92 329.41L155.75 329.07L156.59 327.98L157.42 329.69L158.25 328.85L159.08 328.61L159.92 327.85L160.75 327.96L161.58 327.84L162.41 329.1L163.25 328.77L164.08 328.87L164.91 327.69L165.74 327.5L166.57 329.25L167.41 329.17L168.24 329.02L169.07 328.99L169.91 328.41L170.74 328.16L171.57 328.85L172.4 329.39L173.24 328.72L174.07 329.07L174.9 328.87L175.73 328.26L176.56 329.07L177.4 329.7L178.23 329.71L179.06 329.82L179.89 331.65L180.73 330.24L181.56 330.97L182.39 331.22L183.23 331.84L184.06 333.19L184.89 333.64L185.72 334.74L186.56 333.82L187.39 335.32L188.22 335.56L189.05 335.49L189.88 335.84L190.72 335.69L191.55 336.57L192.38 336.93L193.22 336.84L194.05 337.19L194.88 336.86L195.71 337.85L196.55 336.23L197.38 337.04L198.21 338.31L199.04 338.33L199.88 338.36L200.71 338.57L201.54 339.41L202.37 338.13L203.21 338.13L204.04 339.6L204.87 339.88L205.7 341.07L206.53 341.34L207.37 341.13L208.2 341.61L209.03 340.69L209.87 342.47L210.7 343.09L211.53 341.36L212.36 342.61L213.19 343.76L214.03 343.2L214.86 344.65L215.69 343.86L216.53 343.19L217.36 343.75L218.19 344.44L219.02 345.71L219.85 345.79L220.69 346.54L221.52 345.53L222.35 346.37L223.19 346.14L224.02 347.44L224.85 347.85L225.68 346.73L226.52 346.52L227.35 346.98L228.18 347.26L229.01 347.4L229.84 347.75L230.68 349.05L231.51 348.58L232.34 349.11L233.18 350L234.01 350.17L234.84 349.79L235.67 350.01L236.5 349.23L237.34 348.82L238.17 350.11L239 349.95L239.84 350.76L240.67 351.75L241.5 353.96" fill="none" stroke="#e4a01a" stroke-width="1.0"/>
<path d="M72.25 285.29L77 282.54L77 288.04Z" fill="none" stroke="#e4a01a" stroke-width="1.0"/>
<path d="M73.92 286.5L78.67 283.75L78.67 289.25Z" fill="none" stroke="#e4a01a" stroke-width="1.0"/>
<path d="M75.58 286.22L80.33 283.47L80.33 288.97Z" fill="none" stroke="#e4a01a" stroke-width="1.0"/>
<path d="M77.25 288.78L82 286.03L82 291.53Z" fill="none" stroke="#e4a01a" stroke-width="1.0"/>
<path d="M78.91 289.52L83.66 286.77L83.66 292.27Z" fill="none" stroke="#e4a01a" stroke-width="1.0"/>
<path d="M80.58 291.65L85.33 288.9L85.33 294.4Z" fill="none" stroke="#e4a01a" stroke-width="1.0"/>
<path d="M82.24 296.43L86.99 293.68L86.99 299.18Z" fill="none" stroke="#e4a01a" stroke-width="1.0"/>
<path d="M83.91 299.55L88.66 296.8L88.66 302.3Z" fill="none" stroke="#e4a01a" stroke-width="1.0"/>
<path d="M85.57 304.84L90.32 302.09L90.32 307.59Z" fill="none" stroke="#e4a01a" stroke-width="1.0"/>
<path d="M87.23 307.89L91.98 305.14L91.98 310.64Z" fill="none" stroke="#e4a01a" stroke-width="1.0"/>
<path d="M88.9 312.13L93.65 309.38L93.65 314.88Z" fill="none" stroke="#e4a01a" stroke-width="1.0"/>
<path d="M90.56 317.42L95.31 314.67L95.31 320.17Z" fill="none" stroke="#e4a01a" stroke-width="1.0"/>
<path d="M91.4 325.97L96.15 323.22L96.15 328.72Z" fill="none" stroke="#e4a01a" stroke-width="1.0"/>
<path d="M92.23 325.47L96.98 322.72L96.98 328.22Z" fill="none" stroke="#e4a01a" stroke-width="1.0"/>
<path d="M93.06 327.39L97.81 324.64L97.81 330.14Z" fill="none" stroke="#e4a01a" stroke-width="1.0"/>
<path d="M93.89 327.55L98.64 324.8L98.64 330.3Z" fill="none" stroke="#e4a01a" stroke-width="1.0"/>
<path d="M94.73 327.04L99.48 324.29L99.48 329.79Z" fill="none" stroke="#e4a01a" stroke-width="1.0"/>
<path d="M95.56 326.71L100.31 323.96L100.31 329.46Z" fill="none" stroke="#e4a01a" stroke-width="1.0"/>
<path d="M96.39 327.9L101.14 325.15L101.14 330.65Z" fill="none" stroke="#e4a01a" stroke-width="1.0"/>
<path d="M97.22 328.67L101.97 325.92L101.97 331.42Z" fill="none" stroke="#e4a01a" stroke-width="1.0"/>
<path d="M98.06 328.01L102.81 325.26L102.81 330.76Z" fill="none" stroke="#e4a01a" stroke-width="1.0"/>
<path d="M98.89 330.66L103.64 327.91L103.64 333.41Z" fill="none" stroke="#e4a01a" stroke-width="1.0"/>
<path d="M99.72 329.49L104.47 326.74L104.47 332.24Z" fill="none" stroke="#e4a01a" stroke-width="1.0"/>
<path d="M100.56 331.35L105.31 328.6L105.31 334.1Z" fill="none" stroke="#e4a01a" stroke-width="1.0"/>
<path d="M101.39 332.27L106.14 329.52L106.14 335.02Z" fill="none" stroke="#e4a01a" stroke-width="1.0"/>
<path d="M102.22 332.94L106.97 330.19L106.97 335.69Z" fill="none" stroke="#e4a01a" stroke-width="1.0"/>
<path d="M103.05 333.07L107.8 330.32L107.8 335.82Z" fill="none" stroke="#e4a01a" stroke-width="1.0"/>
<path d="M103.89 332.44L108.64 329.69L108.64 335.19Z" fill="none" stroke="#e4a01a" stroke-width="1.0"/>
<path d="M104.72 334.33L109.47 331.58L109.47 337.08Z" fill="none" stroke="#e4a01a" stroke-width="1.0"/>
<path d="M105.55 333.94L110.3 331.19L110.3 336.69Z" fill="none" stroke="#e4a01a" stroke-width="1.0"/>
<path d="M106.38 334.3L111.13 331.55L111.13 337.05Z" fill="none" stroke="#e4a01a" stroke-width="1.0"/>
<path d="M107.22 335.37L111.97 332.62L111.97 338.12Z" fill="none" stroke="#e4a01a" stroke-width="1.0"/>
<path d="M108.05 335.48L112.8 332.73L112.8 338.23Z" fill="none" stroke="#e4a01a" stroke-width="1.0"/>
<path d="M108.88 337.04L113.63 334.29L113.63 339.79Z" fill="none" stroke="#e4a01a" stroke-width="1.0"/>
<path d="M109.71 337.55L114.46 334.8L114.46 340.3Z" fill="none" stroke="#e4a01a" stroke-width="1.0"/>
<path d="M110.55 337.72L115.3 334.97L115.3 340.47Z" fill="none" stroke="#e4a01a" stroke-width="1.0"/>
<path d="M111.38 337.18L116.13 334.43L116.13 339.93Z" fill="none" stroke="#e4a01a" stroke-width="1.0"/>
<path d="M112.21 338.23L116.96 335.48L116.96 340.98Z" fill="none" stroke="#e4a01a" stroke-width="1.0"/>
<path d="M113.04 338.88L117.79 336.13L117.79 341.63Z" fill="none" stroke="#e4a01a" stroke-width="1.0"/>
<path d="M113.88 338.63L118.62 335.88L118.62 341.38Z" fill="none" stroke="#e4a01a" stroke-width="1.0"/>
<path d="M114.71 339.26L119.46 336.51L119.46 342.01Z" fill="none" stroke="#e4a01a" stroke-width="1.0"/>
<path d="M115.54 339.94L120.29 337.19L120.29 342.69Z" fill="none" stroke="#e4a01a" stroke-width="1.0"/>
<path d="M116.37 339.2L121.12 336.45L121.12 341.95Z" fill="none" stroke="#e4a01a" stroke-width="1.0"/>
<path d="M117.2 339.75L121.95 337L121.95 342.5Z" fill="none" stroke="#e4a01a" stroke-width="1.0"/>
<path d="M118.04 340.89L122.79 338.14L122.79 343.64Z" fill="none" stroke="#e4a01a" stroke-width="1.0"/>
<path d="M118.87 340.16L123.62 337.41L123.62 342.91Z" fill="none" stroke="#e4a01a" stroke-width="1.0"/>
<path d="M119.7 340.27L124.45 337.52L124.45 343.02Z" fill="none" stroke="#e4a01a" stroke-width="1.0"/>
<path d="M120.53 339.5L125.28 336.75L125.28 342.25Z" fill="none" stroke="#e4a01a" stroke-width="1.0"/>
<path d="M121.37 339.82L126.12 337.07L126.12 342.57Z" fill="none" stroke="#e4a01a" stroke-width="1.0"/>
<path d="M122.2 340.79L126.95 338.04L126.95 343.54Z" fill="none" stroke="#e4a01a" stroke-width="1.0"/>
<path d="M123.03 339.06L127.78 336.31L127.78 341.81Z" fill="none" stroke="#e4a01a" stroke-width="1.0"/>
<path d="M123.87 340.61L128.62 337.86L128.62 343.36Z" fill="none" stroke="#e4a01a" stroke-width="1.0"/>
<path d="M124.7 339.61L129.45 336.86L129.45 342.36Z" fill="none" stroke="#e4a01a" stroke-width="1.0"/>
<path d="M125.53 338.53L130.28 335.78L130.28 341.28Z" fill="none" stroke="#e4a01a" stroke-width="1.0"/>
<path d="M126.36 339.51L131.11 336.76L131.11 342.26Z" fill="none" stroke="#e4a01a" stroke-width="1.0"/>
<path d="M127.19 338.43L131.94 335.68L131.94 341.18Z" fill="none" stroke="#e4a01a" stroke-width="1.0"/>
<path d="M128.03 338.43L132.78 335.68L132.78 341.18Z" fill="none" stroke="#e4a01a" stroke-width="1.0"/>
<path d="M128.86 335.62L133.61 332.87L133.61 338.37Z" fill="none" stroke="#e4a01a" stroke-width="1.0"/>
<path d="M129.69 333.98L134.44 331.23L134.44 336.73Z" fill="none" stroke="#e4a01a" stroke-width="1.0"/>
<path d="M130.53 332.98L135.28 330.23L135.28 335.73Z" fill="none" stroke="#e4a01a" stroke-width="1.0"/>
<path d="M131.36 331.7L136.11 328.95L136.11 334.45Z" fill="none" stroke="#e4a01a" stroke-width="1.0"/>
<path d="M132.19 332.33L136.94 329.58L136.94 335.08Z" fill="none" stroke="#e4a01a" stroke-width="1.0"/>
<path d="M133.02 330.88L137.77 328.13L137.77 333.63Z" fill="none" stroke="#e4a01a" stroke-width="1.0"/>
<path d="M133.86 330.49L138.61 327.74L138.61 333.24Z" fill="none" stroke="#e4a01a" stroke-width="1.0"/>
<path d="M134.69 329.97L139.44 327.22L139.44 332.72Z" fill="none" stroke="#e4a01a" stroke-width="1.0"/>
<path d="M135.52 329.93L140.27 327.18L140.27 332.68Z" fill="none" stroke="#e4a01a" stroke-width="1.0"/>
<path d="M136.35 328.78L141.1 326.03L141.1 331.53Z" fill="none" stroke="#e4a01a" stroke-width="1.0"/>
<path d="M137.19 328.25L141.94 325.5L141.94 331Z" fill="none" stroke="#e4a01a" stroke-width="1.0"/>
<path d="M138.02 328.97L142.77 326.22L142.77 331.72Z" fill="none" stroke="#e4a01a" stroke-width="1.0"/>
<path d="M138.85 328.25L143.6 325.5L143.6 331Z" fill="none" stroke="#e4a01a" stroke-width="1.0"/>
<path d="M139.68 329.27L144.43 326.52L144.43 332.02Z" fill="none" stroke="#e4a01a" stroke-width="1.0"/>
<path d="M140.51 327.94L145.26 325.19L145.26 330.69Z" fill="none" stroke="#e4a01a" stroke-width="1.0"/>
<path d="M141.35 328.14L146.1 325.39L146.1 330.89Z" fill="none" stroke="#e4a01a" stroke-width="1.0"/>
<path d="M142.18 327.46L146.93 324.71L146.93 330.21Z" fill="none" stroke="#e4a01a" stroke-width="1.0"/>
<path d="M143.01 327.92L147.76 325.17L147.76 330.67Z" fill="none" stroke="#e4a01a" stroke-width="1.0"/>
<path d="M143.84 329.18L148.59 326.43L148.59 331.93Z" fill="none" stroke="#e4a01a" stroke-width="1.0"/>
<path d="M144.68 329.04L149.43 326.29L149.43 331.79Z" fill="none" stroke="#e4a01a" stroke-width="1.0"/>
<path d="M145.51 328.5L150.26 325.75L150.26 331.25Z" fill="none" stroke="#e4a01a" stroke-width="1.0"/>
<path d="M146.34 330L151.09 327.25L151.09 332.75Z" fill="none" stroke="#e4a01a" stroke-width="1.0"/>
<path d="M147.18 329.12L151.93 326.37L151.93 331.87Z" fill="none" stroke="#e4a01a" stroke-width="1.0"/>
<path d="M148.01 329.73L152.76 326.98L152.76 332.48Z" fill="none" stroke="#e4a01a" stroke-width="1.0"/>
<path d="M148.84 329.82L153.59 327.07L153.59 332.57Z" fill="none" stroke="#e4a01a" stroke-width="1.0"/>
<path d="M149.67 329.92L154.42 327.17L154.42 332.67Z" fill="none" stroke="#e4a01a" stroke-width="1.0"/>
<path d="M150.5 328.33L155.25 325.58L155.25 331.08Z" fill="none" stroke="#e4a01a" stroke-width="1.0"/>
<path d="M151.34 329.7L156.09 326.95L156.09 332.45Z" fill="none" stroke="#e4a01a" stroke-width="1.0"/>
<path d="M152.17 329.41L156.92 326.66L156.92 332.16Z" fill="none" stroke="#e4a01a" stroke-width="1.0"/>
<path d="M153 329.07L157.75 326.32L157.75 331.82Z" fill="none" stroke="#e4a01a" stroke-width="1.0"/>
<path d="M153.84 327.98L158.59 325.23L158.59 330.73Z" fill="none" stroke="#e4a01a" stroke-width="1.0"/>
<path d="M154.67 329.69L159.42 326.94L159.42 332.44Z" fill="none" stroke="#e4a01a" stroke-width="1.0"/>
<path d="M155.5 328.85L160.25 326.1L160.25 331.6Z" fill="none" stroke="#e4a01a" stroke-width="1.0"/>
<path d="M156.33 328.61L161.08 325.86L161.08 331.36Z" fill="none" stroke="#e4a01a" stroke-width="1.0"/>
<path d="M157.17 327.85L161.92 325.1L161.92 330.6Z" fill="none" stroke="#e4a01a" stroke-width="1.0"/>
<path d="M158 327.96L162.75 325.21L162.75 330.71Z" fill="none" stroke="#e4a01a" stroke-width="1.0"/>
<path d="M158.83 327.84L163.58 325.09L163.58 330.59Z" fill="none" stroke="#e4a01a" stroke-width="1.0"/>
<path d="M159.66 329.1L164.41 326.35L164.41 331.85Z" fill="none" stroke="#e4a01a" stroke-width="1.0"/>
<path d="M160.5 328.77L165.25 326.02L165.25 331.52Z" fill="none" stroke="#e4a01a" stroke-width="1.0"/>
<path d="M161.33 328.87L166.08 326.12L166.08 331.62Z" fill="none" stroke="#e4a01a" stroke-width="1.0"/>
<path d="M162.16 327.69L166.91 324.94L166.91 330.44Z" fill="none" stroke="#e4a01a" stroke-width="1.0"/>
<path d="M162.99 327.5L167.74 324.75L167.74 330.25Z" fill="none" stroke="#e4a01a" stroke-width="1.0"/>
<path d="M163.82 329.25L168.57 326.5L168.57 332Z" fill="none" stroke="#e4a01a" stroke-width="1.0"/>
<path d="M164.66 329.17L169.41 326.42L169.41 331.92Z" fill="none" stroke="#e4a01a" stroke-width="1.0"/>
<path d="M165.49 329.02L170.24 326.27L170.24 331.77Z" fill="none" stroke="#e4a01a" stroke-width="1.0"/>
<path d="M166.32 328.99L171.07 326.24L171.07 331.74Z" fill="none" stroke="#e4a01a" stroke-width="1.0"/>
<path d="M167.16 328.41L171.91 325.66L171.91 331.16Z" fill="none" stroke="#e4a01a" stroke-width="1.0"/>
<path d="M167.99 328.16L172.74 325.41L172.74 330.91Z" fill="none" stroke="#e4a01a" stroke-width="1.0"/>
<path d="M168.82 328.85L173.57 326.1L173.57 331.6Z" fill="none" stroke="#e4a01a" stroke-width="1.0"/>
<path d="M169.65 329.39L174.4 326.64L174.4 332.14Z" fill="none" stroke="#e4a01a" stroke-width="1.0"/>
<path d="M170.49 328.72L175.24 325.97L175.24 331.47Z" fill="none" stroke="#e4a01a" stroke-width="1.0"/>
<path d="M171.32 329.07L176.07 326.32L176.07 331.82Z" fill="none" stroke="#e4a01a" stroke-width="1.0"/>
<path d="M172.15 328.87L176.9 326.12L176.9 331.62Z" fill="none" stroke="#e4a01a" stroke-width="1.0"/>
<path d="M172.98 328.26L177.73 325.51L177.73 331.01Z" fill="none" stroke="#e4a01a" stroke-width="1.0"/>
<path d="M173.81 329.07L178.56 326.32L178.56 331.82Z" fill="none" stroke="#e4a01a" stroke-width="1.0"/>
<path d="M174.65 329.7L179.4 326.95L179.4 332.45Z" fill="none" stroke="#e4a01a" stroke-width="1.0"/>
<path d="M175.48 329.71L180.23 326.96L180.23 332.46Z" fill="none" stroke="#e4a01a" stroke-width="1.0"/>
<path d="M176.31 329.82L181.06 327.07L181.06 332.57Z" fill="none" stroke="#e4a01a" stroke-width="1.0"/>
<path d="M177.14 331.65L181.89 328.9L181.89 334.4Z" fill="none" stroke="#e4a01a" stroke-width="1.0"/>
<path d="M177.98 330.24L182.73 327.49L182.73 332.99Z" fill="none" stroke="#e4a01a" stroke-width="1.0"/>
<path d="M178.81 330.97L183.56 328.22L183.56 333.72Z" fill="none" stroke="#e4a01a" stroke-width="1.0"/>
<path d="M179.64 331.22L184.39 328.47L184.39 333.97Z" fill="none" stroke="#e4a01a" stroke-width="1.0"/>
<path d="M180.48 331.84L185.23 329.09L185.23 334.59Z" fill="none" stroke="#e4a01a" stroke-width="1.0"/>
<path d="M181.31 333.19L186.06 330.44L186.06 335.94Z" fill="none" stroke="#e4a01a" stroke-width="1.0"/>
<path d="M182.14 333.64L186.89 330.89L186.89 336.39Z" fill="none" stroke="#e4a01a" stroke-width="1.0"/>
<path d="M182.97 334.74L187.72 331.99L187.72 337.49Z" fill="none" stroke="#e4a01a" stroke-width="1.0"/>
<path d="M183.81 333.82L188.56 331.07L188.56 336.57Z" fill="none" stroke="#e4a01a" stroke-width="1.0"/>
<path d="M184.64 335.32L189.39 332.57L189.39 338.07Z" fill="none" stroke="#e4a01a" stroke-width="1.0"/>
<path d="M185.47 335.56L190.22 332.81L190.22 338.31Z" fill="none" stroke="#e4a01a" stroke-width="1.0"/>
<path d="M186.3 335.49L191.05 332.74L191.05 338.24Z" fill="none" stroke="#e4a01a" stroke-width="1.0"/>
<path d="M187.13 335.84L191.88 333.09L191.88 338.59Z" fill="none" stroke="#e4a01a" stroke-width="1.0"/>
<path d="M187.97 335.69L192.72 332.94L192.72 338.44Z" fill="none" stroke="#e4a01a" stroke-width="1.0"/>
<path d="M188.8 336.57L193.55 333.82L193.55 339.32Z" fill="none" stroke="#e4a01a" stroke-width="1.0"/>
<path d="M189.63 336.93L194.38 334.18L194.38 339.68Z" fill="none" stroke="#e4a01a" stroke-width="1.0"/>
<path d="M190.47 336.84L195.22 334.09L195.22 339.59Z" fill="none" stroke="#e4a01a" stroke-width="1.0"/>
<path d="M191.3 337.19L196.05 334.44L196.05 339.94Z" fill="none" stroke="#e4a01a" stroke-width="1.0"/>
<path d="M192.13 336.86L196.88 334.11L196.88 339.61Z" fill="none" stroke="#e4a01a" stroke-width="1.0"/>
<path d="M192.96 337.85L197.71 335.1L197.71 340.6Z" fill="none" stroke="#e4a01a" stroke-width="1.0"/>
<path d="M193.8 336.23L198.55 333.48L198.55 338.98Z" fill="none" stroke="#e4a01a" stroke-width="1.0"/>
<path d="M194.63 337.04L199.38 334.29L199.38 339.79Z" fill="none" stroke="#e4a01a" stroke-width="1.0"/>
<path d="M195.46 338.31L200.21 335.56L200.21 341.06Z" fill="none" stroke="#e4a01a" stroke-width="1.0"/>
<path d="M196.29 338.33L201.04 335.58L201.04 341.08Z" fill="none" stroke="#e4a01a" stroke-width="1.0"/>
<path d="M197.12 338.36L201.88 335.61L201.88 341.11Z" fill="none" stroke="#e4a01a" stroke-width="1.0"/>
<path d="M197.96 338.57L202.71 335.82L202.71 341.32Z" fill="none" stroke="#e4a01a" stroke-width="1.0"/>
<path d="M198.79 339.41L203.54 336.66L203.54 342.16Z" fill="none" stroke="#e4a01a" stroke-width="1.0"/>
<path d="M199.62 338.13L204.37 335.38L204.37 340.88Z" fill="none" stroke="#e4a01a" stroke-width="1.0"/>
<path d="M200.46 338.13L205.21 335.38L205.21 340.88Z" fill="none" stroke="#e4a01a" stroke-width="1.0"/>
<path d="M201.29 339.6L206.04 336.85L206.04 342.35Z" fill="none" stroke="#e4a01a" stroke-width="1.0"/>
<path d="M202.12 339.88L206.87 337.13L206.87 342.63Z" fill="none" stroke="#e4a01a" stroke-width="1.0"/>
<path d="M202.95 341.07L207.7 338.32L207.7 343.82Z" fill="none" stroke="#e4a01a" stroke-width="1.0"/>
<path d="M203.78 341.34L208.53 338.59L208.53 344.09Z" fill="none" stroke="#e4a01a" stroke-width="1.0"/>
<path d="M204.62 341.13L209.37 338.38L209.37 343.88Z" fill="none" stroke="#e4a01a" stroke-width="1.0"/>
<path d="M205.45 341.61L210.2 338.86L210.2 344.36Z" fill="none" stroke="#e4a01a" stroke-width="1.0"/>
<path d="M206.28 340.69L211.03 337.94L211.03 343.44Z" fill="none" stroke="#e4a01a" stroke-width="1.0"/>
<path d="M207.12 342.47L211.87 339.72L211.87 345.22Z" fill="none" stroke="#e4a01a" stroke-width="1.0"/>
<path d="M207.95 343.09L212.7 340.34L212.7 345.84Z" fill="none" stroke="#e4a01a" stroke-width="1.0"/>
<path d="M208.78 341.36L213.53 338.61L213.53 344.11Z" fill="none" stroke="#e4a01a" stroke-width="1.0"/>
<path d="M209.61 342.61L214.36 339.86L214.36 345.36Z" fill="none" stroke="#e4a01a" stroke-width="1.0"/>
<path d="M210.44 343.76L215.19 341.01L215.19 346.51Z" fill="none" stroke="#e4a01a" stroke-width="1.0"/>
<path d="M211.28 343.2L216.03 340.45L216.03 345.95Z" fill="none" stroke="#e4a01a" stroke-width="1.0"/>
<path d="M212.11 344.65L216.86 341.9L216.86 347.4Z" fill="none" stroke="#e4a01a" stroke-width="1.0"/>
<path d="M212.94 343.86L217.69 341.11L217.69 346.61Z" fill="none" stroke="#e4a01a" stroke-width="1.0"/>
<path d="M213.78 343.19L218.53 340.44L218.53 345.94Z" fill="none" stroke="#e4a01a" stroke-width="1.0"/>
<path d="M214.61 343.75L219.36 341L219.36 346.5Z" fill="none" stroke="#e4a01a" stroke-width="1.0"/>
<path d="M215.44 344.44L220.19 341.69L220.19 347.19Z" fill="none" stroke="#e4a01a" stroke-width="1.0"/>
<path d="M216.27 345.71L221.02 342.96L221.02 348.46Z" fill="none" stroke="#e4a01a" stroke-width="1.0"/>
<path d="M217.1 345.79L221.85 343.04L221.85 348.54Z" fill="none" stroke="#e4a01a" stroke-width="1.0"/>
<path d="M217.94 346.54L222.69 343.79L222.69 349.29Z" fill="none" stroke="#e4a01a" stroke-width="1.0"/>
<path d="M218.77 345.53L223.52 342.78L223.52 348.28Z" fill="none" stroke="#e4a01a" stroke-width="1.0"/>
<path d="M219.6 346.37L224.35 343.62L224.35 349.12Z" fill="none" stroke="#e4a01a" stroke-width="1.0"/>
<path d="M220.44 346.14L225.19 343.39L225.19 348.89Z" fill="none" stroke="#e4a01a" stroke-width="1.0"/>
<path d="M221.27 347.44L226.02 344.69L226.02 350.19Z" fill="none" stroke="#e4a01a" stroke-width="1.0"/>
<path d="M222.1 347.85L226.85 345.1L226.85 350.6Z" fill="none" stroke="#e4a01a" stroke-width="1.0"/>
<path d="M222.93 346.73L227.68 343.98L227.68 349.48Z" fill="none" stroke="#e4a01a" stroke-width="1.0"/>
<path d="M223.77 346.52L228.52 343.77L228.52 349.27Z" fill="none" stroke="#e4a01a" stroke-width="1.0"/>
<path d="M224.6 346.98L229.35 344.23L229.35 349.73Z" fill="none" stroke="#e4a01a" stroke-width="1.0"/>
<path d="M225.43 347.26L230.18 344.51L230.18 350.01Z" fill="none" stroke="#e4a01a" stroke-width="1.0"/>
<path d="M226.26 347.4L231.01 344.65L231.01 350.15Z" fill="none" stroke="#e4a01a" stroke-width="1.0"/>
<path d="M227.09 347.75L231.84 345L231.84 350.5Z" fill="none" stroke="#e4a01a" stroke-width="1.0"/>
<path d="M227.93 349.05L232.68 346.3L232.68 351.8Z" fill="none" stroke="#e4a01a" stroke-width="1.0"/>
<path d="M228.76 348.58L233.51 345.83L233.51 351.33Z" fill="none" stroke="#e4a01a" stroke-width="1.0"/>
<path d="M229.59 349.11L234.34 346.36L234.34 351.86Z" fill="none" stroke="#e4a01a" stroke-width="1.0"/>
<path d="M230.43 350L235.18 347.25L235.18 352.75Z" fill="none" stroke="#e4a01a" stroke-width="1.0"/>
<path d="M231.26 350.17L236.01 347.42L236.01 352.92Z" fill="none" stroke="#e4a01a" stroke-width="1.0"/>
<path d="M232.09 349.79L236.84 347.04L236.84 352.54Z" fill="none" stroke="#e4a01a" stroke-width="1.0"/>
<path d="M232.92 350.01L237.67 347.26L237.67 352.76Z" fill="none" stroke="#e4a01a" stroke-width="1.0"/>
<path d="M233.75 349.23L238.5 346.48L238.5 351.98Z" fill="none" stroke="#e4a01a" stroke-width="1.0"/>
<path d="M234.59 348.82L239.34 346.07L239.34 351.57Z" fill="none" stroke="#e4a01a" stroke-width="1.0"/>
<path d="M235.42 350.11L240.17 347.36L240.17 352.86Z" fill="none" stroke="#e4a01a" stroke-width="1.0"/>
<path d="M236.25 349.95L241 347.2L241 352.7Z" fill="none" stroke="#e4a01a" stroke-width="1.0"/>
<path d="M237.09 350.76L241.84 348.01L241.84 353.51Z" fill="none" stroke="#e4a01a" stroke-width="1.0"/>
<path d="M237.92 351.75L242.67 349L242.67 354.5Z" fill="none" stroke="#e4a01a" stroke-width="1.0"/>
<path d="M238.75 353.96L243.5 351.21L243.5 356.71Z" fill="none" stroke="#e4a01a" stroke-width="1.0"/>
<line x1="58.5" x2="61.7" y1="418.9" y2="418.9" stroke="#111" stroke-width="1.2"/>
<line x1="58.5" x2="61.7" y1="389.58" y2="389.58" stroke="#111" stroke-width="1.2"/>
<line x1="58.5" x2="61.7" y1="360.26" y2="360.26" stroke="#111" stroke-width="1.2"/>
<line x1="58.5" x2="61.7" y1="330.94" y2="330.94" stroke="#111" stroke-width="1.2"/>
<line x1="58.5" x2="61.7" y1="301.62" y2="301.62" stroke="#111" stroke-width="1.2"/>
<line x1="58.5" x2="61.7" y1="272.3" y2="272.3" stroke="#111" stroke-width="1.2"/>
<line x1="58.5" x2="60.3" y1="404.24" y2="404.24" stroke="#111" stroke-width="1.2"/>
<line x1="58.5" x2="60.3" y1="374.92" y2="374.92" stroke="#111" stroke-width="1.2"/>
<line x1="58.5" x2="60.3" y1="345.6" y2="345.6" stroke="#111" stroke-width="1.2"/>
<line x1="58.5" x2="60.3" y1="316.28" y2="316.28" stroke="#111" stroke-width="1.2"/>
<line x1="58.5" x2="60.3" y1="286.96" y2="286.96" stroke="#111" stroke-width="1.2"/>
<line x1="75" x2="75" y1="418.6" y2="415.4" stroke="#111" stroke-width="1.2"/>
<line x1="116.62" x2="116.62" y1="418.6" y2="415.4" stroke="#111" stroke-width="1.2"/>
<line x1="158.25" x2="158.25" y1="418.6" y2="415.4" stroke="#111" stroke-width="1.2"/>
<line x1="199.88" x2="199.88" y1="418.6" y2="415.4" stroke="#111" stroke-width="1.2"/>
<line x1="241.5" x2="241.5" y1="418.6" y2="415.4" stroke="#111" stroke-width="1.2"/>
<line x1="95.81" x2="95.81" y1="418.6" y2="416.8" stroke="#111" stroke-width="1.2"/>
<line x1="137.44" x2="137.44" y1="418.6" y2="416.8" stroke="#111" stroke-width="1.2"/>
<line x1="179.06" x2="179.06" y1="418.6" y2="416.8" stroke="#111" stroke-width="1.2"/>
<line x1="220.69" x2="220.69" y1="418.6" y2="416.8" stroke="#111" stroke-width="1.2"/>
<rect x="58.5" y="257.5" width="199.8" height="161.1" fill="none" stroke="#222" stroke-width="1.45"/>
<text x="54.2" y="422.5" font-size="10.0" text-anchor="end" font-weight="bold" >0</text>
<text x="54.2" y="393.18" font-size="10.0" text-anchor="end" font-weight="bold" >20</text>
<text x="54.2" y="363.86" font-size="10.0" text-anchor="end" font-weight="bold" >40</text>
<text x="54.2" y="334.54" font-size="10.0" text-anchor="end" font-weight="bold" >60</text>
<text x="54.2" y="305.22" font-size="10.0" text-anchor="end" font-weight="bold" >80</text>
<text x="54.2" y="275.9" font-size="10.0" text-anchor="end" font-weight="bold" >100</text>
<text x="75" y="431.4" font-size="10.0" text-anchor="middle" font-weight="bold" >0</text>
<text x="116.62" y="431.4" font-size="10.0" text-anchor="middle" font-weight="bold" >50</text>
<text x="158.25" y="431.4" font-size="10.0" text-anchor="middle" font-weight="bold" >100</text>
<text x="199.88" y="431.4" font-size="10.0" text-anchor="middle" font-weight="bold" >150</text>
<text x="241.5" y="431.4" font-size="10.0" text-anchor="middle" font-weight="bold" >200</text>
<text x="158" y="451.8" font-size="13.4" text-anchor="middle" font-weight="bold" >Cycle number (N)</text>
<text transform="translate(31.4,337.8) rotate(-90)" font-size="13.4" text-anchor="middle" font-weight="bold">Capacity retention (%)</text>
<text x="21.9" y="249.8" font-size="15.2" text-anchor="middle" font-weight="bold" >(c)</text>
<rect x="69" y="369.2" width="102.2" height="35.1" fill="#fff" stroke="#9a9a9a" stroke-width="0.8"/>
<line x1="70" x2="91" y1="375.4" y2="375.4" stroke="#c47be8" stroke-width="1"/>
<rect x="76.4" y="372.4" width="8" height="6" fill="#fff"/>
<path d="M80.4 372.29L83.51 375.4L80.4 378.5L77.3 375.4Z" fill="none" stroke="#c47be8" stroke-width="1.0"/>
<text x="94" y="378.7" font-size="9.0" text-anchor="start" font-weight="bold" >SoC 70%</text>
<line x1="70" x2="91" y1="387" y2="387" stroke="#e2a01e" stroke-width="1"/>
<rect x="76.4" y="384" width="8" height="6" fill="#fff"/>
<path d="M77.43 387L82.56 384.03L82.56 389.97Z" fill="none" stroke="#e2a01e" stroke-width="1.0"/>
<text x="94" y="390.3" font-size="9.0" text-anchor="start" font-weight="bold" >SoC 100%</text>
<line x1="70" x2="91" y1="398.6" y2="398.6" stroke="#22c0c6" stroke-width="1"/>
<rect x="76.4" y="395.6" width="8" height="6" fill="#fff"/>
<path d="M83.37 398.6L78.24 395.63L78.24 401.57Z" fill="none" stroke="#22c0c6" stroke-width="1.0"/>
<text x="94" y="401.9" font-size="9.0" text-anchor="start" font-weight="bold" >Non-fatigued cell</text>
<line x1="337.3" x2="537" y1="402.58" y2="402.58" stroke="#f0f0f0" stroke-width="0.8"/>
<line x1="337.3" x2="537" y1="386.56" y2="386.56" stroke="#f0f0f0" stroke-width="0.8"/>
<line x1="337.3" x2="537" y1="370.54" y2="370.54" stroke="#f0f0f0" stroke-width="0.8"/>
<line x1="337.3" x2="537" y1="354.52" y2="354.52" stroke="#f0f0f0" stroke-width="0.8"/>
<line x1="337.3" x2="537" y1="338.5" y2="338.5" stroke="#f0f0f0" stroke-width="0.8"/>
<line x1="337.3" x2="537" y1="322.48" y2="322.48" stroke="#f0f0f0" stroke-width="0.8"/>
<line x1="337.3" x2="537" y1="306.46" y2="306.46" stroke="#f0f0f0" stroke-width="0.8"/>
<line x1="337.3" x2="537" y1="290.44" y2="290.44" stroke="#f0f0f0" stroke-width="0.8"/>
<line x1="337.3" x2="537" y1="274.42" y2="274.42" stroke="#f0f0f0" stroke-width="0.8"/>
<line x1="374.9" x2="374.9" y1="257.7" y2="418.8" stroke="#f0f0f0" stroke-width="0.8"/>
<line x1="406.05" x2="406.05" y1="257.7" y2="418.8" stroke="#f0f0f0" stroke-width="0.8"/>
<line x1="437.2" x2="437.2" y1="257.7" y2="418.8" stroke="#f0f0f0" stroke-width="0.8"/>
<line x1="468.35" x2="468.35" y1="257.7" y2="418.8" stroke="#f0f0f0" stroke-width="0.8"/>
<line x1="499.5" x2="499.5" y1="257.7" y2="418.8" stroke="#f0f0f0" stroke-width="0.8"/>
<line x1="530.65" x2="530.65" y1="257.7" y2="418.8" stroke="#f0f0f0" stroke-width="0.8"/>
<line x1="343.7" x2="343.7" y1="257.7" y2="418.8" stroke="#f0f0f0" stroke-width="0.8"/>
<rect x="338.3" y="259" width="66.3" height="61.5" fill="#fff" stroke="#9a9a9a" stroke-width="0.8"/>
<rect x="339.9" y="260.7" width="18.8" height="8.4" fill="#b4b4b4" stroke="#6a6a6a" stroke-width="0.6"/>
<text x="361.2" y="267.4" font-size="7.9" text-anchor="start" font-weight="bold" >1st cycle</text>
<rect x="339.9" y="270.65" width="18.8" height="8.4" fill="url(#hR)" stroke="#8a3a3a" stroke-width="0.6"/>
<text x="361.2" y="277.35" font-size="7.9" text-anchor="start" font-weight="bold" >20th cycle</text>
<rect x="339.9" y="280.6" width="18.8" height="8.4" fill="url(#hB)" stroke="#2a4a7a" stroke-width="0.6"/>
<text x="361.2" y="287.3" font-size="7.9" text-anchor="start" font-weight="bold" >40th cycle</text>
<rect x="339.9" y="290.55" width="18.8" height="8.4" fill="url(#hG)" stroke="#2a5a44" stroke-width="0.6"/>
<text x="361.2" y="297.25" font-size="7.9" text-anchor="start" font-weight="bold" >60th cycle</text>
<rect x="339.9" y="300.5" width="18.8" height="8.4" fill="url(#hP)" stroke="#7a5a8a" stroke-width="0.6"/>
<text x="361.2" y="307.2" font-size="7.9" text-anchor="start" font-weight="bold" >80th cycle</text>
<rect x="339.9" y="310.45" width="18.8" height="8.4" fill="#a8842e" stroke="#5a4a2a" stroke-width="0.6"/>
<text x="361.2" y="317.15" font-size="7.9" text-anchor="start" font-weight="bold" >100th cycle</text>
<rect x="347.3" y="394.04" width="4" height="24.76" fill="#b4b4b4" stroke="#6a6a6a" stroke-width="0.5"/>
<rect x="351.3" y="404.4" width="4" height="14.4" fill="url(#hR)" stroke="#8a3a3a" stroke-width="0.5"/>
<rect x="355.3" y="414.76" width="4" height="4.04" fill="url(#hB)" stroke="#2a4a7a" stroke-width="0.5"/>
<rect x="359.3" y="416.46" width="4" height="2.34" fill="url(#hG)" stroke="#2a5a44" stroke-width="0.5"/>
<rect x="363.3" y="416.89" width="4" height="1.91" fill="url(#hP)" stroke="#7a5a8a" stroke-width="0.5"/>
<rect x="367.3" y="417.53" width="4" height="1.27" fill="#a8842e" stroke="#5a4a2a" stroke-width="0.5"/>
<rect x="378.45" y="359.01" width="4" height="59.79" fill="#b4b4b4" stroke="#6a6a6a" stroke-width="0.5"/>
<rect x="382.45" y="404.4" width="4" height="14.4" fill="url(#hR)" stroke="#8a3a3a" stroke-width="0.5"/>
<rect x="386.45" y="407.6" width="4" height="11.2" fill="url(#hB)" stroke="#2a4a7a" stroke-width="0.5"/>
<rect x="390.45" y="407.6" width="4" height="11.2" fill="url(#hG)" stroke="#2a5a44" stroke-width="0.5"/>
<rect x="394.45" y="407.28" width="4" height="11.52" fill="url(#hP)" stroke="#7a5a8a" stroke-width="0.5"/>
<rect x="398.45" y="407.92" width="4" height="10.88" fill="#a8842e" stroke="#5a4a2a" stroke-width="0.5"/>
<rect x="409.6" y="290.44" width="4" height="128.36" fill="#b4b4b4" stroke="#6a6a6a" stroke-width="0.5"/>
<rect x="413.6" y="388.59" width="4" height="30.21" fill="url(#hR)" stroke="#8a3a3a" stroke-width="0.5"/>
<rect x="417.6" y="389.44" width="4" height="29.36" fill="url(#hB)" stroke="#2a4a7a" stroke-width="0.5"/>
<rect x="421.6" y="390.08" width="4" height="28.72" fill="url(#hG)" stroke="#2a5a44" stroke-width="0.5"/>
<rect x="425.6" y="399.27" width="4" height="19.53" fill="url(#hP)" stroke="#7a5a8a" stroke-width="0.5"/>
<rect x="429.6" y="405.57" width="4" height="13.23" fill="#a8842e" stroke="#5a4a2a" stroke-width="0.5"/>
<rect x="440.75" y="285.95" width="4" height="132.85" fill="#b4b4b4" stroke="#6a6a6a" stroke-width="0.5"/>
<rect x="444.75" y="315.54" width="4" height="103.26" fill="url(#hR)" stroke="#8a3a3a" stroke-width="0.5"/>
<rect x="448.75" y="331.77" width="4" height="87.03" fill="url(#hB)" stroke="#2a4a7a" stroke-width="0.5"/>
<rect x="452.75" y="344.59" width="4" height="74.21" fill="url(#hG)" stroke="#2a5a44" stroke-width="0.5"/>
<rect x="456.75" y="360.71" width="4" height="58.09" fill="url(#hP)" stroke="#7a5a8a" stroke-width="0.5"/>
<rect x="460.75" y="375.24" width="4" height="43.56" fill="#a8842e" stroke="#5a4a2a" stroke-width="0.5"/>
<rect x="471.9" y="292.47" width="4" height="126.33" fill="#b4b4b4" stroke="#6a6a6a" stroke-width="0.5"/>
<rect x="475.9" y="290.44" width="4" height="128.36" fill="url(#hR)" stroke="#8a3a3a" stroke-width="0.5"/>
<rect x="479.9" y="301.76" width="4" height="117.04" fill="url(#hB)" stroke="#2a4a7a" stroke-width="0.5"/>
<rect x="483.9" y="301.12" width="4" height="117.68" fill="url(#hG)" stroke="#2a5a44" stroke-width="0.5"/>
<rect x="487.9" y="302.72" width="4" height="116.08" fill="url(#hP)" stroke="#7a5a8a" stroke-width="0.5"/>
<rect x="491.9" y="302.72" width="4" height="116.08" fill="#a8842e" stroke="#5a4a2a" stroke-width="0.5"/>
<rect x="503.05" y="281.15" width="4" height="137.65" fill="#b4b4b4" stroke="#6a6a6a" stroke-width="0.5"/>
<rect x="507.05" y="309.77" width="4" height="109.03" fill="url(#hR)" stroke="#8a3a3a" stroke-width="0.5"/>
<rect x="511.05" y="338.18" width="4" height="80.62" fill="url(#hB)" stroke="#2a4a7a" stroke-width="0.5"/>
<rect x="515.05" y="345.66" width="4" height="73.14" fill="url(#hG)" stroke="#2a5a44" stroke-width="0.5"/>
<rect x="519.05" y="335.51" width="4" height="83.29" fill="url(#hP)" stroke="#7a5a8a" stroke-width="0.5"/>
<rect x="523.05" y="332.31" width="4" height="86.49" fill="#a8842e" stroke="#5a4a2a" stroke-width="0.5"/>
<line x1="337.3" x2="340.5" y1="418.6" y2="418.6" stroke="#111" stroke-width="1.2"/>
<line x1="337.3" x2="340.5" y1="386.56" y2="386.56" stroke="#111" stroke-width="1.2"/>
<line x1="337.3" x2="340.5" y1="354.52" y2="354.52" stroke="#111" stroke-width="1.2"/>
<line x1="337.3" x2="340.5" y1="322.48" y2="322.48" stroke="#111" stroke-width="1.2"/>
<line x1="337.3" x2="340.5" y1="290.44" y2="290.44" stroke="#111" stroke-width="1.2"/>
<line x1="337.3" x2="340.5" y1="258.4" y2="258.4" stroke="#111" stroke-width="1.2"/>
<line x1="337.3" x2="339.1" y1="402.58" y2="402.58" stroke="#111" stroke-width="1.2"/>
<line x1="337.3" x2="339.1" y1="370.54" y2="370.54" stroke="#111" stroke-width="1.2"/>
<line x1="337.3" x2="339.1" y1="338.5" y2="338.5" stroke="#111" stroke-width="1.2"/>
<line x1="337.3" x2="339.1" y1="306.46" y2="306.46" stroke="#111" stroke-width="1.2"/>
<line x1="337.3" x2="339.1" y1="274.42" y2="274.42" stroke="#111" stroke-width="1.2"/>
<line x1="359.3" x2="359.3" y1="418.8" y2="415.8" stroke="#111" stroke-width="1.2"/>
<line x1="390.45" x2="390.45" y1="418.8" y2="415.8" stroke="#111" stroke-width="1.2"/>
<line x1="421.6" x2="421.6" y1="418.8" y2="415.8" stroke="#111" stroke-width="1.2"/>
<line x1="452.75" x2="452.75" y1="418.8" y2="415.8" stroke="#111" stroke-width="1.2"/>
<line x1="483.9" x2="483.9" y1="418.8" y2="415.8" stroke="#111" stroke-width="1.2"/>
<line x1="515.05" x2="515.05" y1="418.8" y2="415.8" stroke="#111" stroke-width="1.2"/>
<line x1="374.9" x2="374.9" y1="418.8" y2="417" stroke="#111" stroke-width="1.2"/>
<line x1="406.05" x2="406.05" y1="418.8" y2="417" stroke="#111" stroke-width="1.2"/>
<line x1="437.2" x2="437.2" y1="418.8" y2="417" stroke="#111" stroke-width="1.2"/>
<line x1="468.35" x2="468.35" y1="418.8" y2="417" stroke="#111" stroke-width="1.2"/>
<line x1="499.5" x2="499.5" y1="418.8" y2="417" stroke="#111" stroke-width="1.2"/>
<line x1="530.65" x2="530.65" y1="418.8" y2="417" stroke="#111" stroke-width="1.2"/>
<line x1="343.7" x2="343.7" y1="418.8" y2="417" stroke="#111" stroke-width="1.2"/>
<rect x="337.3" y="257.7" width="199.7" height="161.1" fill="none" stroke="#222" stroke-width="1.45"/>
<text x="333" y="422.2" font-size="10.4" text-anchor="end" font-weight="bold" >0</text>
<text x="333" y="390.16" font-size="10.4" text-anchor="end" font-weight="bold" >3</text>
<text x="333" y="358.12" font-size="10.4" text-anchor="end" font-weight="bold" >6</text>
<text x="333" y="326.08" font-size="10.4" text-anchor="end" font-weight="bold" >9</text>
<text x="333" y="294.04" font-size="10.4" text-anchor="end" font-weight="bold" >12</text>
<text x="333" y="262" font-size="10.4" text-anchor="end" font-weight="bold" >15</text>
<text x="359.3" y="431.3" font-size="10.6" text-anchor="middle" font-weight="bold" >0</text>
<text x="390.45" y="431.3" font-size="10.6" text-anchor="middle" font-weight="bold" >20</text>
<text x="421.6" y="431.3" font-size="10.6" text-anchor="middle" font-weight="bold" >40</text>
<text x="452.75" y="431.3" font-size="10.6" text-anchor="middle" font-weight="bold" >60</text>
<text x="483.9" y="431.3" font-size="10.6" text-anchor="middle" font-weight="bold" >70</text>
<text x="515.05" y="431.3" font-size="10.6" text-anchor="middle" font-weight="bold" >100</text>
<text x="436.9" y="451.7" font-size="12.4" text-anchor="middle" font-weight="bold" letter-spacing="0.8">SoC (%)</text>
<text transform="translate(316,337.5) rotate(-90)" font-size="13.8" text-anchor="middle" font-weight="bold">Capacity (mAh)</text>
<text x="300.8" y="249.8" font-size="15.2" text-anchor="middle" font-weight="bold" >(d)</text>
</svg></body></html>
